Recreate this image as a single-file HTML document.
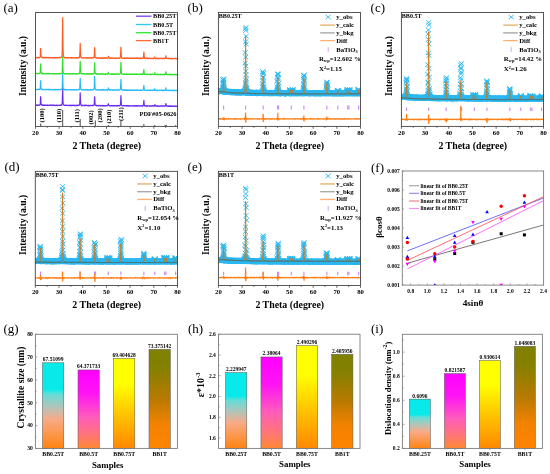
<!DOCTYPE html>
<html><head><meta charset="utf-8"><style>
html,body{margin:0;padding:0;background:#fff;width:550px;height:474px;overflow:hidden}
svg{display:block;will-change:transform}
text{font-family:"Liberation Serif",serif}
</style></head><body>
<svg width="550" height="474" viewBox="0 0 550 474" font-family="Liberation Serif">
<rect width="550" height="474" fill="#fff"/>
<defs><marker id="mx" markerUnits="userSpaceOnUse" markerWidth="60" markerHeight="60" refX="30" refY="30" overflow="visible"><path d="M5,8L55,52M55,8L5,52" stroke="#28b8f2" stroke-width="9" fill="none"/></marker><clipPath id="ca"><rect x="35.45" y="12.55" width="142.05" height="113.85"/></clipPath></defs>
<g clip-path="url(#ca)">
<path transform="scale(.1)" d="M354,1051l2-1 1 3 1-3 1 2 1-1 2-1 1 2 1-2 1 2 1-2 2 0 1 2 1 2 1-4 1 1 1 2 2 1 1-2 1-1 1 3 1-4 2 4 1-3 1-1 1 0 1 1 1 2 2-3 1 2 1 0 1-1 1 0 2-2 1-1 1 1 1 2 1-2 1-2 2-1 1-7 1-14 1-19 1-26 2-15 1 15 1 25 1 23 1 12 2 4 1 6 1-3 1 3 1 2 1-3 2 2 1-2 1 3 1 1 1-1 2 2 1-3 1 2 1 0 1 0 1-1 2 2 1 0 1-2 1 1 1-3 2 3 1 0 1 2 1-1 1-3 1 1 2 1 1-3 1 2 1-1 1 0 2-1 1 4 1-3 1 0 1 1 1 2 2-3 1 1 1 1 1 2 1-1 2 1 1-3 1 0 1 0 1 3 2 0 1-4 1 0 1 0 1 0 1 2 2 0 1-1 1-2 1 2 1 0 2 1 1 2 1-1 1-1 1 0 1 1 2-3 1 4 1-1 1 1 1-1 2-2 1 0 1-1 1 3 1-3 1 0 2 1 1-1 1 1 1-1 1 0 2 0 1 0 1 1 1-1 1 4 1-1 2-3 1 1 1 0 1 0 1-1 2 4 1 1 1-3 1 0 1-2 2 0 1 1 1 0 1 3 1-4 1 0 2 4 1-2 1-2 1 2 1-2 2 2 1 3 1-1 1-1 1-2 1 1 2-1 1 3 1-2 1 2 1-3 2 0 1 3 1 1 1-1 1 0 1 0 2 0 1-3 1 1 1 0 1-2 2 0 1 1 1 0 1 2 1 2 1-3 2 3 1 0 1 0 1-3 1-1 2 0 1 0 1 0 1 2 1 1 2 0 1-2 1 1 1 1 1-4 1 3 2 1 1 0 1-1 1-1 1-1 2 3 1-3 1 3 1 0 1-3 1 0 2 3 1-1 1-3 1-1 1 0 2 4 1-1 1-4 1 3 1 0 1-3 2-4 1-4 1-14 1-26 1-37 2-50 1-25 1 27 1 46 1 43 1 25 2 9 1 5 1 3 1 1 1 3 2-1 1 1 1-1 1 4 1-2 2 0 1 1 1 2 1-2 1 2 1-2 2 1 1 0 1-3 1 2 1-1 2-1 1 4 1-3 1 2 1 1 1-1 2-1 1 1 1 0 1 1 1-3 2 2 1-1 1 0 1 2 1-1 1 0 2 1 1 1 1-2 1 1 1-1 2 0 1 1 1-1 1 0 1 0 2 2 1-1 1 1 1 0 1-3 1 2 2 1 1 0 1-4 1 0 1 2 2-2 1 1 1-1 1 3 1 1 1 0 2-3 1 2 1 0 1-2 1 3 2 1 1-4 1 4 1-3 1 0 1 3 2-1 1-3 1 1 1 1 1-1 2-1 1 1 1 2 1-4 1 3 1-1 2-2 1 2 1 1 1 0 1-3 2 5 1-1 1 1 1-4 1 0 2-1 1 4 1-3 1 0 1 1 1 3 2-1 1-3 1 0 1 4 1-2 2 1 1-3 1-1 1 4 1-2 1-2 2 5 1-2 1 1 1-4 1 4 2-4 1 4 1-2 1 0 1 1 1 1 2-3 1-1 1 2 1-1 1-1 2 0 1-1 1 1 1 0 1-1 1 2 2-4 1 0 1-6 1-8 1-21 2-31 1-38 1-16 1 18 1 36 2 33 1 22 1 5 1 7 1 0 1 2 2 2 1-2 1 1 1 2 1 1 2-3 1 3 1-1 1 0 1-1 1 0 2-2 1 1 1 0 1 3 1-2 2-1 1 0 1 4 1 0 1-1 1-2 2 0 1 0 1 1 1-2 1 2 2-1 1 4 1 0 1-2 1-2 1 4 2-4 1 1 1-2 1 2 1 0 2 0 1-1 1 1 1-2 1 1 2-1 1 2 1-2 1 0 1 2 1-1 2 2 1 0 1 1 1-1 1 1 2 0 1-2 1 0 1 3 1-4 1 3 2-1 1-3 1 4 1 1 1-2 2 1 1 0 1-3 1 2 1 0 1 1 2 0 1 0 1-1 1 2 1-1 2 0 1-3 1-1 1 1 1 1 1-1 2 3 1-1 1 0 1 0 1 1 2-1 1-3 1 4 1 0 1-1 2 0 1 0 1-3 1 4 1-3 1-1 2 1 1 2 1-2 1 2 1 1 2-3 1-1 1 0 1 1 1-1 1-4 2-6 1-16 1-23 1-26 1-11 2 12 1 27 1 20 1 14 1 8 1 4 2 2 1 1 1-2 1 2 1 0 2 0 1-2 1 4 1-3 1 4 1 0 2-5 1 3 1 1 1 1 1-2 2-1 1 0 1 3 1-3 1 2 2-3 1 2 1 2 1-4 1 4 1-2 2 2 1-1 1-2 1 3 1-2 2-2 1 0 1 2 1 0 1-1 1 0 2 1 1 0 1 2 1-4 1 4 2 0 1-3 1 4 1-1 1 1 1-4 2 1 1 0 1 3 1-2 1-1 2 0 1-1 1-1 1 1 1 3 2-2 1 3 1-4 1 0 1 2 1-2 2 1 1 3 1 0 1-1 1-1 2 2 1 0 1-2 1 1 1-3 1 3 2-1 1 1 1 0 1-2 1-1 2 4 1-4 1 2 1-1 1 0 1 2 2 1 1-3 1 2 1-2 1 1 2-1 1-1 1 0 1 0 1 4 1-2 2-2 1 4 1 0 1-3 1-1 2-1 1-1 1 0 1-4 1-4 2-6 1-2 1 5 1 5 1 4 1 3 2 2 1 0 1 0 1-2 1 2 2 3 1-4 1 2 1 1 1 1 1-3 2 0 1 0 1 1 1 0 1 2 2 0 1 0 1-4 1 0 1 3 1 1 2-2 1 1 1-3 1 2 1 2 2 0 1 0 1 1 1-4 1-1 1 1 2 1 1 1 1 2 1-1 1-1 2 1 1-2 1 1 1-3 1 4 2-3 1 4 1-2 1-2 1 0 1 0 2 2 1 0 1-2 1-1 1 3 2 0 1-1 1-1 1 2 1-3 1 2 2 0 1 3 1-2 1 1 1-2 2-1 1 0 1 4 1-1 1-2 1-2 2 3 1 0 1-1 1-1 1 2 2 2 1-4 1-1 1 2 1 0 1 1 2-2 1 3 1-1 1-1 1-1 2 3 1-3 1 2 1-3 1 0 2 2 1-3 1 3 1-4 1-5 1-7 2-14 1-24 1-28 1-19 1 16 2 29 1 29 1 11 1 7 1 3 1 3 2 3 1 1 1-1 1 2 1 0 2-3 1 0 1 3 1 0 1-4 1 3 2-1 1 0 1 0 1-1 1-1 2 2 1 0 1 3 1-4 1 4 1-3 2 0 1 3 1 0 1-2 1-2 2 2 1 0 1 2 1-3 1 1 2 2 1-4 1 2 1 2 1 0 1-4 2 0 1 0 1 4 1-3 1 3 2 0 1-2 1-1 1 4 1-2 1-2 2 3 1-2 1-1 1-1 1 4 2 1 1-2 1 2 1-5 1 1 1 1 2 3 1 0 1-3 1-1 1 1 2 1 1 2 1-4 1 3 1 0 1 0 2 0 1-1 1-1 1 0 1 0 2 2 1-3 1 0 1 3 1-3 2 0 1-1 1 3 1-1 1 3 1 0 2 0 1-3 1-1 1 0 1 2 2 1 1-1 1-2 1 1 1 1 1 1 2 0 1 1 1-1 1-3 1 4 2-3 1 1 1-1 1 2 1-3 1 1 2 0 1-1 1 4 1-2 1-1 2 0 1 3 1-2 1-1 1 3 2-1 1 1 1-4 1 2 1 2 1 0 2 0 1-4 1 1 1-1 1 1 2 3 1-1 1 1 1-3 1 3 1-2 2-1 1 3 1 0 1-4 1 3 2 0 1-2 1 1 1-2 1 1 1 0 2 2 1 0 1-2 1-1 1 1 2 2 1-2 1 0 1 0 1 3 1-2 2-2 1 0 1 2 1 0 1 1 2-3 1 1 1 2 1-1 1-1 2 0 1 3 1-3 1 1 1-1 1 0 2 3 1 0 1-3 1-1 1 2 2-3 1-2 1 3 1-6 1-7 1-16 2-13 1-11 1 7 1 16 1 16 2 9 1 5 1-2 1 3 1-1 1 1 2-1 1 1 1 1 1 2 1-4 2 2 1 2 1 1 1-4 1 0 1 4 2 0 1-3 1-2 1 5 1-3 2 3 1-2 1 1 1-3 1 3 2-3 1 1 1 3 1-1 1-3 1 0 2 1 1 1 1-1 1-1 1 1 2 2 1 1 1-4 1 2 1 1 1-3 2 4 1-4 1 2 1 0 1 1 2-2 1 1 1 0 1 0 1 1 1-1 2 0 1-2 1 3 1-1 1-1 2 2 1 1 1-2 1-1 1 1 1-2 2 0 1 2 1-2 1 2 1 0 2-2 1 3 1-3 1 3 1 0 2-1 1-2 1 2 1-1 1 3 1-4 2 3 1 1 1-3 1-2 1-7 2 0 1-5 1 5 1 4 1 0 1 6 2 1 1-4 1 2 1 2 1-3 2 4 1-3 1 3 1-3 1 1 1 2 2-3 1 0 1 1 1 0 1-2 2 1 1 0 1 4 1-2 1 2 1-4 2 3 1-3 1 2 1 0 1-1 2 2 1-1 1 0 1 2 1-4 2 4 1-2 1-1 1 2 1-2 1 3 2-2 1-1 1 2 1-2 1-1 2 3 1-3 1 3 1-2 1 1 1 2 2-2 1 1 1-2 1-2 1 0 2 1 1 2 1 0 1 0 1 2 1-4 2 0 1 3 1-4 1 0 1 2 2-1 1 1 1-1 1 2 1 0 2-2 1 2 1 0 1-2 1 4 1-3 2-1 1 0 1 2 1 1 1 0 2-2 1-1 1-2 1 3 1-3 1-5 2-6 1-9 1-2 1 4 1 5 2 11 1 0 1 4 1 0 1 0 1-1 2 4 1-4 1 3 1 2 1-4 2 1 1 2 1-1 1 1 1 1 1-3 2 0 1 0 1-1 1 4 1 0 2-1 1-3 1 4 1 0 1-2 2 2 1-2 1-1 1-1 1 1 1-1 2 2 1 2 1-1 1 1 1 0 2-3 1 2 1-1 1 2 1-1 1-2 2 2 1 2 1-4 1 3 1-4 2 1 1 0 1 3 1 1 1-1 1-2 2 3 1-3 1-1 1 4 1-2 2 1 1 0 1 1 1-2 1 1 1 0 2 1 1-3 1 2 1-1 1-1 2-1 1 2 1-2 1 4 1-4 2-1 1 1 1 4 1-3 1-1 1 0 2 0 1 3 1 0 1 0 1 0 2-3 1 2 1-1 1 3 1 0 1 0 2-4 1 4 1 0" fill="none" stroke="#6a2cf0" stroke-width="11.5" stroke-linejoin="round"/>
<path transform="scale(.1)" d="M354,897l2-4 1 0 1 0 1 0 1 4 2-1 1 0 1 1 1-1 1-2 2-1 1 0 1 3 1-3 1 1 1 1 2-2 1 1 1 0 1 2 1-2 2 0 1 3 1-2 1 1 1-1 1-3 2 2 1 0 1 2 1-3 1 2 2-1 1-2 1 3 1-4 1 3 1-5 2-3 1-6 1-11 1-21 1-31 2-11 1 14 1 27 1 20 1 15 2 5 1 6 1-2 1 4 1-3 1 0 2 3 1-1 1-1 1 2 1-2 2 3 1 0 1 0 1 0 1-2 1 1 2 0 1 2 1-4 1 4 1-4 2 1 1 0 1 3 1-2 1 0 1 2 2-3 1 1 1 1 1 1 1 0 2-1 1-1 1 0 1-1 1 3 1-1 2 1 1-3 1 1 1 2 1-1 2-2 1 2 1 2 1-4 1 0 2 1 1 2 1 0 1-3 1 0 1 1 2 0 1 1 1-2 1 1 1-1 2 4 1-1 1-3 1 4 1-4 1 1 2 3 1-1 1 0 1-1 1-2 2 3 1-3 1 0 1 1 1-1 1 1 2 2 1 0 1-1 1 1 1-1 2-2 1 3 1-1 1 1 1 1 1-2 2 0 1 1 1-1 1-1 1 2 2 1 1-1 1 0 1 1 1-1 2 0 1-1 1-1 1 2 1-3 1 2 2 2 1-1 1 0 1-2 1 1 2 0 1 1 1-1 1 1 1 1 1-3 2 2 1 1 1-2 1 0 1 3 2-5 1 3 1-2 1 3 1 1 1-3 2-2 1 3 1 0 1 0 1-1 2 1 1 1 1-2 1 0 1 3 1-4 2 2 1-1 1 2 1-4 1 5 2-3 1-2 1 1 1 1 1-2 2 2 1 0 1 1 1-1 1-1 1 0 2 2 1 1 1-2 1-1 1 3 2-2 1-1 1-1 1 3 1 0 1-1 2 0 1 0 1-2 1 4 1-4 2 1 1 1 1-1 1-2 1-2 1 0 2-4 1-2 1-13 1-22 1-43 2-47 1-24 1 24 1 46 1 40 1 27 2 10 1 5 1 2 1 2 1 1 2 2 1 0 1-1 1 3 1 0 2-4 1 4 1 1 1 0 1-4 1 4 2-1 1-3 1 0 1 5 1-2 2-2 1 0 1 0 1 0 1 3 1-2 2-1 1 4 1-1 1-3 1 4 2-1 1 0 1 0 1 1 1-1 1 1 2-3 1 2 1-1 1 1 1-1 2 2 1-2 1-1 1 0 1-1 2 2 1-2 1 2 1-2 1 2 1 0 2 0 1 2 1-4 1 4 1-2 2 1 1 0 1 1 1-2 1 0 1 3 2-5 1 3 1 0 1-3 1 3 2 0 1 2 1-3 1 3 1-2 1-1 2 2 1-4 1 4 1-1 1-1 2 2 1-2 1 0 1 1 1 1 1-3 2 1 1 0 1 1 1 1 1-2 2 2 1-2 1 1 1-2 1 2 2 2 1-2 1 1 1-2 1 0 1 0 2 1 1 0 1 1 1-4 1 4 2 1 1-2 1-3 1 2 1-2 1 1 2 4 1-2 1 0 1 1 1 1 2-2 1 0 1 0 1 0 1 0 1 0 2-2 1 2 1-1 1 1 1-3 2 0 1-1 1 4 1 0 1-2 1-2 2 2 1-2 1-5 1-10 1-17 2-28 1-34 1-16 1 18 1 35 2 24 1 20 1 6 1 3 1 6 1-1 2 3 1-2 1-2 1 2 1 1 2 2 1 1 1-3 1 0 1-1 1 2 2-2 1 0 1-1 1 0 1 4 2-3 1 4 1-4 1 4 1-4 1 0 2 3 1-2 1 2 1-2 1-1 2 4 1-1 1 1 1-1 1-3 1 3 2 0 1-1 1 3 1-4 1 4 2-2 1-3 1 0 1 3 1 1 2-4 1 1 1 3 1-3 1 3 1-2 2-2 1 2 1 1 1-1 1 1 2-2 1 3 1-2 1 1 1 0 1-1 2 0 1 2 1 1 1-1 1-1 2-1 1-2 1 5 1-1 1 0 1-2 2 1 1 2 1-1 1-1 1-1 2 0 1 3 1-3 1 2 1-1 1 2 2-1 1-2 1-2 1 1 1 1 2 1 1 1 1 0 1-4 1 4 2 0 1 0 1-1 1-2 1 3 1 0 2-1 1 1 1-3 1-2 1 2 2 1 1-4 1 2 1 0 1-5 1-3 2-9 1-22 1-36 1-40 1-18 2 21 1 39 1 32 1 25 1 9 1 2 2 4 1 2 1 1 1-1 1 0 2 1 1-2 1 0 1 1 1 2 1-1 2 1 1-1 1 1 1-2 1 0 2 4 1-3 1-1 1 3 1 0 2-3 1 3 1-2 1 1 1-2 1 0 2 5 1-1 1-2 1 1 1-2 2 3 1-2 1 3 1-1 1 0 1 1 2-4 1-1 1 1 1 0 1-1 2 0 1 3 1 1 1-2 1 3 1 0 2-5 1 3 1-1 1-1 1 4 2-4 1 2 1 0 1 2 1-2 2-1 1 0 1-1 1 4 1 0 1-4 2-1 1 1 1 1 1 3 1 0 2-1 1-4 1 4 1 0 1-1 1 2 2-4 1 0 1 3 1 1 1-1 2-2 1 1 1 1 1-3 1 1 1 0 2-1 1 2 1-2 1 1 1-1 2 3 1-4 1 4 1-3 1-1 1 5 2-4 1 4 1-1 1 0 1-4 2 2 1-3 1 3 1-3 1-6 2-7 1-4 1 6 1 4 1 6 1 0 2 2 1 0 1 3 1 0 1-2 2 4 1-3 1 0 1-1 1 1 1 3 2-3 1-1 1 2 1-1 1 3 2-4 1 5 1-5 1 4 1-1 1-2 2 1 1-1 1 0 1 0 1 1 2 3 1 0 1-1 1-4 1 1 1 3 2-4 1 4 1-3 1 4 1-5 2 4 1-2 1-1 1-1 1 4 2-1 1-2 1 1 1 3 1-4 1 2 2-2 1 0 1 3 1 0 1-3 2-1 1 0 1 3 1-1 1-1 1 0 2 2 1 1 1 0 1-1 1-2 2-1 1 4 1-2 1 2 1-4 1 4 2-2 1 2 1 0 1-2 1-2 2 5 1-3 1 2 1-3 1 0 1 3 2-2 1-1 1 1 1 1 1-4 2 3 1-1 1 1 1-3 1 3 2 0 1 0 1-4 1 1 1-5 1-6 2-20 1-23 1-31 1-18 1 16 2 32 1 27 1 13 1 13 1-1 1 2 2 0 1 1 1 4 1-4 1 1 2 3 1-2 1-1 1 3 1 0 1 0 2 1 1-3 1 4 1-1 1-3 2 0 1 2 1 0 1-1 1-1 1 2 2-2 1 3 1 1 1-4 1 2 2 1 1-3 1 4 1 0 1-2 2 0 1 2 1-2 1 0 1 2 1 0 2-3 1 0 1 0 1 1 1 3 2-1 1 0 1 0 1 0 1-4 1 2 2 3 1 0 1-4 1 1 1 1 2-1 1 1 1-3 1 2 1 1 1-3 2 1 1 4 1-1 1 1 1-2 2 1 1 1 1 0 1-5 1 3 1-2 2 3 1-2 1 1 1 2 1-2 2-2 1 2 1-1 1 3 1-3 2 0 1 1 1-2 1 2 1 2 1-2 2-1 1 1 1 0 1-2 1 0 2 0 1 1 1 0 1 0 1 0 1-1 2 2 1 2 1-2 1 0 1 1 2-3 1 3 1-1 1 0 1 1 1-1 2-1 1 0 1 0 1 1 1-1 2 1 1-2 1 1 1 3 1-3 2 1 1 0 1-1 1 3 1-3 1 2 2-3 1 0 1 4 1-2 1-2 2 2 1 0 1 1 1-3 1 1 1 3 2-1 1-3 1 1 1 0 1 2 2 0 1 1 1 0 1-2 1 1 1 0 2 1 1-2 1 2 1-1 1 1 2-4 1 4 1-4 1 4 1-1 1-1 2 3 1-2 1-1 1 2 1 0 2-1 1-1 1 0 1 0 1 1 2-2 1 1 1 0 1-1 1 0 1 2 2 1 1-2 1-1 1-1 1 0 2-1 1 1 1-1 1-6 1-4 1-15 2-12 1-8 1 8 1 11 1 14 2 10 1-1 1 2 1 3 1 0 1 3 2-1 1-1 1 3 1-3 1 0 2 1 1-1 1 0 1 1 1-1 1 3 2-2 1 0 1-2 1 1 1 0 2 1 1 0 1 2 1 0 1-2 2-1 1 1 1 2 1-3 1 1 1 1 2-3 1 1 1 3 1 0 1-2 2-2 1 4 1-1 1 1 1 0 1 0 2-2 1-2 1 1 1 1 1 0 2-2 1 0 1 3 1 0 1-2 1 4 2-2 1-3 1 2 1 2 1-3 2 2 1-3 1 1 1 3 1-1 1 0 2-2 1 1 1 0 1-1 1 2 2-1 1 3 1-3 1 0 1-2 2 0 1 3 1-3 1 0 1 0 1 2 2 1 1-1 1 0 1-6 1-4 2-1 1-5 1 5 1 2 1 3 1 3 2 0 1 5 1-2 1-1 1 1 2 0 1-2 1 4 1-1 1 2 1-3 2 1 1-2 1-1 1 5 1-1 2-2 1 2 1 0 1-2 1 1 1 2 2-2 1 2 1-4 1 1 1 2 2-3 1 1 1 3 1-2 1 1 2-3 1 0 1 1 1-1 1 4 1-3 2 1 1-2 1 2 1-1 1 0 2-1 1 0 1 3 1-2 1 0 1-1 2 1 1-1 1-1 1 4 1-2 2-1 1 3 1-3 1 1 1 3 1-4 2 2 1 2 1-1 1-3 1 1 2 2 1-2 1 3 1-4 1 4 2-2 1-2 1 2 1-2 1 3 1-2 2 3 1-2 1-1 1-1 1 2 2-2 1 3 1-4 1 1 1-2 1-6 2-4 1-10 1-3 1 4 1 7 2 7 1 3 1 2 1 5 1-3 1 2 2-2 1 2 1-1 1 1 1-1 2-1 1 1 1 0 1-1 1 3 1-2 2 1 1 2 1 0 1 0 1 0 2-4 1 1 1-1 1 3 1 0 2-1 1 0 1 1 1 0 1-2 1 3 2-2 1 1 1-2 1 0 1 4 2-1 1 0 1-4 1 0 1 1 1 0 2 1 1 0 1-2 1 2 1 1 2-2 1 3 1-1 1 1 1-3 1 1 2 2 1-2 1-2 1 4 1 0 2-2 1-2 1 4 1-1 1-3 1 1 2 0 1 3 1-3 1 4 1-1 2-3 1 3 1-2 1 2 1 0 2-2 1-1 1 4 1-3 1 3 1-1 2 0 1 1 1-1 1-1 1-2 2 3 1-1 1 0 1 2 1-4 1 3 2-3 1 3 1 1" fill="none" stroke="#28bcf5" stroke-width="11.5" stroke-linejoin="round"/>
<path transform="scale(.1)" d="M354,735l2 1 1 2 1-1 1-1 1-1 2-1 1 1 1 0 1-1 1 1 2-1 1 3 1 0 1-2 1 0 1 1 2 0 1 2 1-3 1 0 1 3 2-4 1 2 1-1 1 2 1-1 1 1 2-3 1 2 1 0 1-1 1 1 2 0 1-3 1 0 1 0 1-2 1-2 2-2 1-7 1-12 1-25 1-30 2-14 1 15 1 28 1 23 1 15 2 6 1 8 1 0 1-2 1 3 1 2 2-2 1-2 1 2 1 0 1-1 2 2 1-3 1 5 1-1 1 0 1 1 2-1 1-2 1 0 1-1 1 0 2 4 1 0 1-3 1 0 1 2 1 1 2 1 1-4 1 3 1 0 1 0 2-2 1-1 1 3 1-2 1 0 1 1 2-1 1 2 1-3 1-1 1 3 2 0 1 1 1 0 1 1 1 0 2-2 1 0 1-2 1 1 1 1 1-2 2 3 1-3 1 2 1 2 1-4 2 0 1 2 1-2 1 3 1-4 1 5 2 0 1-1 1-1 1-1 1 2 2-1 1 0 1-1 1 1 1 1 1 1 2 0 1-4 1 1 1 1 1 0 2-1 1 0 1-1 1 1 1 1 1 2 2 0 1 0 1 0 1 0 1-1 2 1 1-4 1 3 1 0 1-2 2 2 1 1 1-2 1 1 1-2 1 0 2 3 1-4 1 1 1 2 1-1 2-2 1 3 1-1 1 1 1-1 1 0 2 1 1-1 1-2 1 1 1 3 2-1 1-3 1 4 1-3 1-1 1 2 2-1 1 1 1 1 1-2 1 2 2-3 1 2 1 1 1-3 1 2 1-2 2 2 1 2 1-1 1 0 1 1 2-4 1 5 1-2 1-3 1 4 2-2 1-1 1 4 1-2 1 1 1-4 2 4 1-4 1 1 1 1 1-2 2 3 1-2 1 0 1 2 1-2 1 3 2-2 1 1 1-1 1 1 1 0 2-4 1 2 1-2 1 1 1-1 1-1 2-6 1-4 1-10 1-25 1-44 2-53 1-23 1 23 1 52 1 45 1 22 2 16 1 4 1 1 1 1 1 2 2 3 1-1 1-2 1 0 1 0 2 4 1-3 1 2 1-1 1 2 1-1 2-1 1 3 1-1 1 0 1 1 2 1 1-5 1 2 1-1 1 2 1 2 2-1 1-3 1 0 1 4 1-1 2-2 1 1 1-2 1 4 1-3 1 3 2-1 1-3 1 1 1 0 1 3 2-1 1-3 1 1 1 0 1 1 2 1 1-1 1-1 1-1 1 3 1-2 2-1 1 2 1 3 1-5 1 1 2 2 1-2 1 0 1 1 1-1 1 2 2 0 1 2 1 0 1-5 1 3 2 1 1 0 1 0 1-1 1 0 1-1 2-1 1 3 1 0 1 1 1-2 2-1 1 2 1 0 1-1 1 0 1-1 2 1 1-1 1-2 1 2 1 0 2 3 1-3 1 0 1-1 1 0 2 1 1-1 1-1 1 4 1-2 1 0 2 1 1-1 1-1 1-1 1 2 2 0 1 2 1-1 1 2 1-3 1 3 2-2 1-3 1 1 1 2 1 2 2-3 1 2 1-2 1 2 1-4 1 2 2 2 1-3 1 0 1-1 1 0 2 0 1 2 1-2 1 0 1-1 1 1 2 0 1-3 1-6 1-6 1-18 2-34 1-40 1-15 1 19 1 35 2 31 1 19 1 11 1 6 1 0 1 3 2-3 1 1 1 2 1 0 1-1 2 2 1-2 1-1 1 2 1-2 1 3 2-1 1 1 1 0 1-1 1 1 2-3 1 5 1-2 1 2 1-4 1 3 2 0 1-2 1-1 1 0 1 0 2 4 1-4 1 4 1-2 1 0 1 1 2 0 1 0 1 0 1-1 1 2 2-3 1 2 1 1 1 0 1-3 2 3 1 1 1-3 1-1 1 2 1 2 2-4 1-1 1 2 1 1 1 1 2-2 1 3 1-4 1 3 1-3 1-1 2 1 1-1 1 3 1 0 1-2 2 4 1-3 1-1 1 0 1 3 1 1 2-4 1-1 1 4 1-3 1 4 2-2 1 0 1-1 1 2 1-2 1 0 2 3 1-4 1 3 1-4 1 3 2-1 1 2 1-4 1 3 1-1 2 3 1 0 1-2 1-2 1 0 1 0 2 1 1-1 1-1 1 3 1-1 2-2 1 3 1-4 1 0 1-3 1 0 2-8 1-20 1-25 1-32 1-19 2 17 1 33 1 30 1 13 1 10 1 3 2 1 1 2 1 2 1-3 1 3 2-2 1 2 1 1 1-3 1 3 1 1 2-3 1-2 1 1 1 4 1-5 2 5 1-4 1 3 1-3 1 0 2 3 1-3 1 1 1 3 1-1 1 1 2 1 1-5 1 1 1 3 1-1 2-3 1 2 1-1 1 1 1-2 1 0 2 5 1-3 1 2 1-3 1 1 2-1 1 1 1-1 1 2 1-2 1 3 2-1 1-2 1 1 1 1 1 2 2-3 1-1 1 4 1 0 1-1 2-3 1 0 1 0 1 0 1-1 1 3 2-1 1 1 1-1 1-2 1 4 2-1 1 0 1 0 1 1 1 1 1 0 2-1 1-2 1 0 1 0 1 3 2-3 1 0 1 0 1-1 1 4 1-5 2 3 1 2 1-3 1 1 1-1 2 0 1-1 1 0 1 3 1 0 1 1 2-5 1 4 1-2 1 1 1 0 2-2 1 3 1-7 1 1 1-4 2-8 1-2 1 5 1 2 1 7 1 3 2 0 1 2 1-1 1 1 1 0 2 1 1-2 1 2 1-1 1-1 1 2 2-2 1 3 1-2 1 1 1-1 2 0 1-1 1-1 1 4 1-2 1 0 2 0 1 2 1-3 1 0 1 3 2-2 1 1 1 1 1 0 1 0 1-4 2 2 1 2 1 0 1-4 1 1 2 0 1-1 1 2 1 2 1-1 2-1 1-2 1 2 1 3 1-2 1-1 2 0 1 2 1 0 1-3 1 2 2-1 1 1 1-2 1 1 1 0 1 0 2-2 1 1 1 2 1-3 1 1 2 3 1-3 1 1 1-1 1 3 1-4 2 3 1 1 1-3 1 1 1 2 2-1 1-1 1-2 1 2 1 0 1 1 2-2 1 1 1 1 1 1 1-3 2 0 1 1 1 1 1-4 1 4 2-2 1-2 1 0 1-3 1-5 1-5 2-21 1-30 1-36 1-16 1 17 2 33 1 33 1 18 1 9 1 6 1-1 2 1 1 3 1-1 1 0 1 1 2 1 1 0 1 0 1-1 1-2 1 3 2 0 1 1 1 0 1-3 1 0 2 0 1 3 1-3 1 0 1 3 1-1 2-2 1 3 1 0 1-1 1-2 2 3 1-1 1 1 1 2 1-1 2 0 1-4 1 1 1 1 1-2 1 5 2-4 1 0 1 0 1 0 1 3 2-1 1-1 1 0 1-2 1 1 1 3 2 0 1 0 1-3 1 0 1-1 2 3 1-1 1 0 1 0 1 1 1-1 2 2 1-3 1 4 1-2 1-3 2 2 1 1 1-1 1 1 1-1 1-1 2 3 1-2 1 2 1 0 1-1 2-1 1 3 1-3 1 3 1-5 2 2 1 1 1-3 1 5 1-4 1 2 2-2 1 4 1-2 1 1 1-1 2 1 1 0 1-2 1-1 1 4 1-4 2 4 1-4 1 0 1 0 1 3 2 1 1-3 1 2 1-2 1 3 1-1 2-3 1 0 1 3 1-3 1 4 2-3 1 0 1 1 1-1 1 1 2-2 1 4 1-3 1 3 1-4 1 4 2 0 1-2 1-2 1 2 1 1 2-2 1 1 1-2 1 2 1 1 1-1 2 1 1-3 1 4 1-4 1 4 2 1 1-1 1-2 1-1 1 0 1 2 2-1 1 2 1-4 1 2 1 2 2-1 1-1 1-2 1 0 1 1 1 3 2 0 1-3 1 3 1-4 1 3 2 2 1-4 1 3 1-1 1-3 2 1 1 1 1-1 1 2 1-3 1 3 2-2 1-1 1 2 1-3 1 3 2 0 1-1 1-2 1-6 1-4 1-14 2-11 1-9 1 9 1 12 1 12 2 8 1 1 1 2 1 4 1-2 1 2 2 1 1-2 1-2 1 0 1 4 2-4 1 2 1 1 1-2 1 1 1-1 2 2 1 0 1-1 1-1 1 1 2-1 1 0 1 0 1 4 1-2 2 2 1-5 1 5 1-2 1 1 1-1 2 1 1-2 1 2 1-3 1 1 2-1 1 1 1 1 1-1 1 3 1-4 2 2 1-1 1 1 1 1 1 0 2-3 1 1 1 2 1 1 1-4 1 3 2 0 1 1 1-3 1 3 1-2 2 2 1-4 1 4 1-2 1 0 1-2 2 1 1 2 1 0 1-3 1 1 2-1 1 1 1 0 1 0 1 3 2 1 1-1 1-2 1 0 1 1 1 1 2-1 1-1 1-3 1-1 1-2 2-5 1-6 1 6 1 2 1 3 1 6 2 0 1 1 1-3 1 4 1 0 2 0 1-1 1 1 1 0 1-1 1-1 2 2 1 0 1 0 1-3 1 4 2-2 1 2 1-4 1 4 1-1 1-3 2 3 1-3 1 0 1 1 1-1 2 2 1 2 1-1 1 0 1-2 2 2 1 0 1 0 1 1 1-1 1-2 2-1 1 2 1 1 1-2 1 1 2 1 1 0 1-4 1 3 1-3 1 1 2 3 1-2 1 1 1 0 1-1 2-1 1 1 1 3 1-2 1-1 1-1 2 1 1 2 1-1 1 1 1 0 2-3 1 3 1-3 1 3 1-3 2 1 1 3 1-3 1-1 1 4 1-2 2 2 1-3 1 1 1 2 1-2 2 2 1-4 1 2 1-4 1 0 1-7 2-6 1-4 1-7 1 6 1 5 2 8 1 3 1 4 1 3 1-2 1 0 2 3 1 0 1-1 1-3 1 3 2-1 1 2 1-3 1 2 1 0 1-1 2 0 1 1 1 1 1-2 1 0 2 3 1-5 1 4 1-1 1 0 2-1 1 2 1 0 1 0 1 0 1-4 2 2 1-1 1 4 1-1 1-3 2 2 1 0 1-3 1 2 1 2 1-1 2-2 1 3 1-2 1 1 1-1 2 3 1-2 1 1 1 0 1-2 1 3 2-1 1 0 1-2 1-1 1 2 2 1 1 0 1-2 1-1 1 2 1 2 2-4 1 3 1-3 1 1 1-1 2 1 1 0 1 3 1 0 1-4 2 1 1 3 1-4 1 1 1 1 1-2 2 1 1 0 1 0 1 3 1-3 2-1 1 4 1-2 1 2 1-1 1 0 2-2 1-1 1 3" fill="none" stroke="#2ee02a" stroke-width="11.5" stroke-linejoin="round"/>
<path transform="scale(.1)" d="M354,576l2 0 1 1 1 0 1-2 1 0 2 3 1-2 1-1 1 2 1-2 2 2 1-3 1 4 1-2 1-1 1 3 2-3 1 0 1-1 1 2 1 1 2 0 1-2 1 2 1-3 1 1 1 1 2 2 1-2 1 0 1 1 1-3 2 3 1-1 1-3 1 0 1 1 1-3 2-4 1-3 1-16 1-24 1-27 2-13 1 10 1 29 1 23 1 16 2 7 1 4 1 1 1 0 1 0 1 1 2-1 1 3 1 0 1 0 1-3 2 3 1 0 1-1 1 2 1 0 1-1 2 1 1-1 1 1 1-4 1 3 2 0 1 0 1-2 1-1 1 3 1 1 2-3 1 0 1 0 1-1 1 3 2 2 1-1 1-2 1 2 1-4 1 4 2-2 1-2 1 3 1-2 1 1 2-2 1 2 1 1 1 1 1-4 2 4 1-3 1 0 1 2 1-1 1 0 2 1 1-2 1 3 1-3 1 3 2 0 1-1 1-3 1 4 1-4 1 3 2-1 1-1 1 3 1 0 1-1 2-1 1 1 1 0 1-1 1 3 1 0 2-1 1 1 1-3 1 3 1-4 2 2 1-2 1 2 1 1 1 0 1-1 2-1 1-1 1 2 1-1 1 0 2 2 1-1 1 0 1-1 1 2 2-2 1 0 1 1 1 1 1 1 1-1 2 1 1 0 1-1 1 0 1-3 2 1 1-1 1 4 1-1 1 0 1-2 2 0 1-1 1 3 1 2 1-4 2-1 1 1 1 0 1 3 1 0 1-2 2-2 1 0 1 0 1 4 1-2 2 3 1-1 1 0 1-2 1 2 1-4 2 0 1 2 1 0 1-1 1 0 2-1 1 4 1-1 1 1 1 0 2-2 1 1 1-2 1 2 1 0 1-3 2-1 1 1 1 2 1-1 1-2 2 4 1 0 1-2 1-2 1 4 1-2 2-3 1 1 1 1 1 1 1-3 2 0 1-3 1-1 1 2 1-5 1-5 2-3 1-15 1-29 1-59 1-101 2-119 1-59 1 58 1 117 1 105 1 58 2 31 1 12 1 7 1 4 1 0 2 3 1 2 1 0 1-1 1 4 2-1 1-2 1 1 1 4 1-3 1 1 2 2 1 0 1-1 1 1 1-3 2 0 1 4 1 0 1-4 1 0 1 1 2 4 1-4 1 2 1 2 1-2 2 2 1-4 1 0 1-1 1 4 1-3 2 4 1-1 1-3 1 3 1-3 2 2 1-2 1 3 1 1 1 0 2-4 1 4 1-2 1 2 1-2 1 1 2 0 1 1 1-4 1 0 1 2 2-1 1 1 1-2 1 3 1-3 1 4 2 0 1-2 1-2 1 3 1-2 2 1 1-2 1 5 1-2 1-1 1-2 2 4 1 0 1 0 1-4 1 2 2-1 1 3 1-3 1 2 1 2 1-1 2-4 1 0 1 1 1 2 1 0 2 0 1-1 1 0 1 1 1 0 2 2 1-1 1 0 1 1 1-1 1 0 2-4 1 3 1 1 1-2 1 2 2-3 1 4 1-3 1 2 1-3 1 1 2 0 1 0 1-2 1 2 1 3 2-2 1 2 1-1 1 0 1 1 1-2 2-2 1 0 1 0 1-2 1 1 2 3 1 0 1-3 1 2 1-1 1 0 2-2 1-3 1-7 1-7 1-24 2-36 1-44 1-21 1 24 1 39 2 39 1 22 1 10 1 7 1-1 1 4 2 0 1 2 1-4 1 1 1 1 2 3 1-4 1 1 1 2 1 2 1-4 2 1 1 2 1 0 1 0 1 0 2-2 1 0 1-1 1 3 1-2 1 0 2 3 1-1 1 0 1 0 1 0 2 0 1-2 1-1 1 0 1 0 1 2 2-2 1 0 1 2 1 3 1-2 2-2 1 3 1-3 1-1 1 1 2 1 1 1 1-1 1 2 1-4 1 5 2-3 1 2 1-4 1 4 1-3 2 3 1 0 1-1 1-2 1-1 1 1 2 4 1-4 1 2 1 0 1 0 2-2 1 0 1 0 1 4 1-3 1 1 2 0 1-2 1-1 1 0 1 4 2-3 1 4 1-3 1 2 1-3 1 3 2-3 1 1 1 1 1-2 1 0 2 3 1-2 1 0 1 2 1-3 2 0 1 0 1 1 1 0 1 1 1-1 2 2 1-4 1 3 1 0 1-3 2-1 1 1 1-2 1 1 1 0 1-6 2-8 1-14 1-27 1-31 1-14 2 14 1 30 1 28 1 16 1 10 1 1 2-1 1 2 1 3 1 0 1 1 2 1 1 0 1-4 1 5 1-2 1-2 2 0 1 4 1-4 1 0 1 1 2 3 1-2 1 1 1-3 1 2 2-1 1 0 1 2 1-2 1-1 1 5 2-3 1-1 1-1 1 3 1-1 2-2 1 2 1 2 1-1 1-2 1 1 2 1 1 0 1-2 1 3 1 1 2-1 1 0 1-2 1 3 1-4 1 0 2 2 1 2 1-5 1 1 1-1 2 2 1-1 1 0 1 3 1-1 2 2 1-3 1 2 1-4 1 5 1-4 2 2 1 0 1 2 1-2 1 2 2-2 1-2 1 3 1-3 1 4 1-2 2-2 1 4 1-3 1 0 1 0 2 2 1-4 1 2 1-1 1 3 1-4 2 3 1-1 1 1 1 0 1 1 2-3 1 1 1-1 1 4 1-4 1 0 2 2 1 0 1 1 1-4 1 1 2-1 1 2 1-2 1-3 1-3 2-7 1-2 1 3 1 3 1 8 1 1 2-1 1 5 1-4 1 0 1 2 2 0 1 3 1 0 1-2 1 0 1 2 2 0 1-1 1-1 1-2 1 1 2 2 1 0 1 1 1 0 1 1 1-4 2-1 1 4 1-1 1-2 1 2 2-2 1 0 1 1 1 0 1 1 1-3 2 4 1-1 1-1 1 1 1 1 2-4 1 2 1 1 1 0 1 0 2-2 1 4 1-1 1-3 1 1 1 3 2-4 1 1 1 3 1-1 1-3 2 3 1-2 1 1 1 1 1-3 1 0 2 0 1 0 1-1 1 1 1 1 2 0 1-2 1 3 1 2 1-2 1-1 2 2 1-2 1-1 1 1 1-2 2 3 1-2 1 1 1 3 1-1 1 0 2-1 1 0 1 0 1 1 1-4 2 3 1-2 1-1 1 3 1-2 2 1 1 0 1-3 1-3 1-4 1-6 2-15 1-30 1-33 1-16 1 17 2 34 1 24 1 18 1 8 1 6 1 3 2-4 1 1 1 4 1 1 1-4 2 1 1 1 1-1 1 1 1 0 1-1 2-1 1 1 1 0 1 0 1 2 2 1 1-2 1 2 1 0 1-2 1 1 2-2 1 4 1-2 1-2 1 0 2 3 1-1 1 1 1-2 1 3 2 0 1-4 1 3 1-2 1 2 1 1 2 0 1-3 1-1 1 3 1 0 2-2 1 0 1 2 1-3 1 3 1-2 2 0 1 1 1 1 1 1 1-4 2 4 1-3 1 0 1 2 1 0 1 0 2 2 1-4 1 1 1 1 1-2 2 0 1 0 1 3 1 0 1 0 1 1 2-1 1-2 1 0 1 2 1-4 2 3 1-2 1-1 1 3 1-2 2 4 1 0 1-2 1-2 1 0 1 2 2 0 1-1 1 2 1-1 1 1 2-3 1 0 1 1 1 1 1-1 1 2 2-3 1 1 1 1 1 1 1 0 2-2 1 1 1 2 1 0 1-1 1-3 2 2 1 1 1-2 1-1 1 4 2 0 1-4 1 2 1 1 1-2 2-1 1 3 1 0 1-1 1-2 1 2 2-2 1 4 1-4 1 1 1 2 2-3 1 0 1 0 1 0 1 2 1 2 2-4 1 1 1 2 1-1 1-1 2-1 1 1 1 4 1-5 1 1 1 2 2 1 1 0 1-2 1 3 1-2 2-2 1 1 1 1 1 0 1-3 1 1 2 4 1-5 1 4 1-3 1 0 2 0 1 1 1 3 1-5 1 4 2-3 1-1 1 3 1-2 1-1 1 1 2 2 1 0 1-1 1-3 1 3 2-1 1 0 1-1 1-8 1-7 1-15 2-21 1-9 1 9 1 18 1 16 2 8 1 5 1 6 1-2 1 2 1 1 2 0 1-3 1 4 1 0 1 1 2-2 1 1 1 0 1-3 1 2 1-1 2 2 1-3 1 2 1-1 1 2 2-2 1 2 1 0 1 1 1-4 2 4 1-1 1 0 1 0 1-3 1 4 2-2 1 0 1-1 1 2 1 0 2 1 1-4 1 1 1 0 1-1 1 1 2-1 1 3 1-2 1-1 1 0 2 3 1-2 1 1 1 0 1 2 1 0 2-3 1 2 1 1 1-2 1 2 2-1 1-2 1 3 1-2 1-2 1 3 2 1 1-2 1 0 1 0 1 2 2-1 1-2 1 0 1 0 1 3 2-1 1-3 1 4 1-4 1 2 1-1 2 2 1-2 1-3 1 0 1-2 2-5 1-4 1 1 1 7 1 4 1 0 2 4 1 1 1-2 1-1 1 2 2 1 1-3 1 0 1 0 1 3 1-3 2 2 1-1 1 1 1-2 1 4 2 0 1-2 1 1 1-3 1 4 1-2 2 1 1 0 1-2 1 3 1-4 2-1 1 3 1 2 1 0 1 0 2-2 1 2 1-2 1-2 1 2 1 1 2-2 1 1 1-1 1 0 1 0 2 1 1 0 1-2 1-1 1 2 1 2 2 0 1-3 1 1 1 1 1-2 2 2 1 2 1-4 1 2 1 1 1 0 2 0 1 0 1-2 1 3 1 0 2-4 1 4 1-2 1-2 1 0 2 3 1 0 1-3 1 2 1 1 1 1 2-3 1 2 1-3 1 0 1 0 2 1 1 1 1-2 1-2 1-2 1-4 2-7 1-8 1-3 1 3 1 9 2 7 1 7 1 0 1 3 1-2 1-1 2 2 1-2 1 0 1 0 1 3 2 1 1-2 1-1 1 1 1-1 1 2 2-1 1-2 1 4 1-1 1-3 2 4 1-1 1-1 1 1 1 1 2-2 1 0 1-1 1 2 1 0 1 1 2 1 1-4 1 1 1 2 1 0 2-1 1 0 1-1 1 3 1-2 1-1 2-1 1 0 1 4 1-1 1-4 2 2 1 0 1 1 1-1 1 3 1-3 2 1 1 2 1-2 1 0 1-1 2 0 1 1 1 1 1-2 1 0 1 0 2 0 1 3 1-2 1-1 1 0 2 2 1-3 1 3 1-4 1 1 2 0 1 3 1-3 1 0 1 0 1 1 2 2 1 0 1 1 1 0 1-2 2 2 1-4 1 4 1-2 1-2 1 3 2 1 1-3 1-1" fill="none" stroke="#ff5a1f" stroke-width="11.5" stroke-linejoin="round"/>
</g>
<line x1="135.9" y1="16.2" x2="151.4" y2="16.2" stroke="#7a3cf5" stroke-width="1.3"/>
<text x="153.1" y="18.4" font-size="6.2" font-weight="bold" text-anchor="start" fill="#000">BB0.25T</text>
<line x1="135.9" y1="24.5" x2="151.4" y2="24.5" stroke="#30c8f8" stroke-width="1.3"/>
<text x="153.1" y="26.7" font-size="6.2" font-weight="bold" text-anchor="start" fill="#000">BB0.5T</text>
<line x1="135.9" y1="32.7" x2="151.4" y2="32.7" stroke="#30e830" stroke-width="1.3"/>
<text x="153.1" y="34.9" font-size="6.2" font-weight="bold" text-anchor="start" fill="#000">BB0.75T</text>
<line x1="135.9" y1="40.6" x2="151.4" y2="40.6" stroke="#ff6a35" stroke-width="1.3"/>
<text x="153.1" y="42.8" font-size="6.2" font-weight="bold" text-anchor="start" fill="#000">BB1T</text>
<line x1="40.66" y1="123.5" x2="40.66" y2="126.4" stroke="#222" stroke-width="0.8"/>
<line x1="62.68" y1="110" x2="62.68" y2="126.4" stroke="#222" stroke-width="0.8"/>
<line x1="80.2" y1="119" x2="80.2" y2="126.4" stroke="#222" stroke-width="0.8"/>
<line x1="95.35" y1="120.4" x2="95.35" y2="126.4" stroke="#222" stroke-width="0.8"/>
<line x1="108.37" y1="125" x2="108.37" y2="126.4" stroke="#222" stroke-width="0.8"/>
<line x1="120.92" y1="121" x2="120.92" y2="126.4" stroke="#222" stroke-width="0.8"/>
<line x1="143.88" y1="124" x2="143.88" y2="126.4" stroke="#222" stroke-width="0.8"/>
<line x1="154.77" y1="125" x2="154.77" y2="126.4" stroke="#222" stroke-width="0.8"/>
<line x1="165.19" y1="124.8" x2="165.19" y2="126.4" stroke="#222" stroke-width="0.8"/>
<line x1="166.37" y1="125" x2="166.37" y2="126.4" stroke="#222" stroke-width="0.8"/>
<line x1="175.61" y1="125.2" x2="175.61" y2="126.4" stroke="#222" stroke-width="0.8"/>
<text x="44" y="122.5" font-size="6.5" font-weight="bold" text-anchor="start" fill="#000" transform="rotate(-90 44 122.5)">(100)</text>
<text x="60.9" y="122.5" font-size="6.5" font-weight="bold" text-anchor="start" fill="#000" transform="rotate(-90 60.9 122.5)">(110)</text>
<text x="78.6" y="122.5" font-size="6.5" font-weight="bold" text-anchor="start" fill="#000" transform="rotate(-90 78.6 122.5)">(111)</text>
<text x="93" y="124.4" font-size="6.5" font-weight="bold" text-anchor="start" fill="#000" transform="rotate(-90 93 124.4)">(002)</text>
<text x="101.7" y="122.5" font-size="6.5" font-weight="bold" text-anchor="start" fill="#000" transform="rotate(-90 101.7 122.5)">(200)</text>
<text x="110.8" y="123.6" font-size="6.5" font-weight="bold" text-anchor="start" fill="#000" transform="rotate(-90 110.8 123.6)">(210)</text>
<text x="123.4" y="121" font-size="6.5" font-weight="bold" text-anchor="start" fill="#000" transform="rotate(-90 123.4 121)">(211)</text>
<text x="176.5" y="116.3" font-size="6.4" font-weight="bold" text-anchor="end" fill="#000">PDF#05-0626</text>
<rect x="35.45" y="12.55" width="142.05" height="113.85" fill="none" stroke="#454545" stroke-width="0.9"/>
<line x1="35.45" y1="126.4" x2="35.45" y2="128.8" stroke="#454545" stroke-width="0.8"/>
<text x="35.45" y="135.3" font-size="6.7" font-weight="bold" text-anchor="middle" fill="#000">20</text>
<line x1="47.29" y1="126.4" x2="47.29" y2="127.8" stroke="#454545" stroke-width="0.8"/>
<line x1="59.12" y1="126.4" x2="59.12" y2="128.8" stroke="#454545" stroke-width="0.8"/>
<text x="59.12" y="135.3" font-size="6.7" font-weight="bold" text-anchor="middle" fill="#000">30</text>
<line x1="70.96" y1="126.4" x2="70.96" y2="127.8" stroke="#454545" stroke-width="0.8"/>
<line x1="82.8" y1="126.4" x2="82.8" y2="128.8" stroke="#454545" stroke-width="0.8"/>
<text x="82.8" y="135.3" font-size="6.7" font-weight="bold" text-anchor="middle" fill="#000">40</text>
<line x1="94.64" y1="126.4" x2="94.64" y2="127.8" stroke="#454545" stroke-width="0.8"/>
<line x1="106.48" y1="126.4" x2="106.48" y2="128.8" stroke="#454545" stroke-width="0.8"/>
<text x="106.48" y="135.3" font-size="6.7" font-weight="bold" text-anchor="middle" fill="#000">50</text>
<line x1="118.31" y1="126.4" x2="118.31" y2="127.8" stroke="#454545" stroke-width="0.8"/>
<line x1="130.15" y1="126.4" x2="130.15" y2="128.8" stroke="#454545" stroke-width="0.8"/>
<text x="130.15" y="135.3" font-size="6.7" font-weight="bold" text-anchor="middle" fill="#000">60</text>
<line x1="141.99" y1="126.4" x2="141.99" y2="127.8" stroke="#454545" stroke-width="0.8"/>
<line x1="153.83" y1="126.4" x2="153.83" y2="128.8" stroke="#454545" stroke-width="0.8"/>
<text x="153.83" y="135.3" font-size="6.7" font-weight="bold" text-anchor="middle" fill="#000">70</text>
<line x1="165.66" y1="126.4" x2="165.66" y2="127.8" stroke="#454545" stroke-width="0.8"/>
<line x1="177.5" y1="126.4" x2="177.5" y2="128.8" stroke="#454545" stroke-width="0.8"/>
<text x="177.5" y="135.3" font-size="6.7" font-weight="bold" text-anchor="middle" fill="#000">80</text>
<text x="106.77" y="148.7" font-size="9.9" font-weight="bold" text-anchor="middle" fill="#000">2 Theta (degree)</text>
<text transform="translate(25.85 66) rotate(-90) scale(0.945 1)" font-size="10.2" font-weight="bold" text-anchor="middle">Intensity (a.u.)</text>
<text x="3.4" y="11.8" font-size="13" font-weight="normal" text-anchor="start" fill="#000">(a)</text>
<clipPath id="cb"><rect x="218.4" y="12.5" width="142.1" height="113.9"/></clipPath>
<g clip-path="url(#cb)">
<path transform="scale(.1)" d="M2184,909l1 1 1 0 0 3 1-5 0 2 1-3 1 4 0 1 1-4 0 2 1 3 1-3 0 1 1-1 0-3 1 5 0-1 1-5 1 3 0-3 1 7 0-4 1 3 1-1 0 1 1-2 0 1 1-2 1 2 0 5 1-2 0-4 1 1 1 1 0 2 1-3 0 0 1-1 1 3 0-2 1 5 0-4 1 0 0 2 1-7 1 8 0-2 1 2 0-6 1 3 1-1 0-3 1 5 0-1 1 5 1-3 0-6 1 4 0 2 1 0 1 1 0-1 1 4 0-10 1 6 0-3 1 1 1-1 0 3 1 0 0-7 1 3 1 2 0 0 1-2 0-4 1 3 1-8 0 0 1-5-6-15 2-7 4-23 3-15-4-15-1-25 10-7-12 6 8 12-2 16 5 21 3 23-2 11 3 11-2 10 0 7 1-3 0 7 1-5 1 4 0 2 1 1 0 0 1-4 1 4 0 5 1-7 0 3 1 0 1 3 0-1 1 3 0-2 1 2 1-4 0 8 1-8 0 2 1-6 0 5 1 3 1 0 0-2 1 1 0 0 1 1 1 0 0-4 1 0 0 6 1-2 1-1 0 1 1-4 0 10 1-9 1 4 0-4 1 4 0-1 1 1 0-1 1-3 1 0 0 2 1 3 0-2 1 0 1 0 0-2 1 0 0 2 1 1 1-6 0 4 1 2 0-1 1-1 1 0 0 3 1-1 0-3 1 2 1 1 0 3 1-4 0 0 1-1 0 5 1-4 1 2 0-4 1 7 0-2 1-3 1 4 0-1 1-2 0 1 1-2 1 2 0-7 1 7 0-3 1 4 1-5 0 2 1 3 0 0 1 1 1-3 0 1 1-1 0 2 1 2 0-3 1-1 1 1 0 2 1-1 0-1 1-1 1 4 0-1 1-2 0 2 1 4 1-8 0 4 1-6 0 1 1 2 1-1 0 2 1-2 0 3 1-3 0 0 1 4 1-2 0 0 1-1 0 4 1-3 1-2 0 4 1-1 0-2 1 2 1 0 0 1 1 0 0-2 1 1 1 2 0 4 1-9 0 8 1-4 1 3 0-3 1-1 0-3 1 7 0-2 1-3 1 3 0 0 1 3 0-6 1 4 1-1 0-2 1 3 0-4 1 2 1-1 0 3 1-2 0-1 1 2 1-2 0 1 1 3 0-2 1-2 0 4 1-4 1 1 0 1 1-2 0 3 1 0 1 0 0-3 1 6 0-3 1-1 1 1 0-2 1-2 0 5 1-5 1 4 0-1 1 1 0-2 1 2 1 1 0-4 1 2 0-6 1 8 0-4 1 3 1 1 0-3 1 0 0 6 1-5 1-1 0 1 1 2 0-6 1 3 1 3 0-2 1 0 0 1 1 1 1-1 0 1 1-2 0-1 1 2 1-2 0 2 1 2 0-1 1-2 0 3 1-3 1 0 0-2 1 4 0 0 1 1 1-2 0-5 1 7 0 1 1 3 1-2 0-4 1 2 0-2 1 2 1 0 0-6 1 6 0-2 1 0 0 3 1-2 1-1 0 5 1 0 0-8 1 3 1 2 0-1 1 2 0-6 1 6 1-6 0 2 1 3 0-1 1 0 1-1 0 2 1-3 0 1 1 1 1 1 0-1 1 0 0-2 1 5 0-6 1 3 1 0 0 0 1-1 0-1 1 1 1 1 0 1 1 0 0-3 1 5 1-4 0 2 1 0 0-3 1 2 1-2 0 3 1 1 0-1 1-2 1-2 0 1 1 2 0 1 1 3 0-6 1 3 1-2 0 1 1-1 0 0 1-1 1 3 0-1 1 2 0-1 1 0 1 1 0-2 1-2 0 2 1 1 1 0 0 1 1-1 0-2 1 0 0 2 1-2 1 2 0-5 1 3 0-2 1-3 1 1 0 0 1 1 0-3 1 6 1 2 0-2 1-6 0 1 1 0 1 0 0-2 1 1 0-3 1-1 1 3 0-4 1-2 0 0 1-3 0-2-2-5 7-4-3-11 4-7 6-24-5-30 7-42-4-71-7-81 1-106 4-107 2-113 2-29-6 11 7 76 1 79-5 129 1 89 3 89-2 56-1 32 7 36-1 11-2 8 3 6-1 5 2 5-1 2 1 3 0 3 1-3 0 3 1 5 1 2 0-7 1 4 0 4 1-6 1 3 0 2 1-1 0 0 1 1 1 1 0 0 1-3 0 3 1-4 0 4 1 6 1-3 0-1 1 2 0-5 1 2 1 2 0-1 1 1 0-1 1 0 1-3 0 3 1 2 0-3 1-1 1 2 0-2 1 1 0 7 1-4 1-5 0 4 1-1 0 3 1-2 0-2 1 0 1 5 0-3 1 2 0-1 1 1 1-2 0 2 1 0 0-2 1 3 1-3 0 2 1 4 0-5 1 1 1-2 0-1 1 1 0-4 1 6 1-1 0-1 1 0 0 2 1-3 0 1 1 0 1 2 0-5 1 5 0-3 1 2 1-1 0 4 1-5 0 3 1-4 1 3 0-2 1 3 0 0 1 1 1-4 0 5 1-2 0 2 1-2 0-1 1-2 1 5 0 0 1-4 0 1 1-2 1 1 0-4 1 7 0 0 1 1 1 0 0 2 1-6 0 4 1-2 1 3 0-5 1 1 0 1 1-1 1-2 0 7 1 1 0-6 1 5 0-2 1-4 1 1 0 0 1-4 0 1 1-2 1 9 0-6 1 6 0-6 1 0 1 4 0-2 1 5 0 0 1-3 1-2 0 1 1-1 0-3 1 6 1-1 0-2 1 2 0-4 1 4 0-1 1 2 1 0 0-6 1 6 0-1 1-1 1 0 0 2 1 1 0-2 1 3 1-3 0 2 1 1 0-3 1 3 1-5 0 3 1-3 0 3 1-2 0 0 1 4 1-3 0-1 1 1 0-1 1 0 1-3 0 4 1-3 0 3 1 0 1-1 0 1 1 1 0-2 1 0 1 2 0-1 1-1 0-1 1 1 1 1 0-1 1-1 0-2 1 6 0-6 1 4 1 2 0-2 1-6 0 4 1 4 1-3 0-1 1 5 0-4 1 0 1-4 0 9 1-10 0 9 1-6 1-3 0 10 1-3 0 0 1-1 1-1 0 2 1 4 0-5 1-3 0 7 1-6 1 2 0-3 1-3 0 4 1 1 1 4 0-5 1 2 0-3 1 6 1-3 0 1 1 0 0-1 1-3 1 2 0 3 1-3 0 4 1-4 0-3 1 3 1-1 0 1 1-1 0 1 1 1 1-5 0 1 1-1 0 1 1 4 1-4 0 0 1 0 0 0 1-5 1 5 0-2 1-1 0-1 1-1 1 0 0-12 1 4 1-12 4-22-1-19-6-26 1-35 6-29 3-37-4-13-4-4 3 24-2 36 10 38-7 26 7 31-1 18 4 11-4 10 0 6 1 3 1 4 0-2 1 7 0-4 1 1 1 1 0 1 1-1 0 2 1 0 0 1 1 4 1-5 0 2 1 0 0-1 1-2 1-1 0 3 1 4 0-6 1 2 1 3 0 2 1-4 0-1 1-3 1 3 0 0 1 0 0 3 1-2 0 0 1 2 1 0 0 1 1-2 0 0 1-6 1 4 0 4 1 2 0-4 1 1 1 1 0-2 1 4 0-1 1-4 1 0 0 1 1 2 0-1 1 0 1-2 0 0 1 3 0-7 1 10 0-2 1-3 1 5 0-8 1 4 0 4 1-5 1 5 0-5 1 3 0-4 1 3 1-2 0-1 1 2 0 3 1-4 1-1 0 0 1-3 0 7 1-4 1 1 0-2 1 4 0-8 1 6 0-1 1 3 1 3 0-9 1 3 0 1 1 0 1-3 0 3 1-2 0 4 1-1 1 2 0-3 1 1 0-5 1 2 1 0 0 2 1 2 0-4 1 0 0 1 1-3 1 5 0-1 1-2 0 1 1 6 1-3 0-3 1 6 0-4 1-1 1 1 0-2 1 3 0-1 1-6 1 5 0 1 1-1 0 2 1-6 1 7 0 0 1-4 0 5 1-2 0-3 1 0 1 2 0-1 1 6 0-7 1 3 1-4 0 2 1 2 0-1 1-4 1 2 0 0 1 2 0-1 1 2 1-1 0 0 1-3 0 0 1-1 0 5 1 0 1 1 0-3 1 0 0 2 1-2 1-1 0 2 1-2 0 5 1-4 1 0 0 2 1-2 0 0 1-2 1 3 0 2 1-2 0 0 1-5 1 2 0 3 1-1 0 6 1-6 0 3 1-6 1 3 0 2 1 1 0-4 1 1 1 1 0-2 1 2 0 1 1 0 1-3 0 3 1-1 0-1 1-3 1 2 0 0 1 1 0-1 1-2 1 4 0 0 1 1 0-2 1 1 0-3 1 2 1 0 0-4 1-1 0 5 1 2 1-1 0-8 1 2 0 1 1 1 1-5 0 4 1-3 0-2 1-2-3-9 6-9-5-12 1-20 8-28-11-29 12-36 1-30-8-8 7 1-6 29 6 24 8 36-6 31-2 14 1 18 0 14 2 9 0 6 1-2 0 3 1 3 1 1 0 2 1-1 0-4 1 5 1-1 0 6 1-5 0 1 1 1 0 2 1-5 1 4 0 0 1 2 0-7 1 6 1-2 0-4 1 5 0 1 1-3 1 2 0 4 1-2 0-4 1 1 1 7 0-6 1 1 0-1 1-5 1 8 0-2 1 1 0 1 1-3 0-2 1 2 1-1 0-1 1 3 0-3 1 4 1 2 0-2 1 0 0-2 1 1 1-1 0 0 1 2 0 1 1-3 1 4 0-3 1-4 0 9 1-3 0 1 1-1 1 3 0-5 1-2 0 7 1-4 1-1 0-5 1 5 0-1 1 0 1 5 0-1 1-4 0 8 1-6 1 1 0 0 1-2 0 4 1-6 1 0 0 3 1-1 0-3 1 6 0-4 1-1 1 2 0 3 1-2 0 1 1-1 1 3 0-6 1 4 0-2 1 2 1 1 0-2 1-7 0 5 1 0 1-2 0 1 1 3 0-2 1 2 1-1 0-1 1-2 0 1 1 1 0 0 1-1 1 8 0-8 1 3 0-1 1-3 1-1 0 1 1 4 0-4 1 5 1-5 0 0 1 3 0 1 1-1 1-3 0 5 1-6 0 2 1 1 0 1 1 0 1 2 0 0 1-5 0 6 1-5 1 0 0 7 1-2 0-3 1 4 1-5 0 1 1 3 0-1 1-2 1 5 0-5 1-1 0 1 1 1 1 0 0 3 1-2 0-1 1 1 0 5 1-10 1 4 0 3 1 1 0-1 1-3 1-4 0 6 1 3 0-9 1 0 1 2 0 1 1 2 0 0 1-4 1 2 0 2 1-1 0-2 1 0 1 0 0-2 1-2 0 0 1 0 0-4 1-5 1-2-1-9-1 2 0-9 1 0 4 6-2-7 4 3-2 1 2 7 1 3 0 2 1 7 0 1 1 1 1 4 0 4 1-1 0 1 1-1 0 3 1 0 1-3 0 0 1 0 0 0 1 2 1 1 0-1 1-2 0-1 1 2 1-3 0-2 1-8 0 0 1-1 2-8 4-5-7-5-1 2 9-3-1 1-1 1 6-1-7 7 6 5-4 3 1 7 1 1 0 3 1 0 0 1 1 2 1-2 0 9 1-7 0 0 1 7 1-3 0-2 1 2 0-1 1-3 1 3 0 4 1-4 0-5 1 4 1 4 0-4 1 4 0-1 1-3 0-1 1 2 1 3 0-1 1-3 0 1 1 1 1 1 0-3 1-3 0 2 1 6 1-7 0 3 1 3 0-3 1 1 1-2 0 3 1-2 0 1 1-7 0 8 1-1 1-4 0 3 1 4 0-6 1-2 1 3 0 3 1 0 0 1 1-2 1-3 0 4 1 2 0-6 1 6 1-4 0 2 1-1 0-3 1 0 1 5 0-4 1 4 0 3 1-3 0-4 1 1 1 2 0 3 1-5 0-2 1 3 1-2 0 5 1 0 0-8 1 5 1 0 0 0 1-5 0 2 1 5 1-3 0-2 1 1 0 1 1 1 1-1 0 6 1-5 0 0 1-8 0 7 1 1 1-3 0 3 1 5 0-6 1 1 1 1 0-4 1 5 0-5 1 1 1 2 0 0 1-1 0-2 1 5 1-2 0 1 1-4 0 6 1-2 0-3 1 1 1-2 0-1 1 0 0 3 1-2 1 3 0-3 1 2 0 5 1-5 1 0 0 2 1-3 0 1 1-2 1 1 0 2 1-1 0-2 1 5 1-1 0-4 1-3 0 5 1-1 0-1 1-3 1 5 0 3 1-6 0 2 1-4 1 4 0 4 1-5 0 0 1 3 1-2 0-4 1 3 0 3 1-2 1-7 0 2 1 5 0-2 1 0 1 2 0-7 1 2 0 0 1-2 0-2 1-6-1-17 2-10-4-18 6-25 3-31 0-26-1-32 1-5-1 4-2 17 6 32-6 31 6 28-3 15-1 17 9 14-4 7 1 5 0-3 1 3 0 4 1 1 1 6 0-6 1 3 0 0 1-3 1 2 0-3 1 5 0-2 1 6 1-5 0-3 1 6 0-3 1 0 1 2 0-3 1 7 0-5 1 2 1 1 0 1 1-4 0 2 1 1 0 3 1-6 1-2 0-1 1 6 0 2 1-6 1 3 0 1 1-8 0 7 1 2 1-3 0 1 1 1 0 2 1-8 1 5 0-1 1-1 0 4 1-4 0 2 1-1 1 2 0-5 1 0 0 1 1 4 1-4 0 3 1-4 0 3 1 2 1-1 0-1 1 0 0 1 1-2 1 0 0 3 1 0 0-3 1 5 1-7 0 3 1 0 0 0 1-2 0 2 1-3 1 2 0 3 1 0 0 0 1-4 1 3 0 0 1-2 0 2 1-1 1-2 0 2 1-3 0 1 1 6 1-2 0-3 1 2 0 2 1-8 1 10 0 0 1-3 0 3 1-7 0 1 1 3 1-1 0 2 1-1 0-3 1 3 1-3 0 1 1-2 0 3 1 1 1-1 0-1 1 4 0-4 1-4 1 3 0 0 1 6 0-6 1 2 0 4 1-6 1 0 0 5 1-2 0-1 1 1 1-6 0 3 1 7 0-10 1 9 1-6 0 1 1-1 0 1 1 0 1 0 0 0 1-3 0 6 1-4 1 7 0-3 1-1 0 1 1-4 0 3 1-5 1 4 0-1 1 1 0 1 1 1 1-3 0-1 1 4 0-5 1 0 1 5 0 1 1-5 0 3 1-6 1 6 0-1 1-4 0 5 1-5 1 2 0 3 1-3 0-2 1 2 0 2 1 2 1-7 0 5 1 0 0 1 1 1 1-3 0-1 1 0 0 1 1-2 1 5 0-3 1-3 0 3 1 2 1-1 0-2 1-3 0 1 1 4 0-2 1-1 1 2 0 2 1-3 0 4 1-2 1 1 0 3 1-2 0-1 1-2 1-1 0 2 1 4 0-2 1 0 1-3 0 0 1 2 0-3 1-2 1 8 0-7 1 3 0-3 1 2 0 0 1 4 1-6 0 2 1-3 0 6 1-2 1 0 0 0 1-3 0 3 1 0 1 3 0-1 1-5 0 2 1 0 1 3 0-3 1 4 0 1 1-4 1-1 0 4 1 2 0-8 1 2 0-2 1 3 1 2 0-3 1-2 0 3 1-6 1 7 0 0 1-1 0 1 1 0 1 1 0-7 1 2 0 3 1 0 1 1 0 2 1-2 0-2 1 5 0-4 1-1 1 2 0-1 1 1 0-2 1 3 1 1 0-1 1-2 0-7 1 5 1 3 0 1 1-4 0-1 1 2 1 4 0-7 1 6 0-1 1-2 1-1 0 0 1-1 0-1 1 3 0 1 1 3 1-2 0 2 1 4 0-8 1 1 1 1 0-5 1 4 0-1 1 1 1 1 0 3 1-3 0-3 1 2 1 1 0 2 1-2 0-2 1-1 1 2 0 1 1-4 0 2 1 3 0-5 1-1 1 2 0 0 1 4 0 0 1-2 1-3 0 0 1 1 0-3 1 4 1 0 0-1 1-1 0 2 1-2 1 4 0 0 1 1 0-4 1 1 0-2 1 1 1 4 0-3 1 0 0-2 1-1 1 0 0 1 1-1 0 2 1-2 1-3 0 2 1-8 0-2 6-16-1-3 2-10-11-24 5-18 4-16-1-10 3 5-4 16 12 10-6 21 3 12 0 21-5 2 2 10 1 8 0-5 1 7 1 1 0-1 1 1 0-1 1 3 1-1 0 4 1-3 0 3 1-4 1-1 0 1 1 2 0 3 1-5 1 1 0 0 1 3 0-1 1-4 0 4 1 2 1-5 0 2 1-2 0 5 1-2 1-1 0 3 1-4 0 4 1-3 1 0 0 1 1 0 0 0 1-2 1 4 0-5 1 5 0-2 1 4 0-5 1 2 1-4 0 5 1 0 0-2 1-1 1 3 0-1 1-4 0 4 1-2 1 3 0-8 1 7 0 1 1 1 1-1 0-6 1 3 0 1 1-2 1 1 0-5 1 4 0 2 1 0 0-1 1 1 1 0 0-2 1 6 0 0 1-1 1 0 0-7 1 8 0-6 1 2 1-3 0 2 1-4 0 5 1 3 1-5 0 1 1 2 0 1 1-5 1-1 0 7 1-5 0 0 1 2 0-1 1-2 1 10 0-11 1 6 0-3 1 2 1-1 0-3 1 2 0 0 1 4 1-4 0 0 1 0 0 2 1-1 1-1 0-1 1 4 0-4 1 4 0 0 1-1 1-5 0 5 1 1 0-7 1 7 1-3 0 1 1 2 0-1 1-8 1 8 0-1 1 0 0 0 1 1 1-3 0 6 1-2 0-2 1 0 1-1 0 1 1 3 0-9 1 7 0-1 1-2 1-2 0 2 1-1 0 5 1 0 1-6 0 1 1 0 0 7 1-5 1 1 0 4 1-7 0-1 1 1 1 4 0-6 1-3 0-1 1-6 1 1 0-7 5-4-6 2 1-4 3 3-3-3 3 5 7-4-7 6 2 5 1 1 1 1 0 5 1 0 0 4 1 2 1 1 0-2 1 3 0 0 1 4 1-1 0-6 1 5 0 1 1-2 0 0 1 2 1 1 0-6 1 2 0-3 1 3 1-3 0 1 1 4 0-5 1 4 1-2 0 0 1 4 0-3 1 2 1-3 0 4 1-4 0 1 1-1 1-1 0-1 1-1 0 3 1 0 0 1 1-3 1 3 0 4 1-6 0 0 1 2 1-1 0 0 1 1 0-2 1 8 1-5 0 0 1-2 0 2 1 0 1-1 0-2 1 1 0 3 1-3 0-3 1 5 1 1 0-3 1 4 0 1 1-3 1 3 0-1 1-4 0 3 1-3 1 3 0-4 1 1 0-3 1 2 1 4 0-2 1 2 0 1 1-3 1-2 0 9 1-9 0 4 1-1 0-2 1 4 1-3 0-4 1 1 0-1 1 4 1 0 0-1 1 5 0-4 1-1 1 1 0-5 1 9 0-11 1 6 1 1 0 3 1-1 0-2 1-2 1 0 0 5 1 2 0-3 1-4 0-1 1 2 1-2 0 0 1 5 0 3 1-8 1 5 0-7 1 2 0 4 1-3 1 1 0 1 1 4 0-7 1 2 1 2 0-3 1 2 0-2 1 1 0 3 1-4 1-1 0 1 1-2 0 1 1 2 1-9 0-2 1-2 0-1 5-12-6 3 3-3 3-9-3 2-1 1 5 1 1 4-3-3 5 11-2 1 1 4 0 6 1-1 0 6 1 1 0 4 1-1 1 0 0-3 1 6 0-5 1-1 1 1 0 3 1-4 0 5 1-5 1 2 0-1 1-3 0-4 1 3 1-3 0-6 1-3 7-7-10 1 7-9 2 1-4-1 3-2-4 4 4 1-4 3-1 7 6 3 1 4 0 9 1-3 1 2 0-1 1 5 0-1 1 2 1 4 0-5 1-1 0 3 1 0 1-4 0 3 1 1 0 1 1-5 0 3 1 1 1-2 0 0 1 2 0 0 1-3 1 5 0-3 1 1 0-2 1 0 1 1 0 0 1 1 0-3 1-3 1 7 0 2 1-3 0-5 1 3 1 2 0 2 1-4 0 4 1-4 0 0 1 3 1 0 0 2 1-1 0-5 1 3 1 2 0 2 1-7 0 2 1 3 1-3 0 1 1-2 0 2 1 3 1-5 0-2 1 6 0-3 1-2 1 0 0 3 1-1 0 3 1-2 0-2 1 3 1-5 0 5 1 1 0-8 1 8 1-4 0 2 1 1 0-3 1 3 1-2 0-6 1 9 0 1 1-3 1-2 0 1 1 2 0 1 1 1 0-8 1 7 1-1 0-3 1 2 0 1 1 1 1-2 0 1 1-3 0-1 1 1 1-3 0 3 1-1 0 4 1-4 1 3 0 0 1-2 0 2 1 1 1-1 0 1 1-6 0 0 1 7 0-2 1-2 1 2 0 6 1-9 0 1 1 0 1 1 0-1 1-4 0 6 1-7 1 9 0-6 1 2 0-3 1 1 1-3 0-1 1-7 0 2 1-7 8-3 1-6-12-7 1 7 8-7-6-2 8 1 1 9-2 4 0 3-1 1 1 3 1 4 0 8 1 1 0 1 1-1 1 0 0 5 1 0 0 2 1-4 1-4 0 8 1-5 0-1 1-1 0 0 1 4 1 4 0-4 1-2 0 3 1-3 1 3 0 1 1-3" fill="none" stroke="none" marker-start="url(#mx)" marker-mid="url(#mx)" marker-end="url(#mx)"/>
<path transform="scale(.1)" d="M2184,915l1 0 1 0 0 0 1 0 0 0 1 0 1 0 0 1 1 0 0 0 1 0 1 0 0 0 1 0 0 0 1 0 0 0 1 0 1 0 0 0 1 0 0 0 1 1 1 0 0 0 1 0 0 0 1 0 1 0 0 0 1 0 0 0 1 0 1 0 0 0 1 0 0 0 1 0 1 0 0 1 1 0 0 0 1 0 0 0 1 0 1 0 0 0 1 0 0 0 1 0 1 0 0 0 1 0 0 0 1 0 1 0 0 0 1 0 0 0 1 0 1 0 0 0 1 0 0 0 1 0 0 0 1 0 1 0 0 0 1-1 0 0 1 0 1 0 0-1 1 0 0-1 1-2 1-2 0-3 1-5 0-8 1-12 1-15 0-18 1-19 0-17 1-8 1 2 0 12 1 18 0 20 1 17 0 14 1 10 1 7 0 5 1 2 0 2 1 1 1 1 0 1 1 0 0 1 1 0 1 1 0 0 1 0 0 0 1 0 1 1 0 0 1 0 0 0 1 0 1 0 0 0 1 1 0 0 1 0 0 0 1 0 1 0 0 0 1 0 0 0 1 0 1 0 0 1 1 0 0 0 1 0 1 0 0 0 1 0 0 0 1 0 1 0 0 0 1 0 0 0 1 0 0 0 1 0 1 1 0 0 1 0 0 0 1 0 1 0 0 0 1 0 0 0 1 0 1 0 0 0 1 0 0 0 1 0 1 0 0 0 1 0 0 0 1 0 1 1 0 0 1 0 0 0 1 0 0 0 1 0 1 0 0 0 1 0 0 0 1 0 1 0 0 0 1 0 0 0 1 0 1 0 0 0 1 0 0 0 1 0 1 1 0 0 1 0 0 0 1 0 1 0 0 0 1 0 0 0 1 0 0 0 1 0 1 0 0 0 1 0 0 0 1 0 1 0 0 0 1 0 0 0 1 0 1 0 0 1 1 0 0 0 1 0 1 0 0 0 1 0 0 0 1 0 0 0 1 0 1 0 0 0 1 0 0 0 1 0 1 0 0 0 1 0 0 0 1 0 1 0 0 0 1 0 0 0 1 0 1 1 0 0 1 0 0 0 1 0 1 0 0 0 1 0 0 0 1 0 0 0 1 0 1 0 0 0 1 0 0 0 1 0 1 0 0 0 1 0 0 0 1 0 1 0 0 0 1 0 0 0 1 0 1 0 0 0 1 1 0 0 1 0 0 0 1 0 1 0 0 0 1 0 0 0 1 0 1 0 0 0 1 0 0 0 1 0 1 0 0 0 1 0 0 0 1 0 1 0 0 0 1 0 0 0 1 0 1 0 0 0 1 0 0 0 1 0 0 0 1 0 1 1 0 0 1 0 0 0 1 0 1 0 0 0 1 0 0 0 1 0 1 0 0 0 1 0 0 0 1 0 1 0 0 0 1 0 0 0 1 0 1 0 0 0 1 0 0 0 1 0 0 0 1 0 1 0 0 0 1 0 0 0 1 0 1 0 0 0 1 0 0 0 1 1 1 0 0 0 1 0 0 0 1 0 1 0 0 0 1-1 0 0 1 1 0 0 1 0 1 0 0 0 1 0 0 0 1 0 1 0 0 0 1 0 0 0 1 0 1 0 0 0 1 0 0 0 1 0 1 0 0 0 1 0 0 0 1 0 1 0 0 0 1 0 0 0 1 0 0 0 1 0 1 0 0 0 1 0 0 0 1 0 1 0 0 0 1 0 0 0 1 0 1 0 0 0 1 0 0 0 1 0 1 0 0 0 1 0 0 0 1 0 1 0 0 0 1 0 0 0 1 0 0 0 1 0 1 0 0 0 1 0 0 0 1 0 1 0 0 0 1 0 0 0 1 0 1 0 0 0 1 0 0 0 1 0 1 0 0 0 1 0 0-1 1 0 0 0 1 0 1 0 0 0 1 0 0 0 1 0 1-1 0 0 1 0 0 0 1 0 1-1 0 0 1 0 0-1 1 0 1-1 0 0 1-1 0-1 1 0 1-1 0-2 1-1 0-2 1-2 0-2 1-3 1-5 0-6 1-11 0-16 1-27 1-40 0-58 1-75 0-91 1-94 1-82 0-43 1 11 0 61 1 90 1 95 0 85 1 68 0 51 1 34 1 22 0 14 1 9 0 6 1 4 0 2 1 3 1 2 0 1 1 1 0 2 1 1 1 0 0 1 1 1 0 0 1 1 1 0 0 1 1 0 0 0 1 1 1 0 0 0 1 0 0 1 1 0 0 0 1 0 1 0 0 1 1 0 0 0 1 0 1 0 0 0 1 0 0 0 1 0 1 0 0 1 1 0 0 0 1 0 1 0 0 0 1 0 0 0 1 0 1 0 0 0 1 0 0 0 1 0 0 0 1 0 1 0 0 1 1 0 0 0 1 0 1 0 0 0 1 0 0 0 1 0 1 0 0 0 1 0 0 0 1 0 1 0 0 0 1 0 0 0 1 0 1 0 0 0 1 0 0 0 1 0 0 0 1 0 1 0 0 0 1 0 0 0 1 0 1 0 0 0 1 0 0 0 1 0 1 0 0 1 1 0 0 0 1 0 1 0 0 0 1 0 0 0 1 0 0 0 1 0 1 0 0 0 1 0 0 0 1 0 1 0 0 0 1 0 0 0 1 0 1 0 0 0 1 0 0 0 1 0 1 0 0 0 1 0 0 0 1 0 1 0 0 0 1 0 0 0 1 0 0 0 1 0 1 0 0 0 1 0 0 0 1 0 1 0 0 0 1 0 0 0 1 0 1 0 0 0 1 0 0 0 1 0 1 0 0 1 1 0 0 0 1 0 1 0 0 0 1 0 0 0 1 0 0 0 1 0 1 0 0 0 1 0 0 0 1 0 1 0 0 0 1 0 0 0 1 0 1 0 0 0 1 0 0 0 1 0 1 0 0 0 1 0 0 0 1 0 0 0 1 0 1 0 0 0 1 0 0 0 1 0 1 0 0 0 1 0 0 0 1 0 1 0 0 0 1 0 0 0 1 0 1 0 0 0 1 0 0 0 1 0 1 0 0 0 1 0 0 0 1 0 0 0 1 0 1 0 0 0 1 0 0 0 1 0 1 0 0 0 1 0 0 0 1 0 1 0 0 0 1 0 0 0 1 0 1 0 0 0 1 0 0 0 1 0 1 0 0 0 1 0 0 0 1 0 0 0 1 0 1 0 0 0 1 0 0 0 1 0 1 0 0 0 1 0 0 0 1 0 1 0 0 0 1 0 0 0 1 0 1 0 0 0 1 0 0 0 1-1 0 0 1 0 1 0 0 0 1 0 0 0 1 0 1 0 0 0 1 0 0-1 1 0 1 0 0 0 1-1 0 0 1 0 1-1 0-1 1 0 0-1 1-2 1-2 0-3 1-5 0-9 1-12 0-18 1-24 1-28 0-30 1-25 0-14 1 3 1 20 0 28 1 29 0 27 1 22 1 15 0 11 1 7 0 5 1 2 1 2 0 1 1 1 0 1 1 0 1 1 0 0 1 1 0 0 1 0 0 1 1 0 1 0 0 0 1 0 0 0 1 0 1 1 0 0 1 0 0 0 1 0 1 0 0 0 1 0 0 0 1 0 1 0 0 0 1 0 0 0 1 0 0 0 1 0 1 0 0 1 1 0 0 0 1 0 1 0 0 0 1 0 0 0 1 0 1 0 0 0 1 0 0 0 1 0 1 0 0 0 1 0 0 0 1 0 1 0 0 0 1 0 0 0 1 0 0 0 1 0 1 0 0 0 1 0 0 0 1 0 1 0 0 0 1 0 0 0 1 0 1 0 0 0 1 0 0 0 1 0 1 0 0 0 1 0 0 0 1 0 1 0 0 0 1 0 0 0 1 0 0 0 1 0 1 0 0 0 1 0 0 0 1 0 1 0 0 0 1 0 0 0 1 0 1 0 0 0 1 0 0 0 1 0 1 0 0 0 1 0 0 0 1 0 0 0 1 0 1 0 0 0 1 0 0 0 1 0 1 0 0 0 1 0 0 0 1 0 1 0 0 0 1 0 0 0 1 0 1 0 0 0 1 0 0 0 1 0 1 0 0 0 1 0 0 0 1 0 0 0 1 0 1 0 0 0 1 0 0 0 1 0 1 0 0 0 1 0 0 0 1 0 1 0 0 0 1 0 0 1 1 0 1 0 0 0 1 0 0 0 1 0 0 0 1 0 1 0 0 0 1 0 0 0 1 0 1 0 0 0 1-1 0 0 1 0 1 0 0 0 1 0 0 0 1 0 1 0 0 0 1 0 0 0 1 0 1 0 0 0 1 0 0 0 1 0 0 0 1 0 1 0 0 0 1 0 0 0 1 0 1 0 0 0 1 0 0 0 1 0 1 0 0 0 1 0 0 0 1 0 1 0 0 0 1 0 0 0 1 0 1 0 0 0 1 0 0 0 1-1 0 0 1 0 1 0 0 0 1 0 0 0 1-1 1 0 0 0 1-1 0 0 1-1 1 0 0-1 1-1 0-2 1-3 1-5 0-7 1-11 0-16 1-21 0-25 1-26 1-22 0-12 1 3 0 17 1 24 1 27 0 23 1 19 0 14 1 9 1 6 0 4 1 3 0 1 1 1 1 1 0 1 1 0 0 1 1 0 1 0 0 1 1 0 0 0 1 0 0 0 1 0 1 1 0 0 1 0 0 0 1 0 1 0 0 0 1 0 0 0 1 0 1 0 0 0 1 0 0 0 1 0 1 0 0 1 1 0 0 0 1 0 1 0 0 0 1 0 0 0 1 0 0 0 1 0 1 0 0 0 1 0 0 0 1 0 1 0 0 0 1 0 0 0 1 0 1 0 0 0 1 0 0 0 1 0 1 0 0 0 1 0 0 0 1 0 0 0 1 0 1 0 0 0 1 0 0 0 1 0 1 0 0 0 1 0 0 0 1 0 1 0 0 0 1 0 0 0 1 0 1 0 0 0 1 0 0 0 1 0 1 0 0 0 1 0 0 0 1 0 0 0 1 0 1 0 0 0 1 0 0 0 1 0 1 0 0 0 1 0 0 0 1 0 1 0 0 0 1 0 0 0 1 0 1 0 0 0 1 0 0 0 1 0 1 0 0 0 1 0 0 0 1 0 0 0 1 0 1 0 0 0 1 0 0 0 1 0 1 0 0 0 1 0 0 0 1 0 1 0 0 0 1 0 0 0 1 0 1 0 0 0 1 0 0 0 1 0 0 0 1 0 1 0 0 0 1 0 0 0 1 0 1 0 0 0 1 0 0 0 1 0 1 0 0 0 1 0 0 0 1 0 1 0 0 0 1 0 0 0 1 0 1 0 0 0 1 0 0 0 1 0 0 0 1 0 1 0 0 0 1 0 0 0 1 0 1 0 0 0 1 0 0 0 1 0 1 0 0 0 1 0 0 0 1 0 1 0 0 0 1 0 0 0 1 0 1-1 0-1 1-1 0-2 1-3 0-3 1-5 1-4 0-5 1-5 0-4 1-3 1-1 0 0 1 2 0 3 1 5 1 5 0 5 1 4 0 4 1 3 1 3 0 1 1 2 0 0 1 1 0 0 1 0 1 0 0 0 1 0 0 0 1 0 1 0 0 0 1-1 0-1 1-1 1-2 0-3 1-3 0-5 1-4 1-5 0-5 1-4 0-3 1-1 1 0 0 2 1 3 0 5 1 5 0 5 1 4 1 4 0 3 1 3 0 1 1 2 1 0 0 1 1 0 0 0 1 0 1 1 0 0 1 0 0 0 1 0 1 0 0 0 1 0 0 0 1 0 1 0 0 0 1 0 0 0 1 0 0 0 1 0 1 0 0 0 1 0 0 0 1 0 1 0 0 0 1 0 0 0 1 0 1 0 0 0 1 0 0 0 1 0 1 0 0 0 1 0 0 0 1 0 0 0 1 0 1 0 0 0 1 0 0 0 1 0 1 0 0 0 1 0 0 0 1 0 1 0 0 0 1 0 0 0 1 0 1 0 0 0 1 0 0 0 1 0 1 0 0 0 1 0 0 0 1 0 0 0 1 0 1 0 0 0 1 0 0 0 1 0 1 0 0 0 1 0 0 0 1 0 1 0 0 0 1 0 0 0 1 0 1 0 0 0 1 0 0 0 1 0 1 0 0 0 1 0 0 0 1 0 0 0 1 0 1 0 0 0 1 0 0 0 1 0 1-1 0 0 1 0 0 0 1 0 1 0 0 0 1 0 0 0 1 0 1 0 0 0 1 0 0 0 1 0 0 0 1 0 1 0 0 0 1 0 0 0 1 0 1 0 0 0 1 0 0 0 1 0 1 0 0 0 1 0 0 0 1 0 1 0 0 0 1 0 0 0 1 0 1 0 0 0 1 0 0 0 1 0 0 0 1 0 1 0 0 0 1 0 0 0 1 0 1 0 0-1 1 0 0 0 1 0 1 0 0 0 1 0 0 0 1-1 1 0 0 0 1 0 0-1 1 0 1-1 0-1 1 0 0-2 1-2 0-2 1-5 1-7 0-12 1-15 0-21 1-25 1-27 0-22 1-12 0 3 1 17 1 25 0 26 1 23 0 19 1 14 1 10 0 6 1 4 0 2 1 2 0 1 1 1 1 0 0 1 1 0 0 1 1 0 1 0 0 0 1 1 0 0 1 0 1 0 0 0 1 0 0 0 1 1 1 0 0 0 1 0 0 0 1 0 1 0 0 0 1 0 0 0 1 0 0 0 1 0 1 0 0 0 1 0 0 0 1 0 1 0 0 0 1 0 0 0 1 0 1 0 0 0 1 0 0 0 1 0 1 0 0 0 1 0 0 0 1 1 0 0 1 0 1 0 0 0 1 0 0 0 1 0 1 0 0 0 1 0 0 0 1 0 1 0 0 0 1 0 0 0 1 0 1 0 0 0 1 0 0 0 1 0 1 0 0 0 1 0 0 0 1 0 0 0 1 0 1 0 0 0 1 0 0 0 1 0 1 0 0 0 1 0 0 0 1 0 1 0 0 0 1 0 0 0 1 0 1 0 0 0 1 0 0 0 1 0 1 0 0 0 1 0 0 0 1 0 0 0 1 0 1 0 0 0 1 0 0 0 1 0 1 0 0 0 1 0 0 0 1 0 1 0 0 0 1 0 0 0 1 0 1 0 0 0 1 0 0 0 1 0 0 0 1 0 1 0 0 0 1 0 0 0 1 0 1 0 0 0 1 0 0 0 1 0 1 0 0 0 1 0 0 0 1 0 1 0 0 0 1 0 0 0 1 0 1 0 0 0 1 0 0 0 1 0 0 0 1 0 1 0 0 0 1 0 0 0 1 0 1 0 0 0 1 0 0 0 1 0 1 0 0 0 1 0 0 0 1 0 1 0 0 0 1 0 0 0 1 0 1 0 0 0 1 0 0 0 1 0 0 0 1 0 1 0 0 0 1 0 0 0 1 0 1 0 0 0 1 0 0 0 1 0 1 0 0 0 1 0 0 0 1 0 1 0 0 0 1 0 0 0 1 0 0 0 1 0 1 0 0 0 1 0 0 0 1 0 1 0 0 0 1 0 0 0 1 0 1 0 0 0 1 0 0 0 1 0 1 0 0 0 1 0 0 0 1 0 1 0 0 0 1 0 0 0 1 0 0 0 1 0 1 0 0 0 1 0 0 0 1 0 1 0 0 0 1 0 0 0 1 0 1 0 0 0 1 0 0 0 1 0 1 0 0 0 1 0 0 0 1 0 1 0 0 0 1 0 0 0 1 0 0 0 1 0 1 0 0 0 1 0 0 0 1 0 1 0 0 0 1 0 0 0 1 0 1 0 0 0 1 0 0 0 1 0 1 0 0 0 1 0 0 0 1 0 0 0 1 0 1 0 0 0 1 0 0 0 1 0 1 0 0 0 1 0 0 0 1 0 1 0 0 0 1 0 0 0 1 0 1 0 0 0 1 0 0 0 1 0 1 0 0 0 1 0 0 0 1 0 0 0 1 0 1 0 0 0 1 0 0 0 1 0 1 0 0 0 1 0 0 0 1 0 1 0 0 0 1 0 0 0 1 0 1 0 0 0 1 0 0 0 1 0 1 0 0 0 1 0 0 0 1 0 0 0 1 0 1 0 0 0 1-1 0 0 1 0 1 0 0 0 1 0 0 0 1 0 1 0 0 0 1 0 0 0 1 0 1 0 0 0 1 0 0 0 1 0 0 0 1-1 1 0 0 0 1 0 0 0 1-1 1 0 0 0 1-1 0 0 1-1 1-1 0-2 1-4 0-5 1-7 1-11 0-15 1-17 0-18 1-15 1-8 0 2 1 11 0 17 1 18 0 16 1 14 1 9 0 7 1 4 0 2 1 2 1 1 0 1 1 0 0 1 1 0 1 1 0 0 1 0 0 0 1 0 1 0 0 1 1 0 0 0 1 0 1 0 0 0 1 0 0 0 1 0 0 0 1 0 1 0 0 0 1 0 0 0 1 0 1 0 0 0 1 1 0 0 1 0 1 0 0 0 1 0 0 0 1 0 1 0 0 0 1 0 0 0 1 0 0 0 1 0 1 0 0 0 1 0 0 0 1 0 1 0 0 0 1 0 0 0 1 0 1 0 0 0 1 0 0 0 1 0 1 0 0 0 1 0 0 0 1 0 1 0 0 0 1 0 0 0 1 0 0 0 1 0 1 0 0 0 1 0 0 0 1 0 1 0 0 0 1 0 0 0 1 0 1 0 0 0 1 0 0 0 1 0 1 0 0 0 1 0 0 0 1 0 1 0 0 0 1 0 0 0 1 0 0 0 1 0 1 0 0 0 1 0 0 0 1 0 1 0 0 0 1 0 0 0 1 0 1 0 0 0 1 0 0 0 1 0 1 0 0 0 1 0 0 0 1 0 0 0 1 0 1 0 0 0 1 0 0 0 1 0 1 0 0 0 1 0 0 0 1 0 1 0 0 0 1 0 0 0 1 0 1 0 0 0 1 0 0 0 1 0 1 0 0 0 1 0 0 0 1 0 0 0 1 0 1 0 0 0 1 0 0 0 1 0 1 0 0 0 1 0 0 0 1 0 1 0 0 0 1-1 0 0 1-1 1-1 0-2 1-2 0-3 1-4 1-4 0-5 1-4 0-3 1-3 0-1 1 0 1 2 0 3 1 4 0 4 1 4 1 4 0 4 1 3 0 2 1 1 1 1 0 1 1 0 0 1 1 0 1 0 0 0 1 0 0 0 1 0 0 0 1 0 1 0 0 0 1 0 0 0 1 0 1 0 0 0 1 0 0 0 1 0 1 0 0 0 1 0 0 0 1 0 1 0 0 0 1 0 0 0 1 0 1 0 0 0 1 0 0 0 1 0 0 0 1 0 1 0 0 0 1 0 0 0 1 0 1 0 0 0 1 0 0 0 1 0 1 0 0 0 1 0 0 0 1 0 1 0 0 0 1 0 0 0 1 0 0 0 1 0 1 0 0 0 1 0 0 0 1 0 1 0 0 0 1 0 0 0 1 0 1 0 0 0 1 0 0 0 1 0 1 0 0 0 1 0 0 0 1 0 1 0 0 0 1 0 0 0 1 0 0 0 1 0 1 0 0 0 1 0 0 0 1 0 1 0 0 0 1 0 0 0 1 0 1 0 0 0 1 0 0 0 1 0 1 0 0 0 1 0 0 0 1 0 1 0 0 0 1 0 0 0 1 0 0 0 1 0 1 0 0 0 1 0 0 0 1 0 1 0 0 0 1 0 0 0 1 0 1 0 0 0 1 0 0 0 1 0 1 0 0 0 1 0 0 0 1 0 0 0 1 0 1-1 0 0 1-1 0-2 1-2 1-3 0-3 1-4 0-5 1-5 1-5 0-4 1-3 0-1 1 0 1 2 0 4 1 4 0 5 1 5 1 4 0 4 1 4 0 2 1 2 0 1 1 1 1 0 0 1 1 0 0 0 1 0 1 0 0 0 1 0 0 0 1-1 1 0 0-1 1-2 0-2 1-3 1-3 0-4 1-5 0-5 1-5 1-4 0-3 1-1 0 0 1 2 0 4 1 4 1 5 0 5 1 4 0 4 1 4 1 2 0 2 1 1 0 1 1 0 1 1 0 0 1 0 0 0 1 0 1 0 0 0 1 0 0 0 1 0 0 0 1 0 1 0 0 0 1 0 0 0 1 0 1 0 0 0 1 0 0 0 1 0 1 0 0 0 1 0 0 0 1 0 1 0 0 0 1 0 0 0 1 0 1 0 0 0 1 0 0 0 1 0 0 0 1 0 1 0 0 0 1 0 0 0 1 0 1 0 0 0 1 0 0 0 1 0 1 0 0 0 1 0 0 0 1 0 1 0 0 0 1 0 0 0 1 0 1 0 0 0 1 0 0 0 1 0 0 0 1 0 1 0 0 0 1 0 0 0 1 0 1 0 0 0 1 0 0 0 1 0 1 0 0 0 1 0 0 0 1 0 1 0 0 0 1 0 0 0 1 0 0 0 1 0 1 0 0 0 1 0 0 0 1 0 1 0 0 0 1 0 0 0 1 0 1 0 0 0 1 0 0 0 1 0 1 0 0 0 1 0 0 0 1 0 1 0 0 0 1 0 0 0 1 0 0 0 1 0 1 0 0 0 1 0 0 0 1 0 1 0 0 0 1 0 0 0 1 0 1 0 0-1 1 0 0-1 1-2 1-2 0-3 1-3 0-4 1-5 1-5 0-5 1-4 0-3 1-1 0 0 1 2 1 4 0 4 1 5 0 5 1 5 1 3 0 4 1 2 0 2 1 1 1 1 0 0 1 1 0 0 1 0 1 0 0 0 1 0 0 0 1 0 0 0 1 0 1 0 0 0 1 0 0 0 1 0 1 0 0 0 1 0" fill="none" stroke="#d07814" stroke-width="9"/>
<path transform="scale(.1)" d="M2184,915l12 1 12 2 12 1 11 1 12 1 12 2 12 1 12 0 12 1 11 1 12 1 12 1 12 0 12 1 12 1 11 0 12 1 12 0 12 1 12 0 12 1 12 0 11 0 12 1 12 0 12 0 12 1 12 0 11 0 12 0 12 1 12 0 12 0 12 0 11 0 12 0 12 1 12 0 12 0 12 0 12 0 11 0 12 0 12 0 12 1 12 0 12 0 11 0 12 0 12 0 12 0 12 0 12 0 11 0 12 0 12 0 12 0 12 0 12 0 11 0 12 0 12 1 12 0 12 0 12 0 12 0 11 0 12 0 12 0 12 0 12 0 12 0 11 0 12 0 12 0 12 0 12 0 12 0 11 0 12 0 12 0 12 0 12 0 12 0 12 0 11 0 12 0 12 0 12 0 12 0 12 0 11 0 12 0 12 0 12 0 12 0 12 0 11 0 12 0 12 0 12 0 12 0 12 0 12 0 11 0 12 0 12 0 12 0 12 0 12 0 11 0 12 0 12 0 12 0 12 0 12 0 11 0 12 0 12 0 12 0" fill="none" stroke="#2a6a8a" stroke-width="7"/>
<line x1="223.61" y1="105.4" x2="223.61" y2="109.6" stroke="#cf8af5" stroke-width="1.15"/>
<line x1="245.64" y1="105.4" x2="245.64" y2="109.6" stroke="#cf8af5" stroke-width="1.15"/>
<line x1="263.16" y1="105.4" x2="263.16" y2="109.6" stroke="#cf8af5" stroke-width="1.15"/>
<line x1="277.61" y1="105.4" x2="277.61" y2="109.6" stroke="#cf8af5" stroke-width="1.15"/>
<line x1="278.56" y1="105.4" x2="278.56" y2="109.6" stroke="#cf8af5" stroke-width="1.15"/>
<line x1="291.34" y1="105.4" x2="291.34" y2="109.6" stroke="#cf8af5" stroke-width="1.15"/>
<line x1="303.9" y1="105.4" x2="303.9" y2="109.6" stroke="#cf8af5" stroke-width="1.15"/>
<line x1="326.87" y1="105.4" x2="326.87" y2="109.6" stroke="#cf8af5" stroke-width="1.15"/>
<line x1="337.76" y1="105.4" x2="337.76" y2="109.6" stroke="#cf8af5" stroke-width="1.15"/>
<line x1="347.71" y1="105.4" x2="347.71" y2="109.6" stroke="#cf8af5" stroke-width="1.15"/>
<line x1="348.9" y1="105.4" x2="348.9" y2="109.6" stroke="#cf8af5" stroke-width="1.15"/>
<line x1="358.61" y1="105.4" x2="358.61" y2="109.6" stroke="#cf8af5" stroke-width="1.15"/>
<path transform="scale(.1)" d="M2184,1188l2 2 2-1 2 1 2-2 1 1 2-1 2 2 2-1 2 0 2-1 2 2 2-1 2 1 2-2 1 1 2 1 2 0 2 1 2-1 2 0 2 0 2-2 0 1 1-1 0 0 1 1 0 0 1 1 0 1 0-3 1 0 0 0 1 1 0 0 1-1 0 1 1 0 0-1 1 1 0-3 1-6 0-4 1-2 0 4 1 8 0 9 1 4 0 0 0-3 1-4 0-3 1 1 0-1 1 1 0 0 1-1 0 1 1-2 0 1 1 1 0-1 1 0 0-1 1 2 0-2 1-1 0 2 0 1 1-1 0 0 2 0 2 0 2 0 2-1 2 1 2-1 2 2 2-1 1 0 2-1 2 0 2 3 2-1 2-1 2 0 2 0 2 1 2-3 1 2 2 1 2 0 2-1 2 0 2-1 2 2 2 0 2-2 1 1 2 0 2-1 2 2 2-2 2 1 2 0 2 0 2-1 2 0 1 2 2 0 2-1 2 0 2-1 2 1 2-1 2 1 2-1 1 3 2-3 2-2 2 3 2 1 2-2 2 2 2-2 2 2 2-1 1 1 2-1 2 2 2-3 2 2 2-2 2 1 2-2 2 1 1 0 2 0 2 0 2 1 2 1 2 0 2-2 2 0 2 1 2 1 1-2 2 1 2 1 2-1 2-1 2 0 2 1 2-1 2 3 1-2 2 0 2-1 2 1 2 0 2 1 2-2 2 0 2 0 2 1 1 0 2 0 2 0 2-1 2 1 2-1 2 0 2 1 2 0 1 2 1-2 0-1 1 1 0 0 1 0 0 2 1-2 0 1 1-1 0-1 1 1 0 0 1 1 0-2 1-1 0 2 1-1 0-4 0-11 1-19 0-21 1-8 0 16 1 35 0 32 1 19 0-3 1-14 0-12 1-6 0-3 1-1 0 2 1-2 0 1 1-1 0 1 0 0 1 1 0 0 1-2 0 2 1-1 0 0 1 0 0-1 1 1 0-1 1 1 2 1 1-1 2 1 2 0 2-2 2 1 2 2 2-1 2-1 2-2 2 3 1 0 2-2 2 2 2-1 2-1 2 2 2-1 2-1 2 1 1 1 2 0 2-2 2 2 2-1 2 0 2-1 2 1 2 0 2 0 1 0 2-1 2 1 2 0 2 1 2-1 2 1 2 0 2-3 1 1 2 1 2-1 2 1 2-1 2 1 2 0 2 0 2-1 2 0 1 0 2-1 2 2 2 0 2 0 2 1 2-1 2 2 2-3 1 1 2 0 2-1 2 1 2-1 2 2 2-1 2 2 2-2 2 1 1-1 2-1 2 1 2-1 2 0 2 1 2 0 2 1 2 1 1-3 2 1 2 0 1-1 0 1 1-2 0 1 1 2 0-1 1 0 0 1 1 0 0-1 0 0 1-1 0 1 1 1 0 0 1-2 0 1 1 0 0-4 1-7 0-18 1-16 0-7 1 12 0 24 1 28 0 12 1 0 0-9 0-9 1-4 0-2 1 1 0-2 1 1 0-1 1 1 0-1 1 1 0 1 1-1 0 0 1 0 0-1 1 0 0 1 1 0 0 0 0 0 1 0 2 1 2-2 2 3 2-2 1-1 2 1 2-1 2 2 2-2 2 1 2 1 2-1 2-1 1 1 2-1 2 1 2-2 2 3 2 0 2-1 2 0 2 0 2-2 1 1 2 1 2 1 2-1 2 1 2-1 2 1 2-1 2 0 1 1 2-2 2 1 2 1 2-2 2 1 2 0 2 0 2 0 2 1 1-2 2 2 2-1 2-1 2 1 2 0 2-1 2 0 2 1 1 1 2 0 2 1 2-4 2 1 2 1 2 0 2 0 2-1 2 0 1 2 2-1 2-1 2 1 1 2 0-1 1-1 0 2 0-3 1 1 0 0 1 0 0 1 1-1 0 0 1 0 0 0 1-1 0 0 1 1 0-1 1-1 0-3 1-8 0-20 1-21 0-7 0 13 1 25 0 25 1 13 0-1 1-3 0-6 1-5 0 1 1-1 0 0 1 0 0-1 1 0 0 0 1 2 0-1 1 1 0-1 0 0 1 0 0-1 1 1 0-1 1 0 0 1 1 0 2 0 2 0 1-1 2 0 2 1 2 0 2 0 2 0 2-1 2 2 2 0 2-1 1 0 2 1 2 0 2-1 2 0 2 1 2-2 2 1 2-1 1 1 2 0 2 0 2 2 2-2 2 2 2-1 2-3 2 3 2 0 1-1 2-1 2 1 2 0 2-1 2 1 2 0 2 1 2-1 1 0 2 0 2-2 2 2 2 0 2-1 2 1 2 1 2 0 2-2 1 1 2 0 2 1 2 0 2-1 2 0 2 0 2-1 2 1 1 0 2 1 2-1 2 0 2 1 2 0 2 0 2 0 2-2 1 0 2 2 2-2 2 1 2 0 2 1 2-2 2 0 2 0 2 0 1 1 2 0 2 1 2-1 2-1 2 2 2-2 2 2 2-1 1 1 2-1 2-1 2 1 2 0 2 0 2 0 2-1 2 2 2-2 1 2 2 0 2-1 2-1 2 1 2 0 2 1 2 0 2-1 1-1 2 1 2 0 2 1 2-1 2 0 2 1 2-2 2 2 2-1 1 1 2-2 2 1 2 1 2-1 2 0 2 0 2 0 2-1 0 1 1 0 0-1 0 1 1-1 0 1 1 0 0 0 1 1 0-2 1 1 0 0 1-1 0 2 1-2 0 3 1-1 0-1 1-2 0-6 1-10 0-13 0-3 1 8 0 21 1 16 0 10 1 0 0-8 1-8 0-4 1 0 0-3 1 1 0 0 1 1 0 0 1 1 0-1 1 0 0 1 0-2 1 0 0 1 1 0 0 0 1 1 0-3 1 3 0-1 2 1 2-1 2-1 2 2 2 0 2-2 2 1 1 0 2 0 2 1 2-1 2 1 2-1 2 1 2 0 2-2 1 1 2 0 2 0 2 0 2 0 2 0 2-1 2 1 2-1 2 1 1 1 2-3 2 3 2-3 2 3 2-1 2-1 2 1 2 0 1 0 2 0 2 1 2-3 2 1 2 1 2 0 2-1 2 2 2 0 1 0 2-2 2 0 2 0 2 2 2 1 2-3 2 0 2 1 1-1 2 0 2 0 2 0 2 0 2 2 2-1 2 0 2 1 2 0 1-1 2 1 2-1 2 1 2-3 2 3 2-2 2 1 2-1 1 2 2-1 2-1 2 0 2 1 2 0 2 1 2 0 2-1 2 1 1-1 2 0 2 0 2 0 2-1 2 0 2 0 2 1 2-1 1 2 2 0 2-1 2 1 2-1 2 0 2 2 2-2 2 0 2 0 1 0 2 0 2-1 2 1 2-1 2 0 2 2 0-1 1 0 0 0 1 1 0-1 1-1 0 0 1 2 0-1 1 1 0-2 0 1 1 0 0 1 1-1 0 0 1-1 0-2 1-3 0-6 1-8 0-4 1 6 0 9 1 9 0 5 1 2 0-3 1-3 0 1 0-2 1-1 0 0 1 0 0 1 1-1 0 0 1 2 0-1 1-2 0 2 1 0 0-1 1 1 0 0 1-1 0 1 1-1 0 1 2-1 2 1 2 1 2 0 1-1 2-1 2 1 2 0 2-1 2 1 2-1 2 2 2-1 2 0 1 1 2-1 2 1 2-2 2 0 2 1 2 1 2 0 2-1 1-1 2 2 2-1 2 0 2-1 2 0 2 2 2-1 2 0 2 0 1 2 2-2 2 0 2 0 2 1 2-1 2 0 2 1 2-1 1 0 2 0 2-2 2 1 2 1 2-2 2 3 2-2 2 2 2-1 1-1 2 1 2 0 2 0 2 1 2-2 2 1 2 1 2-1 1 0 2 0 2 0 2 1 2-2 2 2 2-1 2-1 2 1 2-1 1 3 2 1 2-3 2 1 2-2 2 0 2 0 2-1 2 3 1-1 2-1 2 0 2 2 2-1 2 1 2-1 2 0 2 2 2-4 1 2 2-1 2 1 2-1 2 0 2 1 2 0 2 0 2 0 1 1 2-1 2-1 2 1 2 2 2-2 2-2 2 2 2-1 2-1 1 2 2 0 2-1 2 0 2 1 2 1 2-1 2 0 2-1 1 0 2 1 2-1 2 1 2 1 2 0 2-1 2-1 2 1 2-1 1 0 2 0 2 1 2 0 2 1 2-1 2 0 2-1 2 2 1 0 2 0 2 0 2-1 2 1 2-1 2 1 2-1 2-1 2 1 1-1 2 1 2-1 2 1 2-1 2 2 2-1 2-1 2 1 1-1 2 1 2 0 2 1 2 0 2-3 2 2 2-1 2 0 2 2 1-2 2-1 2 2 2-1 2 1" fill="none" stroke="#ff7f14" stroke-width="12"/>
</g>
<rect x="218.4" y="12.5" width="142.1" height="113.9" fill="none" stroke="#454545" stroke-width="0.9"/>
<line x1="218.4" y1="126.4" x2="218.4" y2="128.8" stroke="#454545" stroke-width="0.8"/>
<text x="218.4" y="135.3" font-size="6.7" font-weight="bold" text-anchor="middle" fill="#000">20</text>
<line x1="230.24" y1="126.4" x2="230.24" y2="127.8" stroke="#454545" stroke-width="0.8"/>
<line x1="242.08" y1="126.4" x2="242.08" y2="128.8" stroke="#454545" stroke-width="0.8"/>
<text x="242.08" y="135.3" font-size="6.7" font-weight="bold" text-anchor="middle" fill="#000">30</text>
<line x1="253.93" y1="126.4" x2="253.93" y2="127.8" stroke="#454545" stroke-width="0.8"/>
<line x1="265.77" y1="126.4" x2="265.77" y2="128.8" stroke="#454545" stroke-width="0.8"/>
<text x="265.77" y="135.3" font-size="6.7" font-weight="bold" text-anchor="middle" fill="#000">40</text>
<line x1="277.61" y1="126.4" x2="277.61" y2="127.8" stroke="#454545" stroke-width="0.8"/>
<line x1="289.45" y1="126.4" x2="289.45" y2="128.8" stroke="#454545" stroke-width="0.8"/>
<text x="289.45" y="135.3" font-size="6.7" font-weight="bold" text-anchor="middle" fill="#000">50</text>
<line x1="301.29" y1="126.4" x2="301.29" y2="127.8" stroke="#454545" stroke-width="0.8"/>
<line x1="313.13" y1="126.4" x2="313.13" y2="128.8" stroke="#454545" stroke-width="0.8"/>
<text x="313.13" y="135.3" font-size="6.7" font-weight="bold" text-anchor="middle" fill="#000">60</text>
<line x1="324.98" y1="126.4" x2="324.98" y2="127.8" stroke="#454545" stroke-width="0.8"/>
<line x1="336.82" y1="126.4" x2="336.82" y2="128.8" stroke="#454545" stroke-width="0.8"/>
<text x="336.82" y="135.3" font-size="6.7" font-weight="bold" text-anchor="middle" fill="#000">70</text>
<line x1="348.66" y1="126.4" x2="348.66" y2="127.8" stroke="#454545" stroke-width="0.8"/>
<line x1="360.5" y1="126.4" x2="360.5" y2="128.8" stroke="#454545" stroke-width="0.8"/>
<text x="360.5" y="135.3" font-size="6.7" font-weight="bold" text-anchor="middle" fill="#000">80</text>
<text x="289.75" y="148.7" font-size="9.9" font-weight="bold" text-anchor="middle" fill="#000">2 Theta (degree)</text>
<text x="218.8" y="17.7" font-size="6.1" font-weight="bold" text-anchor="start" fill="#000">BB0.25T</text>
<path d="M325.6,14.9l5.2,4.4m0,-4.4l-5.2,4.4" stroke="#30b4f0" stroke-width="0.9" fill="none"/>
<text x="336.2" y="19.1" font-size="6.7" font-weight="bold" text-anchor="start" fill="#000">y_obs</text>
<line x1="320.2" y1="25.1" x2="334.8" y2="25.1" stroke="#e0a858" stroke-width="1.2"/>
<text x="336.2" y="27.1" font-size="6.7" font-weight="bold" text-anchor="start" fill="#000">y_calc</text>
<line x1="320.2" y1="32.9" x2="334.8" y2="32.9" stroke="#9a9a9a" stroke-width="1.2"/>
<text x="336.2" y="34.9" font-size="6.7" font-weight="bold" text-anchor="start" fill="#000">y_bkg</text>
<line x1="320.2" y1="40.6" x2="334.8" y2="40.6" stroke="#ffb070" stroke-width="1.3"/>
<text x="336.2" y="42.6" font-size="6.7" font-weight="bold" text-anchor="start" fill="#000">Diff</text>
<line x1="328.2" y1="47.1" x2="328.2" y2="51.9" stroke="#c58cf0" stroke-width="0.8"/>
<text x="336.2" y="51.5" font-size="6.7" font-weight="bold">BaTiO<tspan font-size="4.4" dy="1.4">3</tspan></text>
<text x="318.9" y="60.9" font-size="6.8" font-weight="bold">R<tspan font-size="4.6" dy="1.5">wp</tspan><tspan dy="-1.5">=12.602 %</tspan></text>
<text x="318.9" y="70.9" font-size="6.9" font-weight="bold">X<tspan font-size="4.2" dy="-2.4">2</tspan><tspan dy="2.4">=1.15</tspan></text>
<text transform="translate(209 66) rotate(-90) scale(0.945 1)" font-size="10.2" font-weight="bold" text-anchor="middle">Intensity (a.u.)</text>
<text x="187.6" y="11.9" font-size="13" font-weight="normal" text-anchor="start" fill="#000">(b)</text>
<clipPath id="cc"><rect x="401.4" y="12.5" width="142.1" height="113.9"/></clipPath>
<g clip-path="url(#cc)">
<path transform="scale(.1)" d="M4014,969l1 0 1 0 0-2 1-3 0 2 1 5 1-6 0 3 1-1 0 4 1-2 0-2 1 0 1 2 0-3 1 4 0 0 1-3 1 3 0 1 1-1 0-2 1 1 1 1 0-1 1 1 0 2 1 0 1-5 0 3 1 2 0-4 1 0 1 3 0-4 1 5 0-3 1 0 0 1 1 2 1-5 0 2 1 3 0-2 1-2 1 3 0 0 1-6 0 7 1-2 1-3 0 2 1-1 0 4 1-1 1 1 0-3 1-2 0 4 1-4 0 0 1 2 1 2 0-1 1-3 0 0 1 0 1-1 0 0 1-2 0 3 1-3 1 0 0-5 1 9 0-6 1 0 1-5 0-8 1-4 3-18 1-15-3-25 6-25-8-40 6-18-5-19 5 6 1 16 1 26 2 34-7 29 4 20 0 22 6 11-3 7 1 3 0 6 1 1 1 2 0-6 1 4 0 1 1 4 1-3 0-1 1 1 0-1 1 5 0-2 1 0 1 2 0 0 1 4 0-4 1-1 1 0 0-3 1 2 0 3 1 0 1 0 0 0 1-2 0-2 1 1 1 3 0 2 1 0 0-1 1-3 1 2 0-2 1 0 0 1 1-2 0 3 1-2 1 6 0-5 1-1 0 5 1-5 1 4 0-1 1-2 0 2 1 0 1-1 0-1 1 3 0-2 1 0 1-2 0 5 1 4 0-3 1-4 1 3 0-5 1 2 0 0 1-2 0 2 1 2 1 1 0-5 1 3 0-2 1 4 1 1 0-8 1 4 0 5 1-4 1 1 0 2 1-1 0-1 1 1 1 1 0-1 1-2 0 0 1 0 0 0 1 1 1-1 0 2 1-2 0-3 1 5 1 2 0-4 1 0 0 1 1 0 1-2 0 3 1-2 0-2 1-1 1 3 0 0 1 5 0-6 1 0 1 5 0-1 1 1 0-5 1 2 0-2 1 1 1-2 0 0 1 4 0-5 1 6 1 0 0-3 1 3 0-3 1 0 1 4 0 1 1-3 0 0 1 6 1-8 0-2 1 1 0 2 1-2 1 3 0-2 1 4 0 0 1-5 0 7 1-8 1 7 0-6 1-1 0 2 1 5 1-3 0 1 1 4 0-1 1-2 1-2 0 0 1 0 0-1 1 1 1 0 0-1 1 0 0 3 1 0 0-3 1 2 1-1 0 1 1 3 0 3 1-2 1-7 0 2 1-4 0 5 1 1 1-1 0 3 1-2 0-3 1 3 1-4 0 8 1-5 0 0 1 4 1-6 0 2 1 0 0 1 1-1 0-2 1-2 1 4 0 3 1 2 0-2 1 1 1-1 0-7 1 6 0 2 1-7 1 2 0 2 1 2 0 2 1-2 1-4 0 0 1 2 0-4 1 0 1 0 0 1 1 3 0 1 1 0 0 2 1-5 1-1 0 6 1-2 0 0 1-1 1-4 0 3 1 2 0 0 1-4 1 4 0 1 1-2 0 3 1 0 1-3 0 2 1-3 0 0 1 0 0 0 1 1 1 0 0-3 1 2 0 0 1 2 1 0 0-1 1-2 0 2 1-1 1 3 0-7 1 5 0-2 1 5 1-1 0-4 1 1 0 4 1-6 1 2 0 1 1-3 0 2 1 3 0-2 1 2 1-6 0 4 1 1 0 0 1-1 1 0 0-1 1 0 0 2 1-1 1-1 0 2 1-1 0 1 1 0 1-4 0 0 1 3 0-1 1 2 1 4 0-3 1 0 0 0 1 0 0-4 1 1 1-1 0 0 1 7 0-8 1 3 1-1 0 1 1 4 0-8 1 5 1-2 0 2 1 1 0-1 1-1 1 0 0 0 1-5 0 2 1 2 0-2 1 3 1-4 0 3 1-1 0-4 1 7 1 0 0 1 1-4 0 0 1 0 1 1 0-2 1-2 0 1 1-1 1 1 0 3 1-5 0 3 1-4 1 0 0 1 1-7 0 5 1-1 0 0 1-1 1-3 0-3 6-3-1-4 1-3-5-9-1-3 6-15 0-22-2-32 0-51-3-78 0-96 7-116 0-135-1-96 2-75 4 24-9 92 8 99 1 117-1 129 4 86-11 60 14 52-5 21 2 22 4 14 3 6-5 2-1 15-1-2 3 9 0-7 1 3 0-3 1 7 1-1 0-1 1 6 0-3 1-2 1 6 0-3 1 2 0-4 1 8 0-4 1 5 1 1 0-4 1 2 0-3 1 3 1-2 0 2 1 1 0-3 1-1 1 5 0-6 1 4 0 2 1 1 1-7 0 4 1 2 0 2 1-3 1 5 0-7 1 4 0-2 1-4 0 4 1 2 1 1 0-5 1 6 0-4 1 3 1-4 0 0 1 2 0-1 1 3 1-2 0 5 1-5 0 4 1-3 1 0 0 4 1-3 0-1 1 0 1 1 0-2 1 2 0-2 1 1 0 2 1-9 1 8 0-3 1 5 0-4 1 4 1-1 0-1 1-1 0 0 1 1 1-1 0 5 1-8 0 2 1-4 1 7 0-1 1-4 0 4 1-1 0 0 1 1 1 1 0-5 1 4 0-5 1 4 1 5 0-7 1 5 0-2 1 1 1 0 0-2 1 0 0 2 1-1 1-4 0 2 1 3 0 7 1-9 1 0 0 3 1 0 0-3 1 1 0 0 1 0 1 1 0-1 1 0 0 1 1 1 1 0 0 1 1-3 0 0 1-2 1-1 0 7 1-6 0 2 1-1 1 0 0 3 1-2 0 0 1 1 1-2 0 0 1 2 0-3 1 1 0 6 1-5 1-5 0 4 1 0 0 0 1-2 1 2 0 0 1 0 0 0 1 1 1 4 0-1 1-3 0 1 1-1 1-2 0 6 1-5 0 3 1-1 0 2 1 0 1-2 0-1 1 2 0 0 1 1 1-1 0-3 1 3 0-3 1 4 1 1 0-6 1 5 0-3 1-1 1 1 0 2 1-1 0-1 1 2 1-2 0 3 1-3 0 3 1-2 0 1 1-2 1 3 0-3 1 1 0-1 1 2 1-3 0-2 1 4 0-1 1 0 1 3 0-1 1 2 0-3 1-4 1 3 0-2 1 6 0-3 1 2 0-6 1 5 1-2 0-3 1 2 0 0 1 4 1-5 0-1 1 2 0-1 1 3 1-1 0 0 1-1 0 4 1 4 1-7 0 1 1-1 0 3 1-1 1-3 0 1 1 1 0-2 1-4 0 8 1-2 1-3 0 0 1 2 0 1 1-2 1 3 0-1 1-3 0 1 1-1 1-1 0 2 1-1 0 0 1 1 1 0 0-3 1 5 0-4 1 0 1-3 0 1 1-1 0 0 1-3 0-1 1-4 6-4 1-9-4-15 1-21 1-27-3-31 3-26-1-31 6-28-6 10-1 25 8 24 1 34-4 32-1 25 6 21-1 10-1 9 0 0 1 9 0 0 1 4 1-1 0 1 1-1 0-1 1 1 1 1 0 2 1 2 0-5 1 2 1 4 0-2 1 1 0-5 1 7 1-4 0-1 1 2 0 0 1-1 1 0 0 0 1 0 0 3 1-3 0 2 1-1 1 9 0-9 1 2 0 0 1-2 1 2 0-2 1 4 0-5 1 3 1-1 0 5 1 0 0-1 1-9 1 4 0 3 1-1 0 3 1-4 1 0 0-1 1 0 0 0 1 2 0 1 1 4 1-4 0-2 1 3 0-1 1 2 1-4 0-2 1 4 0 0 1-2 1 3 0-1 1-4 0 4 1-6 1 5 0 0 1-1 0-3 1 5 0-2 1 1 1 1 0-1 1-1 0-2 1 0 1 1 0 2 1 1 0-7 1 1 1 6 0 1 1-6 0 2 1 2 1 0 0-4 1 3 0-2 1 5 1-5 0 3 1-3 0 4 1-3 0 6 1-4 1-1 0 2 1 4 0-10 1 5 1 1 0-4 1 4 0 1 1 1 1-4 0 2 1 1 0-1 1-2 1 2 0 2 1-4 0 2 1-1 1-1 0 0 1 0 0-1 1 5 0-3 1 1 1-1 0-1 1 1 0-1 1-1 1 2 0-1 1 0 0 1 1-2 1-1 0 10 1-9 0 9 1-10 1 7 0-7 1 0 0 2 1-2 0 3 1 1 1-5 0 2 1 1 0 3 1 1 1-6 0 5 1 0 0-2 1-3 1 2 0 4 1-6 0 2 1 3 1 0 0-4 1-1 0 3 1-3 1 0 0 3 1 0 0-2 1-1 0 3 1 1 1-4 0 6 1-3 0-4 1 1 1 0 0 2 1-2 0 3 1-1 1-4 0 4 1 0 0-1 1-1 1 6 0-6 1 3 0 0 1 0 1 1 0-3 1-2 0 4 1-3 0-2 1 6 1-4 0 3 1-7 0 0 1 3 1 5 0-2 1-3 0 0 1-5 1 4 0-2 1-3 0-1 1 4 1-4 0-2 1-2 0-5-1-3 0-12-2-15 6-21-2-38 1-32 0-66 8-56-3-44-5-29 10-13-4 54 1 49-1 56 3 43 2 50-4 31 3 22-2 11 1 9 2 5 0 11 1-2 1-8 0 9 1-2 0 3 1 1 0 1 1-1 1 5 0-3 1 4 0-2 1 0 1 0 0-1 1-1 0 6 1-4 1 4 0-5 1 2 0-1 1 2 1-1 0 2 1 1 0-3 1 1 1 1 0 0 1 0 0 2 1 2 0-3 1 0 1-4 0 1 1 0 0 0 1 3 1-2 0 4 1-5 0 0 1 2 1 3 0-4 1-3 0 5 1-5 1 7 0-1 1-4 0 1 1 0 0 2 1-4 1 4 0-1 1 1 0-3 1 2 1-2 0 4 1-3 0 3 1 0 1-8 0 9 1-3 0 2 1-3 1 4 0-10 1 6 0 0 1 1 1 2 0-5 1 1 0 2 1-1 0 2 1-1 1 3 0-3 1 0 0-1 1 0 1 3 0-1 1 0 0 4 1-5 1 2 0-1 1-2 0 1 1 0 1 1 0 0 1 2 0-4 1 1 1 1 0-1 1 1 0-2 1 3 0-2 1-2 1-1 0 0 1 6 0-2 1 2 1-4 0-1 1 3 0 2 1-7 1 2 0 2 1 4 0-5 1 0 1 3 0 0 1 2 0-3 1 4 0-4 1-2 1-1 0 4 1-3 0 5 1-3 1 2 0-1 1 0 0-5 1 5 1-1 0 0 1 2 0-1 1 2 1-6 0 4 1-2 0 1 1 1 1 3 0-6 1-1 0 3 1 1 0 0 1 0 1 3 0-1 1-3 0-3 1 4 1-2 0 0 1 0 0 2 1-2 1 2 0 1 1-4 0 4 1-5 1 2 0 0 1 3 0-1 1 1 1-1 0-1 1 3 0-5 1 5 0-5 1 1 1-4 0-3 1-5 0-1 1 1 1-3 4-9 2-5-5-2 5-5-5 1 0-2 0 4 3 5 3 1-9 9 8 2 1 4 0 0 1 8 0 1 1 2 1-1 0 5 1-5 0 5 1-2 1 1 0 2 1-1 0-1 1-1 1 3 0-3 1 0 0 0 1-5 1 3 0-7 1 2 0-8 1-6 1-2 2-3 2-1-2-8-2-3 6 2-8 0 2 3 3 6-1 2 3 6 1 7 1 2 0 3 1 1 0 3 1 3 1-1 0 0 1-2 0 0 1 1 1-1 0 3 1-3 0 0 1 4 0 2 1-2 1 0 0 2 1-8 0 6 1-3 1 1 0 3 1 1 0 2 1-6 1 1 0 3 1-4 0 4 1-5 1 2 0 4 1-1 0-1 1-1 1-2 0 4 1-3 0-2 1 3 0 1 1-5 1 2 0 1 1 2 0-1 1 3 1-7 0 3 1 1 0 0 1-2 1 2 0 1 1-3 0 3 1-3 1 3 0-1 1 3 0-3 1 1 1-2 0 2 1 0 0-4 1 3 0 2 1-2 1 1 0 0 1-5 0 4 1-5 1 3 0 0 1 0 0-2 1 4 1-2 0-1 1 5 0-1 1-1 1-3 0 7 1-2 0-3 1 0 0-1 1-1 1 2 0 1 1 1 0-1 1 2 1-2 0-1 1 2 0 2 1-4 1 0 0-1 1 1 0 0 1-2 1 1 0 5 1-4 0 0 1-2 1 7 0-4 1-7 0 6 1-1 0 2 1-4 1 2 0-1 1 1 0 1 1 3 1-5 0 4 1 0 0 2 1-5 1 3 0-2 1 0 0 2 1 3 1-4 0-6 1 8 0 3 1-5 1-1 0-1 1 2 0 0 1-2 0 2 1 1 1 1 0-2 1 0 0 2 1-3 1-2 0-1 1 4 0 0 1-2 1 1 0-3 1 4 0 1 1-4 1-5 0 6 1-1 0 1 1-2 0 0 1 1 1 0 0-1 1 1 0-2 1-5 1 7 0-10 1 0 0-2 1-6 6-4-5-11 0-21-1-22 6-29-5-29 4-26-1-14 1 5 3 12 1 28 0 35-6 25 6 20-4 18-1 9 6 8 1 4 0 5 1-2 0 5 1-2 1 1 0 2 1-2 0-1 1-3 1 6 0 2 1 2 0-3 1 2 1-3 0 2 1-3 0 4 1-1 1 2 0-3 1 3 0-3 1 3 0 1 1 1 1-6 0 3 1 0 0 2 1-2 1 1 0-1 1 5 0-3 1-2 1 2 0-4 1 2 0-5 1 6 1 1 0-1 1-1 0 0 1 3 0-5 1 2 1 2 0-1 1-2 0 3 1 0 1-5 0 3 1 2 0-2 1-4 1 5 0-4 1 3 0 0 1-2 1 1 0 2 1 0 0 3 1-3 1 0 0-1 1-2 0 2 1-1 0 3 1 2 1-5 0 4 1-3 0 0 1 0 1 0 0-4 1 2 0 4 1-3 1 3 0-3 1 6 0-2 1-1 1-4 0 2 1-3 0 4 1-5 1 3 0 2 1-4 0 6 1-1 0 0 1-5 1 6 0 0 1-1 0-1 1 1 1 1 0-5 1 4 0 1 1-6 1 2 0 2 1 2 0-1 1-1 1-1 0 0 1 1 0 0 1 0 0-1 1-1 1 2 0-6 1 4 0 4 1-2 1 0 0-4 1 3 0-1 1 2 1 3 0-4 1 1 0 2 1-3 1 0 0 4 1-6 0 6 1-1 1 0 0-3 1 0 0-2 1 4 0-4 1 1 1 4 0-2 1-6 0 6 1 0 1-1 0 3 1-3 0 3 1-2 1 1 0-1 1-4 0 5 1-2 1-2 0 2 1 0 0 1 1-3 1 3 0 0 1 0 0-3 1 2 0 2 1-3 1 4 0-3 1-2 0 3 1-2 1 0 0 4 1 1 0-2 1 0 1 1 0-2 1 5 0-4 1-3 1-1 0 6 1-2 0 0 1 0 0 0 1-3 1-1 0 4 1 0 0-1 1-2 1-1 0 1 1 3 0 1 1-2 1 0 0-1 1-4 0 3 1 2 1-2 0 1 1-2 0 4 1-1 1 1 0-1 1-2 0 3 1 1 0-5 1 0 1-1 0 3 1 2 0-2 1 0 1 4 0-1 1-1 0-2 1-5 1 4 0 2 1-3 0-1 1-1 1 6 0-3 1 0 0 5 1-5 1 1 0 4 1-2 0-2 1 0 0-2 1 7 1-4 0 1 1-5 0 1 1 3 1 0 0 2 1-1 0 0 1 0 1-2 0 5 1-1 0-1 1-3 1 1 0-3 1 6 0-3 1-2 0 2 1-2 1 2 0-3 1 5 0-3 1 4 1-9 0 8 1-4 0-3 1 8 1-2 0 2 1-5 0-2 1 8 1-5 0 0 1 1 0 0 1-1 1 1 0 2 1-1 0-1 1 0 0 0 1 0 1 1 0-2 1-1 0 3 1-3 1 0 0-3 1 4 0 2 1 0 1-2 0 3 1-2 0-1 1-3 1 2 0 2 1 0 0-1 1 0 1-2 0 6 1 1 0-3 1 0 0 1 1 0 1-1 0 2 1-2 0-2 1 3 1-6 0 3 1 1 0 1 1-3 1 2 0 1 1-3 0 2 1 1 1 0 0 0 1 1 0-4 1 2 0-2 1 3 1-3 0 0 1 0 0-2 1 5 1-2 0 0 1-2 0 2 1 0 1 0 0-1 1 0 0-4 1-1 1-2 0 1 1 5 0-12 2-6 5-4-4-14 3-14-7-18 5-18-1-7 0-4 4 15-1 12 1 24 0 5 5 16-3 9 0 7 1 6 0 0 1 9 1-7 0-1 1 1 0 2 1 2 1 0 0-6 1 4 0-4 1 6 1 3 0-4 1 3 0-5 1 3 0-3 1 4 1-1 0-2 1 3 0-2 1 4 1-4 0-3 1 2 0-1 1 1 1 2 0-3 1-2 0 6 1-2 1 1 0 2 1 1 0-8 1 4 0-3 1 6 1-4 0 2 1-1 0 1 1 3 1 2 0-8 1 3 0-2 1 1 1 2 0-6 1 5 0 1 1 2 1-4 0 0 1 2 0-1 1-2 1 3 0-2 1 1 0-5 1 8 0-6 1 3 1 1 0-2 1 1 0 0 1 0 1-2 0 2 1 0 0-2 1-1 1 2 0 1 1 1 0-5 1 4 1 1 0-2 1 2 0-2 1 0 0 4 1-5 1 0 0 1 1 4 0-2 1 0 1-3 0 2 1-2 0-1 1 3 1-1 0 7 1-3 0-1 1-2 1-3 0 2 1 3 0-1 1-1 1 0 0 0 1-3 0 6 1-3 0 0 1 2 1-1 0-4 1 2 0 0 1 0 1-2 0 6 1-6 0 5 1-3 1-1 0 3 1-2 0 3 1-2 1 1 0 2 1-4 0-1 1 2 1-4 0 4 1 0 0 1 1 0 0-6 1 4 1 2 0 2 1-4 0-1 1 0 1 4 0 1 1-7 0 4 1-1 1 4 0-2 1-1 0 1 1-5 1 4 0 3 1-5 0-3 1 5 0-6 1 2 1 2 0-3 1-8 0 2 1-9-3-2 6-1-1-4 3 3 0-5 2 9-1-3-1 0 0 6 1 4 1 7 0-5 1 2 0 1 1 4 1 7 0-3 1-3 0 2 1 1 0-3 1 4 1 0 0 0 1-1 0 0 1 3 1-1 0-4 1-2 0 5 1-2 1 4 0-2 1-6 0 6 1 0 1 0 0-3 1-2 0 3 1-1 1 2 0 2 1-2 0-1 1 1 0 0 1-2 1 3 0 5 1-4 0-2 1 5 1-3 0 0 1-3 0 1 1 0 1 0 0-2 1 2 0 3 1-7 1 3 0 2 1 1 0 0 1 1 0-4 1 1 1-2 0 5 1-1 0-4 1 2 1 2 0-5 1 3 0 4 1-5 1-3 0 2 1 0 0 1 1 2 1-4 0 2 1 4 0-2 1-2 1 2 0 2 1-1 0-5 1 4 0-2 1 1 1-3 0 3 1-3 0 4 1 0 1-4 0 2 1 4 0-9 1 6 1 2 0 1 1-7 0 3 1 1 1-3 0 2 1-3 0 9 1-3 1 0 0-2 1 1 0-1 1 3 0-5 1 4 1-3 0 1 1 2 0-1 1 0 1 1 0-5 1 3 0-1 1 1 1-1 0 1 1-3 0 3 1 0 1-3 0 4 1 0 0-2 1 1 0 3 1-3 1 1 0-3 1-1 0 3 1-1 1 5 0 0 1-5 0-1 1-3 1 1 0-5 1-1 0-2 1-8 1 0-4-5 6-6 4 8-10 2 5-6 1 3 2 3 0 5 1 1 0 2 1 5 1 3 0-1 1 5 0-2 1 2 1-1 0 3 1 2 0-7 1 5 1 1 0 2 1-3 0 1 1-3 1 2 0-3 1-1 0-1 1-6 1 3 0-5 1 4 0-11 1 0-1-6 5 3 2-3-5 2 2 1 1 2 0 6 1-1 0 8 1-4 0 4 1 2 1 4 0-3 1 0 0 6 1-3 1 2 0-2 1 0 0-2 1 6 0-5 1 1 1 2 0-4 1 6 0-3 1 1 1-2 0 2 1-4 0 6 1-2 1-1 0-1 1 4 0 0 1-3 1-3 0 2 1-2 0 3 1 2 1-2 0-1 1 0 0 1 1 2 0 3 1-5 1-1 0-3 1 3 0-3 1 1 1 1 0 3 1-5 0 7 1-6 1 4 0 2 1-3 0 3 1-2 1-1 0 1 1-3 0 2 1 0 1 0 0-2 1-3 0 2 1 9 0-6 1-1 1 1 0 1 1-3 0 3 1 0 1-1 0 2 1-1 0-1 1-2 1 0 0 4 1 1 0-5 1 3 1-4 0 8 1-11 0 6 1-2 0 4 1-3 1 2 0-7 1 7 0-4 1 5 1-6 0 3 1 0 0 2 1-1 1-2 0 0 1 2 0 1 1-1 1 0 0 2 1-5 0 5 1-5 1 4 0-1 1 2 0 2 1-4 0 2 1 0 1-4 0 4 1-3 0-1 1 0 1 5 0-4 1 0 0 1 1 0 1-1 0 1 1-1 0-2 1-1 1 4 0 2 1-4 0 3 1-3 1-4 0 0 1-1 0-6 1-1 0-2 4-6-6-1 4-2 8 0-2 1-2-1-2 4 1 2 1 4 0 6 1-4 1 7 0-3 1 4 0 2 1-2 1 3 0 2 1 0 0-2 1 1 0 4 1-3 1 0 0-2 1 4 0-3 1 5 1-3 0-5 1 2 0 1 1 6 1-9 0 3 1 3" fill="none" stroke="none" marker-start="url(#mx)" marker-mid="url(#mx)" marker-end="url(#mx)"/>
<path transform="scale(.1)" d="M4014,978l1 0 1 0 0 0 1 0 0 0 1 0 1 0 0 0 1 0 0 0 1 0 0 0 1 0 1 0 0 1 1 0 0 0 1 0 1 0 0 0 1 0 0 0 1 0 1 0 0 0 1 0 0 0 1 0 1 0 0 0 1 0 0 0 1 0 1 0 0 0 1 0 0 0 1 0 0 0 1 0 1 0 0 0 1 0 0 0 1 0 1 0 0 0 1 0 0 0 1 0 1 0 0 0 1 0 0 0 1 0 1 0 0 0 1 0 0 0 1 0 0 0 1 0 1 0 0 0 1 0 0 0 1 0 1-1 0 0 1 0 0 0 1-1 1 0 0-1 1-1 0-1 1-2 1-2 0-4 1-7 0-10 1-15 1-20 0-23 1-26 0-21 1-13 0 2 1 15 1 24 0 25 1 23 0 18 1 14 1 9 0 7 1 3 0 3 1 1 1 1 0 1 1 1 0 0 1 1 1 0 0 1 1 0 0 0 1 0 0 1 1 0 1 0 0 0 1 0 0 0 1 0 1 1 0 0 1 0 0 0 1 0 1 0 0 0 1 0 0 0 1 0 1 0 0 0 1 0 0 0 1 1 1 0 0 0 1 0 0 0 1 0 0 0 1 0 1 0 0 0 1 0 0 0 1 0 1 0 0 0 1 0 0 0 1 0 1 0 0 0 1 0 0 0 1 1 1 0 0 0 1 0 0 0 1 0 1 0 0 0 1 0 0 0 1 0 0 0 1 0 1 0 0 0 1 0 0 0 1 0 1 0 0 0 1 0 0 0 1 0 1 0 0 0 1 0 0 0 1 0 1 0 0 0 1 1 0 0 1 0 0 0 1 0 1 0 0 0 1 0 0 0 1 0 1 0 0 0 1 0 0 0 1 0 1 0 0 0 1 0 0 0 1 0 1 0 0 0 1 0 0 0 1 0 1 0 0 0 1 0 0 0 1 0 0 0 1 0 1 1 0 0 1 0 0 0 1 0 1 0 0 0 1 0 0 0 1 0 1 0 0 0 1 0 0 0 1 0 1 0 0 0 1 0 0 0 1 0 1 0 0 0 1 0 0 0 1 0 0 0 1 0 1 0 0 0 1 0 0 0 1 0 1 0 0 0 1 0 0 0 1 0 1 0 0 0 1 0 0 0 1 1 1 0 0 0 1 0 0 0 1 0 0 0 1 0 1 0 0 0 1 0 0 0 1 0 1 0 0 0 1 0 0 0 1 0 1 0 0 0 1 0 0 0 1 0 1 0 0 0 1 0 0 0 1 0 1 0 0 0 1 0 0 0 1 0 0 0 1 0 1 0 0 0 1 0 0 0 1 0 1 0 0 0 1 0 0 0 1 1 1 0 0 0 1 0 0 0 1 0 1 0 0 0 1 0 0 0 1 0 1 0 0 0 1 0 0 0 1 0 0 0 1 0 1 0 0 0 1 0 0 0 1 0 1 0 0 0 1 0 0 0 1 0 1 0 0 0 1 0 0 0 1 0 1 0 0 0 1 0 0 0 1 0 0 0 1 0 1 0 0 0 1 0 0 0 1 0 1 0 0 0 1 0 0 0 1 0 1 0 0 0 1 0 0 0 1 0 1 0 0 0 1 0 0 0 1 0 1 0 0 0 1 0 0 0 1 0 0 0 1 0 1 0 0 0 1 0 0 0 1 0 1 0 0 0 1 0 0 0 1 0 1 0 0 0 1 0 0 0 1 0 1 0 0 0 1 0 0 0 1 0 1 0 0 0 1 0 0 0 1 0 0 0 1 0 1 0 0 0 1 0 0 0 1 0 1 0 0 0 1 0 0 0 1 0 1 0 0 0 1 0 0 0 1 0 1 0 0 0 1 0 0 0 1 0 0 0 1-1 1 0 0 0 1 0 0 0 1 0 1 0 0 0 1 0 0-1 1 0 1 0 0 0 1-1 0 0 1 0 1 0 0-1 1 0 0-1 1 0 1-1 0 0 1-1 0-1 1-1 0-1 1-2 1-1 0-2 1-2 0-3 1-4 1-5 0-8 1-12 0-19 1-30 1-46 0-67 1-88 0-106 1-112 1-98 0-56 1 8 0 69 1 105 1 112 0 102 1 83 0 61 1 42 0 27 1 17 1 11 0 7 1 4 0 4 1 3 1 2 0 2 1 1 0 2 1 1 1 1 0 1 1 0 0 1 1 1 1 0 0 1 1 0 0 0 1 1 0 0 1 0 1 1 0 0 1 0 0 0 1 1 1 0 0 0 1 0 0 0 1 0 1 1 0 0 1 0 0 0 1 0 1 0 0 0 1 0 0 0 1 0 1 0 0 1 1 0 0 0 1 0 0 0 1 0 1 0 0 0 1 0 0 0 1 0 1 0 0 0 1 0 0 0 1 0 1 0 0 0 1 0 0 0 1 0 1 0 0 1 1 0 0 0 1 0 1 0 0 0 1 0 0 0 1 0 0 0 1 0 1 0 0 0 1 0 0 0 1 0 1 0 0 0 1 0 0 0 1 0 1 0 0 0 1 0 0 0 1 0 1 0 0 0 1 0 0 0 1 0 0 0 1 0 1 0 0 0 1 0 0 0 1 0 1 0 0 0 1 0 0 0 1 0 1 0 0 0 1 1 0 0 1 0 1 0 0 0 1 0 0 0 1 0 1 0 0 0 1 0 0 0 1 0 0 0 1 0 1 0 0 0 1 0 0 0 1 0 1 0 0 0 1 0 0 0 1 0 1 0 0 0 1 0 0 0 1 0 1 0 0 0 1 0 0 0 1 0 1 0 0 0 1 0 0 0 1 0 0 0 1 0 1 0 0 0 1 0 0 0 1 0 1 0 0 0 1 0 0 0 1 0 1 0 0 0 1 0 0 0 1 0 1 0 0 0 1 0 0 0 1 0 0 0 1 0 1 0 0 0 1 0 0 0 1 0 1 0 0 0 1 0 0 0 1 0 1 0 0 0 1 0 0 0 1 0 1 0 0 0 1 0 0 0 1 0 1 0 0 0 1 0 0 0 1 0 0 0 1 0 1 0 0 0 1 0 0 0 1 1 1 0 0 0 1 0 0 0 1 0 1 0 0 0 1 0 0 0 1 0 1 0 0 0 1 0 0 0 1 0 0 0 1 0 1 0 0 0 1 0 0 0 1 0 1 0 0 0 1 0 0 0 1-1 1 0 0 0 1 0 0 0 1 0 1 0 0 0 1 0 0 0 1 0 1 0 0 0 1 0 0 0 1 0 0 0 1 0 1 0 0 0 1 0 0 0 1 0 1 0 0 0 1 0 0 0 1 0 1-1 0 0 1 0 0 0 1 0 1 0 0-1 1 0 0 0 1-1 1 0 0-1 1-1 0-1 1-1 0-2 1-3 1-5 0-8 1-12 0-17 1-23 1-27 0-30 1-25 0-15 1 2 1 18 0 28 1 29 0 26 1 22 1 16 0 11 1 7 0 4 1 3 0 2 1 1 1 1 0 0 1 1 0 1 1 0 1 0 0 1 1 0 0 0 1 0 1 0 0 1 1 0 0 0 1 0 1 0 0 0 1 0 0 0 1 0 1 1 0 0 1 0 0 0 1 0 0 0 1 0 1 0 0 0 1 0 0 0 1 0 1 0 0 0 1 0 0 0 1 0 1 0 0 0 1 0 0 0 1 0 1 0 0 0 1 0 0 0 1 0 1 0 0 0 1 0 0 0 1 0 0 0 1 0 1 0 0 0 1 0 0 0 1 1 1 0 0 0 1 0 0 0 1 0 1 0 0 0 1 0 0 0 1 0 1 0 0 0 1 0 0 0 1 0 0 0 1 0 1 0 0 0 1 0 0 0 1 0 1 0 0 0 1 0 0 0 1 0 1 0 0 0 1 0 0 0 1 0 1 0 0 0 1 0 0 0 1 0 1 0 0 0 1 0 0 0 1 0 0 0 1 0 1 0 0 0 1 0 0 0 1 0 1 0 0 0 1 0 0 0 1 0 1 0 0 0 1 0 0 0 1 0 1 0 0 0 1 0 0 0 1 0 1 0 0 0 1 0 0 0 1 0 0 0 1 0 1 0 0 0 1 0 0 0 1 0 1 0 0 0 1 0 0 0 1 0 1 0 0 0 1 0 0 0 1 0 1 0 0 0 1 0 0 0 1 0 0 0 1 0 1 0 0 0 1 0 0 0 1 0 1 0 0 0 1 0 0 0 1 0 1 0 0 0 1 0 0 0 1 0 1 0 0 0 1 0 0 0 1 0 1 0 0 0 1 0 0 0 1 0 0 0 1 0 1 0 0 0 1 0 0 0 1 0 1 0 0 0 1 0 0 0 1 0 1 0 0 0 1 0 0 0 1 0 1 0 0 0 1 0 0 0 1-1 1 0 0 0 1 0 0 0 1 0 0 0 1 0 1 0 0 0 1 0 0 0 1-1 1 0 0 0 1 0 0 0 1-1 1 0 0 0 1-1 0 0 1-1 1-1 0-1 1-1 0-2 1-4 0-5 1-8 1-13 0-19 1-25 0-29 1-32 1-27 0-16 1 3 0 19 1 29 1 32 0 28 1 23 0 17 1 12 1 8 0 4 1 3 0 2 1 2 1 1 0 0 1 1 0 0 1 1 0 0 1 1 1 0 0 0 1 0 0 1 1 0 1 0 0 0 1 0 0 0 1 0 1 0 0 0 1 1 0 0 1 0 1 0 0 0 1 0 0 0 1 0 1 0 0 0 1 0 0 0 1 0 0 0 1 0 1 0 0 0 1 0 0 0 1 0 1 0 0 0 1 0 0 0 1 0 1 0 0 0 1 0 0 0 1 0 1 0 0 0 1 0 0 0 1 0 0 1 1 0 1 0 0 0 1 0 0 0 1 0 1 0 0 0 1 0 0 0 1 0 1 0 0 0 1 0 0 0 1 0 1 0 0 0 1 0 0 0 1 0 1 0 0 0 1 0 0 0 1 0 0 0 1 0 1 0 0 0 1 0 0 0 1 0 1 0 0 0 1 0 0 0 1 0 1 0 0 0 1 0 0 0 1 0 1 0 0 0 1 0 0 0 1 0 1 0 0 0 1 0 0 0 1 0 0 0 1 0 1 0 0 0 1 0 0 0 1 0 1 0 0 0 1 0 0 0 1 0 1 0 0 0 1 0 0 0 1 0 1 0 0 0 1 0 0 0 1 0 0 0 1 0 1 0 0 0 1 0 0 0 1 0 1 0 0 0 1 0 0 0 1 0 1 0 0 0 1 0 0 0 1 0 1 0 0 0 1 0 0 0 1 0 1 0 0 0 1 0 0 0 1 0 0 0 1 0 1 0 0 0 1 0 0 0 1 0 1 0 0 0 1 0 0 0 1 0 1 0 0 0 1 0 0 0 1 0 1 0 0 0 1 0 0 0 1 0 1 0 0 0 1 0 0 0 1-1 0 0 1-1 1-2 0-2 1-3 0-4 1-5 1-5 0-6 1-5 0-5 1-3 1-2 0 0 1 3 0 3 1 5 1 6 0 5 1 5 0 5 1 4 0 2 1 3 1 1 0 1 1 0 0 1 1 0 1 0 0 0 1 0 0 0 1 0 1 0 0-1 1 0 0-1 1-2 1-2 0-3 1-4 0-5 1-5 1-6 0-5 1-5 0-3 1-2 0 0 1 3 1 3 0 5 1 6 0 5 1 5 1 5 0 4 1 3 0 2 1 1 1 1 0 1 1 0 0 0 1 0 1 0 0 0 1 0 0 0 1 0 0 0 1 0 1 0 0 0 1 0 0 0 1 0 1 0 0 0 1 0 0 0 1 0 1 0 0 0 1 0 0 0 1 0 1 0 0 0 1 0 0 0 1 0 1 0 0 0 1 0 0 0 1 0 0 0 1 0 1 0 0 0 1 0 0 0 1 0 1 0 0 0 1 0 0 0 1 0 1 0 0 0 1 0 0 0 1 0 1 0 0 0 1 0 0 0 1 0 1 0 0 0 1 0 0 0 1 0 0 0 1 0 1 0 0 0 1 0 0 0 1 0 1 0 0 0 1 0 0 0 1 0 1 0 0 0 1 0 0 0 1 0 1 0 0 0 1 0 0 0 1 0 0 0 1 0 1 0 0 0 1 0 0 0 1 0 1 0 0 0 1 0 0 0 1 0 1 0 0 0 1 0 0 0 1 0 1 0 0 0 1 0 0 0 1 0 1 0 0 0 1 0 0 0 1 0 0 0 1 0 1 0 0 0 1 0 0 0 1 0 1 0 0 0 1 0 0 0 1 0 1 0 0 0 1 0 0 0 1 0 1 0 0 0 1 0 0 0 1 0 1 0 0 0 1 0 0 0 1 0 0 0 1 0 1 0 0 0 1 0 0 0 1 0 1 0 0 0 1-1 0 0 1 0 1 0 0 0 1 0 0 0 1 0 1 0 0 0 1-1 0 0 1 0 0 0 1-1 1 0 0 0 1-1 0 0 1-1 1-1 0-1 1-2 0-3 1-5 1-8 0-11 1-17 0-22 1-26 1-28 0-25 1-14 0 2 1 18 1 26 0 28 1 25 0 21 1 15 0 11 1 6 1 5 0 2 1 2 0 1 1 1 1 1 0 0 1 1 0 0 1 1 1 0 0 0 1 0 0 0 1 1 1 0 0 0 1 0 0 0 1 0 1 0 0 0 1 0 0 1 1 0 0 0 1 0 1 0 0 0 1 0 0 0 1 0 1 0 0 0 1 0 0 0 1 0 1 0 0 0 1 0 0 0 1 0 1 0 0 0 1 0 0 0 1 0 0 0 1 0 1 0 0 0 1 0 0 0 1 0 1 0 0 0 1 0 0 0 1 0 1 0 0 0 1 0 0 0 1 0 1 0 0 0 1 0 0 0 1 0 1 0 0 0 1 0 0 0 1 0 0 0 1 0 1 0 0 0 1 0 0 0 1 0 1 0 0 0 1 0 0 0 1 0 1 0 0 1 1 0 0 0 1 0 1 0 0 0 1 0 0 0 1 0 1 0 0 0 1 0 0 0 1 0 0 0 1 0 1 0 0 0 1 0 0 0 1 0 1 0 0 0 1 0 0 0 1 0 1 0 0 0 1 0 0 0 1 0 1 0 0 0 1 0 0 0 1 0 0 0 1 0 1 0 0 0 1 0 0 0 1 0 1 0 0 0 1 0 0 0 1 0 1 0 0 0 1 0 0 0 1 0 1 0 0 0 1 0 0 0 1 0 1 0 0 0 1 0 0 0 1 0 0 0 1 0 1 0 0 0 1 0 0 0 1 0 1 0 0 0 1 0 0 0 1 0 1 0 0 0 1 0 0 0 1 0 1 0 0 0 1 0 0 0 1 0 1 0 0 0 1 0 0 0 1 0 0 0 1 0 1 0 0 0 1 0 0 0 1 0 1 0 0 0 1 0 0 0 1 0 1 0 0 0 1 0 0 0 1 0 1 0 0 0 1 0 0 0 1 0 0 0 1 0 1 0 0 0 1 0 0 0 1 0 1 0 0 0 1 0 0 0 1 0 1 0 0 0 1 0 0 0 1 0 1 0 0 0 1 0 0 0 1 0 1 0 0 0 1 0 0 0 1 0 0 0 1 0 1 0 0 0 1 0 0 0 1 0 1 0 0 0 1 0 0 0 1 0 1 0 0 0 1 0 0 0 1 0 1 0 0 0 1 0 0 0 1 0 1 0 0 0 1 0 0 0 1 0 0 0 1 0 1 0 0 0 1 0 0 0 1 0 1 0 0 0 1 0 0 0 1 0 1 0 0 0 1 0 0 0 1 0 1 0 0 0 1 0 0 0 1 0 0 0 1 0 1 0 0 0 1 0 0 0 1 0 1 0 0 0 1 0 0 0 1 0 1 0 0 0 1 0 0 0 1 0 1 0 0 0 1 0 0 0 1 0 1 0 0 0 1 0 0 0 1 0 0 0 1 0 1 0 0 0 1 0 0 0 1 0 1 0 0 0 1 0 0 0 1 0 1 0 0 0 1 0 0 0 1 0 1 0 0 0 1 0 0 0 1 0 1 0 0 0 1 0 0 0 1 0 0 0 1 0 1 0 0 0 1-1 0 0 1 0 1 0 0 0 1 0 0 0 1 0 1 0 0 0 1 0 0 0 1 0 1 0 0 0 1 0 0 0 1 0 0 0 1 0 1 0 0 0 1 0 0 0 1 0 1-1 0 0 1 0 0 0 1 0 1-1 0 0 1 0 0-1 1-1 1-1 0-1 1-3 0-4 1-7 1-9 0-13 1-15 0-16 1-13 0-8 1 1 1 10 0 14 1 16 0 15 1 11 1 9 0 6 1 4 0 2 1 2 1 1 0 0 1 1 0 0 1 0 1 1 0 0 1 0 0 0 1 0 1 1 0 0 1 0 0 0 1 0 0 0 1 0 1 0 0 0 1 0 0 0 1 0 1 0 0 0 1 0 0 0 1 0 1 0 0 0 1 0 0 0 1 0 1 1 0 0 1 0 0 0 1 0 0 0 1 0 1 0 0 0 1 0 0 0 1 0 1 0 0 0 1 0 0 0 1 0 1 0 0 0 1 0 0 0 1 0 1 0 0 0 1 0 0 0 1 0 1 0 0 0 1 0 0 0 1 0 0 0 1 0 1 0 0 0 1 0 0 0 1 0 1 0 0 0 1 0 0 0 1 0 1 0 0 0 1 0 0 0 1 0 1 0 0 0 1 0 0 0 1 0 0 0 1 0 1 0 0 0 1 0 0 0 1 0 1 0 0 0 1 0 0 0 1 0 1 0 0 0 1 0 0 0 1 0 1 0 0 0 1 0 0 0 1 0 1 0 0 0 1 0 0 0 1 0 0 0 1 0 1 0 0 0 1 0 0 0 1 0 1 0 0 0 1 0 0 0 1 0 1 0 0 0 1 0 0 0 1 0 1 0 0 0 1 0 0 0 1 0 1 0 0 0 1 0 0 0 1 0 0 0 1 0 1 0 0 0 1 0 0 0 1 0 1 0 0 0 1 0 0 0 1 0 1 0 0 0 1 0 0 0 1 0 1 0 0 0 1-1 0 0 1-1 0-1 1-2 1-3 0-3 1-4 0-4 1-5 1-4 0-4 1-3 0-1 1 0 1 2 0 3 1 4 0 5 1 4 1 4 0 4 1 3 0 2 1 2 1 1 0 1 1 0 0 1 1 0 0 0 1 0 1 0 0 0 1 0 0 0 1 0 1 0 0 0 1 0 0 0 1 0 1 0 0 0 1 0 0 0 1 0 1 0 0 0 1 0 0 0 1 0 1 0 0 0 1 0 0 0 1 0 0 0 1 0 1 0 0 0 1 0 0 0 1 0 1 0 0 0 1 0 0 0 1 0 1 0 0 0 1 0 0 0 1 0 1 0 0 0 1 0 0 0 1 0 0 0 1 0 1 0 0 0 1 0 0 0 1 0 1 0 0 0 1 0 0 0 1 0 1 0 0 0 1 0 0 0 1 0 1 0 0 0 1 0 0 0 1 0 1 0 0 0 1 0 0 0 1 0 0 0 1 0 1 0 0 0 1 0 0 0 1 0 1 0 0 0 1 0 0 0 1 0 1 0 0 0 1 0 0 0 1 0 1 0 0 0 1 0 0 0 1 0 1 0 0 0 1 0 0 0 1 0 0 0 1 0 1 0 0 0 1 0 0 0 1 0 1 0 0 0 1 0 0 0 1 0 1 0 0 0 1 0 0 0 1 0 1 0 0 0 1 0 0 0 1 0 0 0 1 0 1 0 0 0 1 0 0 0 1 0 1-1 0 0 1-1 0-1 1-2 1-3 0-3 1-4 0-4 1-5 1-5 0-4 1-2 0-2 1 0 1 2 0 3 1 4 0 5 1 5 0 4 1 4 1 3 0 2 1 2 0 1 1 1 1 0 0 1 1 0 0 0 1 0 1 0 0 0 1 0 0 0 1-1 1 0 0-1 1-1 0-2 1-3 1-3 0-4 1-4 0-5 1-5 0-4 1-2 1-2 0 1 1 1 0 3 1 4 1 5 0 5 1 4 0 4 1 3 1 2 0 2 1 1 0 1 1 0 1 1 0 0 1 0 0 0 1 0 0 0 1 0 1 0 0 0 1 0 0 0 1 0 1 0 0 0 1 0 0 0 1 0 1 0 0 0 1 0 0 0 1 0 1 0 0 0 1 0 0 0 1 0 1 0 0 0 1 0 0 0 1 0 0 0 1 0 1 0 0 0 1 0 0 0 1 0 1 0 0 0 1 0 0 0 1 0 1 0 0 0 1 0 0 0 1 0 1 0 0 0 1 0 0 0 1 0 1 0 0 0 1 0 0 0 1 0 0 0 1 0 1 0 0 0 1 0 0 0 1 0 1 0 0 0 1 0 0 0 1 0 1 0 0 0 1 0 0 0 1 0 1 0 0 0 1 0 0 0 1 0 0 0 1 0 1 0 0 0 1 0 0 0 1 0 1 0 0 0 1 0 0 0 1 0 1 0 0 0 1 0 0 0 1 0 1 0 0 0 1 0 0 0 1 0 1 0 0 0 1 0 0 0 1 0 0 0 1 0 1 0 0 0 1 0 0 0 1 0 1 0 0 0 1 0 0 0 1 0 1 0 0 0 1 0 0 0 1 0 1 0 0-1 1 0 0-1 1-1 1-2 0-3 1-3 0-4 1-4 0-5 1-4 1-4 0-3 1-1 0 0 1 2 1 3 0 4 1 5 0 4 1 4 1 4 0 3 1 2 0 2 1 1 1 1 0 0 1 1 0 0 1 0 0 0 1 0 1 0 0 0 1 0 0 0 1 0 1 0 0 0 1 0 0 0 1 0 1 0 0 0 1 0" fill="none" stroke="#d07814" stroke-width="9"/>
<path transform="scale(.1)" d="M4014,978l12 1 12 1 12 1 11 0 12 1 12 1 12 0 12 1 12 1 11 0 12 1 12 0 12 1 12 0 12 0 11 1 12 0 12 1 12 0 12 0 12 1 12 0 11 0 12 1 12 0 12 0 12 0 12 1 11 0 12 0 12 0 12 0 12 1 12 0 11 0 12 0 12 0 12 0 12 0 12 1 12 0 11 0 12 0 12 0 12 0 12 0 12 0 11 0 12 0 12 1 12 0 12 0 12 0 11 0 12 0 12 0 12 0 12 0 12 0 11 0 12 0 12 0 12 0 12 0 12 0 12 0 11 0 12 0 12 0 12 0 12 0 12 1 11 0 12 0 12 0 12 0 12 0 12 0 11 0 12 0 12 0 12 0 12 0 12 0 12 0 11 0 12 0 12 0 12 0 12 0 12 0 11 0 12 0 12 0 12 0 12 0 12 0 11 0 12 0 12 0 12 0 12 0 12 0 12 0 11 0 12 0 12 0 12 0 12 0 12 0 11 0 12 0 12 0 12 0 12 0 12 0 11 0 12 0 12 0 12 0" fill="none" stroke="#2a6a8a" stroke-width="7"/>
<line x1="406.61" y1="107.6" x2="406.61" y2="111.1" stroke="#cf8af5" stroke-width="1.15"/>
<line x1="428.64" y1="107.6" x2="428.64" y2="111.1" stroke="#cf8af5" stroke-width="1.15"/>
<line x1="446.16" y1="107.6" x2="446.16" y2="111.1" stroke="#cf8af5" stroke-width="1.15"/>
<line x1="460.61" y1="107.6" x2="460.61" y2="111.1" stroke="#cf8af5" stroke-width="1.15"/>
<line x1="461.56" y1="107.6" x2="461.56" y2="111.1" stroke="#cf8af5" stroke-width="1.15"/>
<line x1="474.34" y1="107.6" x2="474.34" y2="111.1" stroke="#cf8af5" stroke-width="1.15"/>
<line x1="486.9" y1="107.6" x2="486.9" y2="111.1" stroke="#cf8af5" stroke-width="1.15"/>
<line x1="509.87" y1="107.6" x2="509.87" y2="111.1" stroke="#cf8af5" stroke-width="1.15"/>
<line x1="520.76" y1="107.6" x2="520.76" y2="111.1" stroke="#cf8af5" stroke-width="1.15"/>
<line x1="530.71" y1="107.6" x2="530.71" y2="111.1" stroke="#cf8af5" stroke-width="1.15"/>
<line x1="531.9" y1="107.6" x2="531.9" y2="111.1" stroke="#cf8af5" stroke-width="1.15"/>
<line x1="541.61" y1="107.6" x2="541.61" y2="111.1" stroke="#cf8af5" stroke-width="1.15"/>
<path transform="scale(.1)" d="M4014,1193l2 1 2 0 2-2 2 3 1 0 2-2 2 1 2 0 2 0 2 0 2 0 2 0 2 0 2 0 1-1 2 2 2-2 2 0 2 2 2-1 2 0 2 1 0-1 1 2 0-2 1-1 0 1 1-1 0 1 0 1 1 1 0-1 1-1 0 0 1 0 0-2 1 3 0 0 1-6 0-8 1-16 0-17 1-9 0 9 1 20 0 15 1 12 0 1 0 0 1-3 0 2 1-2 0 3 1-3 0 1 1 1 0-2 1 0 0 0 1 1 0 0 1 1 0-2 1 0 0 1 1 0 0 0 0 1 1-1 0-1 2 1 2-1 2 0 2 2 2 0 2 0 2-1 2 0 1-1 2 1 2 1 2 0 2-2 2 1 2 1 2-1 2 1 2-1 1 0 2 0 2-1 2 0 2 1 2 0 2 0 2 0 2 1 1-1 2 0 2 0 2 1 2-1 2 0 2 2 2-2 2-1 2 0 1 1 2-1 2 0 2 1 2-1 2 2 2-1 2 0 2 1 1-2 2 0 2 2 2-1 2 0 2 1 2-1 2 1 2-1 2 1 1-1 2 0 2 1 2-1 2 1 2-2 2 1 2-2 2 2 1 1 2-1 2 0 2 0 2 1 2-1 2 0 2 1 2-2 2 2 1-1 2 1 2-1 2 0 2 0 2-1 2 1 2 0 2-1 1 1 2 0 2 1 2-1 2 0 2 0 2 1 2-2 2 0 2 2 1-2 2 0 2 2 2-1 2-1 2 2 2-2 2 2 2-1 1 0 1 0 0 2 1-3 0 1 1 2 0-4 1 2 0 0 1 0 0 0 1 1 0-2 1 0 0 2 1 0 0-3 1 2 0-3 0-9 1-14 0-15 1-3 0 14 1 31 0 28 1 16 0-6 1-13 0-14 1-8 0-3 1 1 0-1 1-1 0 1 1-1 0 0 0 1 1-1 0 0 1 0 0 0 1 0 0 1 1 1 0-2 1-1 0 1 1-1 2 0 1 0 2 2 2-1 2 1 2-1 2 1 2-1 2 1 2 0 2-1 1-1 2 0 2 1 2-1 2 1 2 0 2 1 2-2 2 1 1 0 2-1 2 1 2 1 2-2 2 2 2 1 2-2 2 0 2-1 1 1 2 0 2 0 2 1 2-2 2 1 2 0 2 0 2 0 1 0 2 0 2-1 2 3 2-1 2-2 2 0 2 0 2 1 2-1 1 3 2-2 2-1 2 3 2-2 2 0 2 0 2 0 2 2 1-4 2 2 2-1 2 1 2 0 2-1 2 1 2 0 2 0 2 0 1 1 2-1 2 1 2 0 2-1 2-1 2 1 2-1 2 3 1-2 2-1 2 0 1 2 0-2 1 1 0 0 1 0 0 0 1 0 0 1 1-2 0 1 0 0 1-1 0 0 1 0 0 1 1 0 0 1 1-1 0 0 1-1 0-1 1-1 0 2 1 4 0 11 1 11 0 3 1-3 0-11 0-7 1-6 0 0 1-1 0 1 1 0 0-2 1 2 0 0 1 1 0-2 1 0 0 0 1 1 0-1 1 1 0-1 1 0 0 0 0 0 1 2 2-4 2 1 2 1 2 1 1-1 2 0 2-1 2 1 2 0 2 1 2 0 2-1 2-1 1 0 2 1 2 0 2 1 2 0 2-1 2 0 2 0 2-1 2 1 1-1 2 0 2 0 2 2 2-2 2 2 2-2 2 1 2 0 1 0 2-1 2 1 2 1 2 0 2-1 2 0 2 1 2 0 2-1 1-1 2 0 2 1 2 0 2 0 2 0 2 2 2-3 2 2 1-2 2 0 2 0 2 0 2 0 2 0 2 1 2 1 2-2 2 1 1 0 2 0 2-2 2 2 1 1 0 0 1-1 0 1 0-1 1-1 0 1 1 1 0-1 1 0 0 0 1 1 0-2 1 1 0-1 1 1 0 0 1-1 0-9 1-23 0-36 1-45 0-22 0 22 1 45 0 40 1 23 0 9 1-1 0-2 1 1 0-1 1 0 0 0 1-1 0 1 1 0 0 1 1 1 0-2 1 0 0-1 0 1 1 1 0 0 1-1 0 1 1 0 0 0 1-1 2 1 2-1 1 1 2-1 2 0 2-1 2 2 2-1 2 0 2 0 2 0 2 1 1-3 2 3 2-2 2 2 2 0 2-1 2 0 2 0 2 0 1 1 2-2 2 1 2 0 2-1 2 2 2-2 2 2 2 0 2 1 1-2 2 0 2 0 2 1 2-2 2 1 2-2 2 2 2 0 1 2 2-3 2 2 2-1 2 1 2-2 2-2 2 3 2 1 2-1 1 1 2 1 2-3 2 1 2 1 2-2 2-1 2 2 2 0 1 1 2 0 2-1 2 0 2-1 2 1 2 0 2 0 2 0 1-2 2 2 2 0 2 2 2-2 2 1 2-2 2 0 2 2 2-1 1-1 2 2 2-1 2-1 2 1 2 2 2-2 2-1 2 0 1 2 2 0 2 0 2-2 2 2 2-2 2 1 2 0 2 1 2-1 1 0 2 0 2 0 2 1 2-1 2 0 2 0 2 0 2 1 1-1 2 1 2 1 2-2 2 2 2-3 2 0 2-1 2 1 2 0 1 2 2 0 2 1 2-2 2 1 2-1 2-1 2-2 2 3 0-2 1 3 0-2 0 2 1-2 0 1 1-1 0 1 1 1 0-1 1-1 0 0 1 1 0 1 1-2 0 0 1 0 0 2 1-2 0-3 1-5 0-2 0-2 1 8 0 17 1 16 0 7 1-4 0-12 1-9 0-8 1-3 0 2 1 0 0 0 1-1 0-1 1 2 0-1 1-1 0 0 0 0 1 1 0-1 1 1 0 0 1 1 0 0 1-2 0 1 2 1 2-2 2 2 2-1 2 1 2-1 2 1 1-1 2 0 2 1 2-1 2 0 2-2 2 1 2 2 2-2 1-1 2 1 2 1 2 1 2-1 2-1 2 1 2-1 2 2 2-1 1-1 2 1 2 0 2 0 2 1 2-1 2 0 2 0 2-1 1 1 2 0 2 0 2 0 2 0 2-1 2 1 2 2 2-1 2-1 1 0 2 1 2-2 2 2 2-1 2 2 2-3 2 2 2-1 1 1 2 0 2-1 2-1 2 2 2-1 2-1 2 1 2 0 2 0 1-1 2 1 2 1 2-2 2 2 2-2 2 1 2 0 2-1 1 1 2-1 2 2 2-1 2 1 2-2 2-1 2 2 2 1 2-1 1 1 2-1 2 0 2 1 2-1 2 0 2 1 2-1 2 0 1-1 2 2 2-4 2 4 2-1 2-1 2 1 2 0 2 2 2-2 1-2 2 1 2 2 2-1 2 0 2 0 2 1 0-1 1 0 0 0 1 1 0-2 1 1 0 0 1 1 0 0 1-1 0 2 0-1 1-2 0 0 1 0 0 2 1-2 0 1 1-3 0-6 1-5 0-1 1 4 0 7 1 8 0 3 1 1 0-4 1-2 0-2 0 0 1-1 0 0 1 1 0 1 1-3 0 1 1 0 0 1 1 0 0 0 1 0 0-1 1 1 0-1 1 1 0 0 1 0 0 1 2-3 2 1 2 2 2-1 1 0 2 0 2 0 2 0 2 0 2 1 2 1 2-4 2 2 2-1 1 1 2-1 2 1 2 0 2 0 2 0 2 1 2-2 2 1 1 1 2 0 2 0 2-2 2 1 2 1 2-1 2 0 2 0 2 1 1-1 2-1 2 1 2 0 2 0 2 0 2 0 2 0 2-1 1 1 2 0 2-1 2 1 2 2 2-2 2 0 2-1 2 1 2 0 1 0 2-1 2 1 2-1 2 2 2-1 2 1 2-1 2-1 1 2 2-1 2 0 2 0 2-1 2 2 2-1 2-1 2 0 2 1 1 1 2-1 2 0 2 0 2 1 2-1 2-1 2 1 2-2 1 3 2 1 2-2 2 0 2 1 2-1 2 2 2-3 2 0 2 2 1 0 2 0 2-1 2 0 2 0 2 0 2 0 2 1 2 0 1-1 2-1 2 1 2 2 2-3 2 2 2-2 2 0 2 2 2-1 1 0 2 1 2 0 2-1 2 1 2-2 2 1 2 1 2-1 1-1 2 1 2 1 2-1 2 1 2-2 2 1 2-1 2 0 2 1 1 0 2 0 2-1 2 2 2-2 2 1 2-1 2 2 2-2 1 2 2-2 2 1 2 1 2-2 2 2 2-2 2 1 2 0 2 0 1 0 2 0 2 1 2-2 2 0 2 2 2-2 2 0 2 3 1-1 2-1 2 0 2 0 2-1 2 0 2 0 2 0 2 1 2 0 1-1 2 1 2-1 2 1 2 0" fill="none" stroke="#ff7f14" stroke-width="12"/>
</g>
<rect x="401.4" y="12.5" width="142.1" height="113.9" fill="none" stroke="#454545" stroke-width="0.9"/>
<line x1="401.4" y1="126.4" x2="401.4" y2="128.8" stroke="#454545" stroke-width="0.8"/>
<text x="401.4" y="135.3" font-size="6.7" font-weight="bold" text-anchor="middle" fill="#000">20</text>
<line x1="413.24" y1="126.4" x2="413.24" y2="127.8" stroke="#454545" stroke-width="0.8"/>
<line x1="425.08" y1="126.4" x2="425.08" y2="128.8" stroke="#454545" stroke-width="0.8"/>
<text x="425.08" y="135.3" font-size="6.7" font-weight="bold" text-anchor="middle" fill="#000">30</text>
<line x1="436.92" y1="126.4" x2="436.92" y2="127.8" stroke="#454545" stroke-width="0.8"/>
<line x1="448.77" y1="126.4" x2="448.77" y2="128.8" stroke="#454545" stroke-width="0.8"/>
<text x="448.77" y="135.3" font-size="6.7" font-weight="bold" text-anchor="middle" fill="#000">40</text>
<line x1="460.61" y1="126.4" x2="460.61" y2="127.8" stroke="#454545" stroke-width="0.8"/>
<line x1="472.45" y1="126.4" x2="472.45" y2="128.8" stroke="#454545" stroke-width="0.8"/>
<text x="472.45" y="135.3" font-size="6.7" font-weight="bold" text-anchor="middle" fill="#000">50</text>
<line x1="484.29" y1="126.4" x2="484.29" y2="127.8" stroke="#454545" stroke-width="0.8"/>
<line x1="496.13" y1="126.4" x2="496.13" y2="128.8" stroke="#454545" stroke-width="0.8"/>
<text x="496.13" y="135.3" font-size="6.7" font-weight="bold" text-anchor="middle" fill="#000">60</text>
<line x1="507.98" y1="126.4" x2="507.98" y2="127.8" stroke="#454545" stroke-width="0.8"/>
<line x1="519.82" y1="126.4" x2="519.82" y2="128.8" stroke="#454545" stroke-width="0.8"/>
<text x="519.82" y="135.3" font-size="6.7" font-weight="bold" text-anchor="middle" fill="#000">70</text>
<line x1="531.66" y1="126.4" x2="531.66" y2="127.8" stroke="#454545" stroke-width="0.8"/>
<line x1="543.5" y1="126.4" x2="543.5" y2="128.8" stroke="#454545" stroke-width="0.8"/>
<text x="543.5" y="135.3" font-size="6.7" font-weight="bold" text-anchor="middle" fill="#000">80</text>
<text x="472.75" y="148.7" font-size="9.9" font-weight="bold" text-anchor="middle" fill="#000">2 Theta (degree)</text>
<text x="401.8" y="17.7" font-size="6.1" font-weight="bold" text-anchor="start" fill="#000">BB0.5T</text>
<path d="M508.6,14.9l5.2,4.4m0,-4.4l-5.2,4.4" stroke="#30b4f0" stroke-width="0.9" fill="none"/>
<text x="519.2" y="19.1" font-size="6.7" font-weight="bold" text-anchor="start" fill="#000">y_obs</text>
<line x1="503.2" y1="25.1" x2="517.8" y2="25.1" stroke="#e0a858" stroke-width="1.2"/>
<text x="519.2" y="27.1" font-size="6.7" font-weight="bold" text-anchor="start" fill="#000">y_calc</text>
<line x1="503.2" y1="32.9" x2="517.8" y2="32.9" stroke="#9a9a9a" stroke-width="1.2"/>
<text x="519.2" y="34.9" font-size="6.7" font-weight="bold" text-anchor="start" fill="#000">y_bkg</text>
<line x1="503.2" y1="40.6" x2="517.8" y2="40.6" stroke="#ffb070" stroke-width="1.3"/>
<text x="519.2" y="42.6" font-size="6.7" font-weight="bold" text-anchor="start" fill="#000">Diff</text>
<line x1="511.2" y1="47.1" x2="511.2" y2="51.9" stroke="#c58cf0" stroke-width="0.8"/>
<text x="519.2" y="51.5" font-size="6.7" font-weight="bold">BaTiO<tspan font-size="4.4" dy="1.4">3</tspan></text>
<text x="503.7" y="60.9" font-size="6.8" font-weight="bold">R<tspan font-size="4.6" dy="1.5">wp</tspan><tspan dy="-1.5">=14.42 %</tspan></text>
<text x="503.7" y="70.9" font-size="6.9" font-weight="bold">X<tspan font-size="4.2" dy="-2.4">2</tspan><tspan dy="2.4">=1.26</tspan></text>
<text transform="translate(392 66) rotate(-90) scale(0.945 1)" font-size="10.2" font-weight="bold" text-anchor="middle">Intensity (a.u.)</text>
<text x="370.6" y="11.9" font-size="13" font-weight="normal" text-anchor="start" fill="#000">(c)</text>
<clipPath id="cd"><rect x="35.3" y="171.35" width="142.2" height="114.1"/></clipPath>
<g clip-path="url(#cd)">
<path transform="scale(.1)" d="M353,2610l1-2 0 2 1 1 1-3 0 0 1 1 0 4 1-4 0 2 1-1 1 1 0 0 1-1 0 4 1-2 1 2 0-6 1 4 0-1 1-1 1-2 0 0 1 2 0 1 1 0 1 0 0-2 1 2 0 0 1-1 1 4 0-3 1 1 0 0 1 0 0-2 1 1 1-2 0 5 1-2 0-2 1 0 1 2 0-3 1 5 0-9 1 4 1 0 0 5 1-2 0 2 1-6 1 2 0 0 1-1 0-1 1 0 1 3 0-2 1 4 0-5 1-1 0 3 1-1 1 2 0-5 1 2 0 3 1 1 1-5 0 1 1-2 0 0 1 1 1-3 0-2 1 0 0-4 1 0 1-9-2-5 5-15-7-19 8-17-7-29 4-21-1-17 3-2-5 13 6 15 5 24-4 27 4 17-2 13 2 17 0 7 1 0 0 5 1 2 0 2 1-1 1 1 0 1 1 0 0 1 1-4 1 6 0 1 1 0 0-2 1 2 1-3 0 2 1 1 0 1 1-2 0 2 1-5 1 2 0 0 1 2 0 0 1-3 1 4 0 2 1-3 0 1 1-2 1 0 0 2 1-3 0 1 1 0 1 3 0-4 1 4 0 1 1-6 0 4 1-5 1 2 0 3 1 0 0 2 1-6 1 4 0 2 1 0 0-3 1 1 1 1 0 1 1-3 0 2 1-6 1 6 0-3 1 0 0-1 1 4 1-2 0-1 1-1 0 3 1 1 0-2 1 0 1 0 0 2 1 1 0-2 1 2 1-1 0-2 1-1 0 2 1-1 1 1 0-1 1 0 0-2 1 1 1 2 0 1 1-2 0 2 1-2 1 0 0 0 1-1 0 7 1-7 0 3 1-1 1-3 0 4 1 0 0 0 1 0 1-1 0 0 1-2 0 6 1-4 1-2 0 2 1 2 0-6 1 2 1 7 0-3 1-1 0-2 1 4 1-4 0 3 1-4 0 5 1-5 0 3 1 2 1-1 0-4 1 2 0-2 1 4 1 3 0-5 1-1 0 0 1 2 1-4 0-1 1 1 0 6 1-1 1-3 0 2 1-1 0 4 1-3 1-1 0 0 1 1 0-3 1 2 0 6 1-6 1 2 0 2 1-6 0 2 1 1 1-4 0 3 1 0 0 1 1 0 1 0 0-1 1 3 0-3 1-3 1 5 0-3 1 3 0-3 1-2 1 1 0 5 1 1 0-7 1 1 0 1 1-1 1-1 0 2 1-1 0 4 1 0 1-5 0 4 1-1 0-2 1 2 1 2 0 1 1-1 0-2 1 4 1-5 0-2 1 5 0-1 1-3 1 4 0 1 1-3 0 0 1 2 0-2 1 1 1 1 0-2 1 2 0-3 1 0 1-1 0 4 1-2 0-3 1 5 1-2 0-1 1 0 0 5 1-2 1-1 0 4 1-5 0 0 1 5 1-6 0 1 1-7 0 4 1 2 0 0 1-3 1 7 0-3 1-2 0 8 1-5 1 2 0-2 1 3 0-1 1-1 1 2 0-5 1 4 0-3 1-5 1 11 0-8 1 4 0-6 1 1 1 2 0 3 1 2 0-1 1 1 0 0 1-1 1-3 0 2 1-1 0 3 1-9 1 7 0-3 1 1 0 5 1-6 1 2 0-1 1 2 0-5 1 5 1-1 0 0 1-2 0 1 1 5 1-7 0-3 1 11 0-8 1 4 0-5 1 2 1-3 0 2 1 2 0 1 1 2 1-3 0-1 1-2 0 3 1 3 1-2 0-2 1 3 0-4 1 2 1-2 0 2 1-1 0 2 1 0 1-1 0 2 1-3 0 0 1 1 0 4 1-3 1 0 0-7 1 8 0-1 1-5 1 2 0 0 1 2 0 0 1-1 1-3 0-1 1 3 0 0 1-4 1 5 0 0 1-5 0 2 1 0 1 2 0-4 1-2 0 2 1-1 0 1 1 4 1-9 0 6 1-7 0-3 1 4 1-3 0-5 8 1-2-1-1-2 3-11-9-8 2-9 5-22-5-25 8-46 0-57 1-100-2-105-3-126 4-113-1-75 3-29-2 40 3 126-1 103 1 130 0 100 1 74-2 61 5 34-3 23 1 11 5 10-4 5 5 5-10 8 9-1 0-1 1 2 0 5 1-3 1 3 0 4 1 4 0-6 1 5 1 2 0-3 1 4 0 1 1-5 0 1 1 2 1 0 0 0 1 2 0-2 1 3 1-5 0 1 1 5 0-2 1-1 1 0 0-2 1 3 0 1 1 0 1-2 0 1 1 0 0 4 1-7 1 7 0-6 1 5 0-2 1 2 0-6 1 10 1-9 0 2 1 0 0 0 1 2 1 2 0-7 1 4 0-3 1 3 1 2 0 3 1-7 0 4 1 0 1-4 0 0 1 4 0-1 1-2 0 3 1-2 1 0 0-3 1 8 0-4 1 3 1-10 0 4 1 2 0 0 1-1 1 1 0 0 1 5 0-9 1 7 1-1 0-2 1 7 0-9 1 8 1-9 0 4 1-2 0 2 1 1 0 0 1 1 1-2 0-2 1 6 0-6 1 2 1-2 0 4 1-2 0 0 1-2 1 1 0-1 1 3 0 1 1-3 1 5 0-6 1 3 0-1 1 2 1 1 0-3 1 2 0 0 1-4 0-1 1 4 1-2 0-2 1 6 0-2 1 1 1 0 0-1 1-1 0 2 1-5 1 8 0-3 1-3 0 4 1 0 1-1 0 1 1-1 0-2 1-2 1 2 0 2 1 0 0-4 1 4 0-1 1 2 1-5 0 3 1 5 0-5 1 0 1-1 0 2 1-2 0 3 1-2 1 1 0-1 1 0 0 4 1-2 1-3 0 1 1 3 0-4 1 1 1 1 0-4 1 1 0 1 1 5 0-2 1-1 1-3 0 4 1 0 0 0 1-4 1 3 0-2 1 4 0-4 1 2 1-4 0 3 1 1 0-1 1 1 1 0 0 2 1-5 0 4 1-1 1-2 0-2 1 5 0-4 1 1 0 3 1-4 1 0 0 7 1-3 0 0 1-1 1 2 0-4 1 0 0 1 1-1 1 4 0-2 1-2 0 0 1 2 1 1 0 1 1-4 0 1 1 0 1-1 0 3 1-4 0 4 1 0 0-3 1 2 1 1 0-3 1 2 0-4 1 4 1 0 0-2 1 1 0-3 1 1 1 1 0-3 1-1 0 2 1-2 1 4 0-2 1 3 0 1 1 0 1-5 0 4 1-4 0-1 1 4 0 1 1-2 1 0 0 1 1-1 0 0 1-3 1 2 0-2 1 1 0-2 1 4 1-3 0-4 1 3 0-2 1-3 1 1 0-9 5-3-7-15 7-11-6-22 2-31 4-42-5-44 5-53 3-29 1-7-3 21 6 43-6 38 2 44 1 43 0 23-1 20 3 14 4 7-3 4 1 8 0 1 1 5 0-4 1-1 1 6 0-2 1 2 0-4 1 0 1 4 0-1 1 2 0 2 1-3 0 2 1 1 1 0 0-3 1 5 0-5 1-3 1 8 0-2 1 3 0 0 1-1 1-2 0-1 1 2 0 0 1-3 1 0 0 1 1 0 0 1 1-1 1 2 0-2 1 8 0-7 1 1 0-1 1 3 1-11 0 10 1-3 0 2 1-1 1 0 0 4 1 1 0-5 1-1 1 4 0 0 1 1 0-3 1-1 1-1 0 0 1 1 0 0 1 3 1-5 0 8 1-2 0-2 1 3 0-5 1-2 1 5 0-1 1-1 0-1 1 2 1-6 0 7 1-3 0 2 1 0 1 1 0-5 1-3 0 10 1-2 1-1 0-4 1 6 0-1 1-5 1 5 0-2 1 0 0 6 1-8 0 3 1-3 1 4 0 1 1-3 0 5 1-4 1-1 0 0 1 0 0 3 1-4 1 2 0-3 1 3 0 3 1-4 1 0 0 2 1-1 0 4 1-5 1-1 0 1 1 1 0 3 1-4 0 1 1 2 1-1 0-2 1-4 0-1 1 5 1 0 0-1 1 3 0-5 1 4 1-3 0 1 1 1 0 0 1 2 1-4 0 5 1-8 0 1 1 5 1-1 0 5 1-4 0 0 1 0 0 2 1-1 1 1 0-7 1 4 0 0 1 2 1-6 0 3 1 6 0-7 1 4 1 2 0-2 1 0 0-1 1-6 1 7 0 0 1-5 0 0 1 6 0-3 1-3 1 4 0 0 1-1 0 3 1-1 1-2 0 1 1 0 0-2 1 1 1 3 0-3 1 0 0 0 1 4 1-7 0 1 1 1 0 0 1 0 1-2 0 0 1 3 0-3 1 7 0-5 1 3 1 0 0-1 1-3 0 1 1-2 1 3 0-4 1-3 0 7 1-3 1 4 0-3 1-3 0 5 1-3 1-1 0 3 1-1 0 1 1-5 1 5 0-2 1-6 0 4 1-1 0-4 1-1 1-4 0-9 0-9-4-21 8-22-8-25 5-28 6-36-6-24 0 4 11 10-12 27 9 33-4 30 4 23-1 19 4 12 1 12-3 5 1 2 1 1 0 4 1 4 0-3 1 4 0 1 1 2 1-4 0 0 1 8 0-7 1-2 1 4 0 0 1-2 0 5 1-5 1-3 0 5 1-1 0-3 1 8 1-6 0-1 1 3 0-5 1 7 1 1 0-6 1 6 0-4 1 2 0-4 1 1 1 2 0-1 1 5 0-3 1-3 1 3 0 1 1-4 0 5 1 2 1-4 0 2 1-7 0 10 1-6 1 0 0 1 1 2 0 1 1-6 1 5 0-3 1 2 0 0 1-6 0 7 1-7 1 3 0 1 1 0 0 2 1-2 1-5 0 7 1-4 0 4 1-3 1 0 0 2 1 3 0 0 1-5 1 2 0-2 1 1 0 3 1-4 1 4 0-1 1 2 0-3 1-2 0 1 1 2 1 0 0-1 1 1 0 4 1-3 1 1 0-5 1 4 0-3 1-1 1 1 0 0 1 1 0 0 1 2 1-3 0 2 1 3 0-5 1 0 1-1 0 4 1-5 0 0 1 2 0-1 1 0 1 0 0 3 1 1 0 0 1-3 1 4 0-4 1 0 0 1 1-2 1 0 0 0 1 1 0-1 1 2 1-2 0 4 1-1 0-3 1 4 1-1 0-1 1-1 0 1 1 0 0 1 1-4 1 1 0 2 1 0 0-2 1 3 1 0 0-1 1 5 0 1 1-4 1-2 0 0 1 2 0-4 1 0 1 5 0-4 1-2 0 0 1 3 1-4 0 5 1 1 0 0 1-1 0-2 1 4 1 0 0 0 1-6 0 3 1 1 1-2 0-1 1 0 0 4 1-2 1 3 0-3 1-2 0 3 1 0 1-3 0 6 1-3 0 0 1-5 1 0 0-5 1-1 0-1 1-3-2-5 2-4 0-11 3 3 1-8-4 6 13-6-9 6 1 2 4 4-3 9 1 6 1 3 0 2 1 2 0 0 1 1 1 1 0 6 1-5 0 0 1 5 1-2 0-2 1 2 0 3 1-4 0-1 1 1 1-8 0 8 1-3 0 2 1-8 1-1 0-6 2-8-3-1-2-7 10-1-13 0 13-3-2 0 0 8-3-1 7 6-2 6 0 3 1 5 1 4 0 0 1 1 0 1 1 5 0-5 1 6 1-7 0 5 1-1 0-3 1-1 1 1 0 4 1-1 0-2 1 2 1 3 0-2 1 0 0 1 1-6 1 5 0 1 1-4 0 0 1 1 1 3 0-3 1 3 0 2 1-5 0 0 1 3 1 0 0-1 1 1 0 2 1-8 1 6 0-4 1 3 0-2 1 3 1 1 0-1 1-2 0-2 1 2 1-3 0 6 1 0 0-4 1 2 1 0 0 3 1-2 0-2 1-2 0 1 1 0 1 3 0-2 1-5 0 9 1-5 1-3 0 3 1 0 0 4 1-4 1 1 0 1 1-2 0 0 1 4 1-4 0 3 1-2 0-2 1 5 0-1 1-3 1 1 0-5 1 1 0 4 1 0 1 0 0 0 1 1 0-4 1 4 1 3 0 1 1-3 0 2 1-2 1-2 0-2 1 0 0 2 1 1 1-2 0-1 1 1 0 3 1-1 0 0 1-2 1 4 0 1 1-4 0-2 1 1 1 0 0 2 1-2 0 1 1-2 1 4 0 3 1-7 0 0 1 4 1-2 0-5 1 2 0 4 1 4 1-4 0-4 1 5 0-4 1 0 0 1 1-1 1-1 0 3 1 0 0-1 1-2 1 0 0 2 1-1 0-2 1 0 1 5 0-7 1 4 0 2 1 0 1-3 0 3 1-3 0 2 1 2 1 1 0-3 1 1 0-4 1 1 0-1 1-2 1 3 0 3 1 0 0-2 1 1 1-7 0 2 1 2 0-5 1-4 1 4 0-4 1-6 0-3 4-8-1-13-3-16 4-28 0-35 1-38 0-36 9-22-7-1-6 14 8 30-4 29 1 45 3 27-3 17 9 22-5 11 1 7 1 4 0 1 1-3 0 9 1 1 1 0 0-1 1-1 0 7 1-3 1 2 0 1 1-3 0-2 1-1 1 2 0 3 1-2 0 1 1-3 0 4 1-4 1 4 0 3 1-2 0-1 1 4 1-3 0-2 1 4 0-2 1-1 1-1 0 6 1-3 0-2 1 2 1-5 0 8 1-4 0-4 1 3 1 0 0-2 1 4 0-2 1 4 0-6 1 5 1-4 0 2 1-2 0 3 1-2 1 5 0-1 1-5 0 4 1 1 1-3 0-2 1 6 0-3 1 0 1-1 0 3 1-4 0 1 1-2 1 0 0 1 1-2 0 4 1-6 0 4 1 2 1 2 0-5 1 3 0 0 1 1 1-3 0-2 1 3 0-3 1 2 1-1 0-4 1 7 0 0 1-2 1 2 0 1 1-1 0 3 1-6 1 2 0 0 1-3 0 6 1-4 0 2 1-2 1 2 0-3 1 0 0 0 1 1 1-3 0 5 1-6 0 9 1-4 1 1 0-2 1-1 0 1 1 2 1 1 0-4 1 1 0 3 1-5 1 4 0 1 1-1 0 3 1-3 0 1 1-2 1-5 0 4 1 5 0-2 1-1 1 0 0 1 1-2 0 1 1-7 1 6 0 1 1-1 0 3 1-4 1 1 0 3 1-1 0-5 1 1 1 1 0-2 1 5 0-2 1-1 0 1 1 1 1 0 0 0 1 0 0-1 1 2 1 0 0 2 1-4 0 2 1 1 1-3 0-1 1-2 0 7 1-5 1 2 0 0 1-1 0-1 1 5 1-5 0 0 1-2 0 4 1-4 0 4 1-2 1 3 0-4 1 3 0 1 1-6 1 2 0 0 1-1 0 6 1-4 1 0 0 3 1 1 0-3 1-3 1 2 0 4 1-5 0 2 1 2 1-7 0 7 1-3 0 0 1 3 0-2 1-4 1 5 0-4 1 3 0 3 1-3 1 2 0-3 1 3 0-4 1 0 1-1 0 2 1 0 0 2 1-4 1 3 0 1 1-1 0 1 1-2 1-2 0 5 1 0 0-6 1 5 0-3 1 2 1 0 0 2 1-2 0 0 1-2 1 4 0 0 1-1 0-2 1 0 1 6 0-2 1-6 0 4 1-3 1 3 0-1 1-1 0 1 1-4 1 4 0-1 1 2 0-3 1-1 0 0 1 2 1 2 0-2 1-4 0 3 1 1 1-2 0 4 1-2 0 3 1-2 1-1 0 0 1-5 0 8 1 0 1-2 0-3 1 1 0 2 1-2 0-1 1 5 1-6 0 4 1 4 0-6 1 2 1-1 0-1 1 1 0 1 1-3 1 2 0 3 1 0 0-3 1 0 1 2 0 1 1-2 0 0 1 2 1 2 0-4 1-2 0 2 1-1 0-1 1 1 1 2 0-1 1-2 0 4 1-1 1-2 0 1 1 0 0 2 1-1 1-2 0 3 1-6 0 3 1 3 1-4 0 1 1 0 0 3 1-3 1 1 0 1 1-1 0 3 1-5 0 4 1-2 1-2 0 1 1-1 0 4 1-6 1 3 0 2 1-2 0 0 1 5 1-6 0-1 1 5 0-5 1 5 1 1 0-5 1 5 0-4 1-2 1 0 0 1 1 0 0 1 1-4 0 5 1-3 1-2 0-6 1 1 0-6 4-5-5-11 9-11-2-15-1-9-2-11 1-4-1 7 3 8 0 19 1 7 1 16 0 7 1 7 0-2 1 11 1-2 0-2 1 5 0 1 1-4 0-2 1 2 1 1 0 0 1 5 0-4 1 0 1 1 0 2 1 1 0-5 1 2 1-1 0 5 1-7 0 3 1 5 1-4 0-2 1-1 0 5 1-3 1 1 0 1 1-4 0 7 1-4 0 0 1 4 1-1 0-6 1 5 0-3 1 2 1-2 0 0 1 0 0 0 1-2 1 2 0-4 1 4 0 3 1-1 1-1 0-1 1 0 0-2 1 2 1-3 0 4 1 1 0-1 1-2 0 7 1-10 1 6 0 2 1-4 0 0 1-1 1 4 0-1 1-1 0 3 1-3 1-5 0 1 1 3 0 2 1 1 1 2 0 0 1-4 0-2 1 0 1 0 0 4 1 0 0-3 1-2 0 5 1-3 1 4 0-3 1 1 0 1 1-1 1 1 0-1 1-3 0 2 1 0 1-1 0 2 1 1 0-2 1-3 1 3 0-3 1 2 0 1 1 0 1 2 0-6 1 7 0-2 1 1 0-1 1-3 1 5 0-5 1 0 0 1 1 1 1 0 0 2 1-1 0-3 1-4 1 6 0-1 1-4 0 5 1-2 1 0 0 4 1 0 0-8 1 5 1 1 0-1 1 0 0 5 1-3 0-1 1 0 1-4 0 5 1 0 0-2 1 0 1-1 0-2 1 7 0 0 1-1 1 0 0 0 1-1 0 2 1-1 1-1 0-6 1 4 0-1 1 3 1 0 0-10 1 5 0 2 1-4 0-1 1-8 1-2 0-4-6 1 10-2-1 1 1-2-3 1 4-2-1 5 1-3 1 9 0 6 1-1 0 1 1 4 1 2 0-5 1 5 0 2 1-2 1 0 0-1 1 3 0-3 1 6 0-4 1 0 1 2 0-3 1 2 0 1 1-4 1-3 0 3 1 0 0 5 1 1 1-2 0-3 1 0 0 0 1 0 1 2 0-2 1 3 0-3 1-1 1-2 0 3 1 0 0 1 1-1 0-2 1 6 1-3 0 2 1-1 0-1 1-4 1 6 0-4 1-2 0 10 1-11 1 6 0-3 1 3 0-1 1 1 1 2 0-3 1 2 0-2 1 0 1 1 0 0 1-2 0-1 1-1 0 5 1-3 1-4 0 5 1 2 0-4 1-3 1 1 0 4 1 0 0-1 1 0 1 2 0 5 1-8 0 5 1-6 1 3 0 0 1-2 0 4 1-1 1-4 0 3 1 0 0 0 1-2 0-2 1 3 1 1 0-3 1 4 0-5 1 8 1-5 0 1 1 0 0 0 1 0 1 3 0-4 1 2 0-6 1 4 1 2 0-6 1 3 0-2 1 4 0 1 1-3 1 1 0 1 1 1 0 4 1-8 1 3 0 3 1-6 0-1 1 2 1 3 0-2 1-2 0 2 1-2 1 3 0-1 1 1 0 2 1-1 1-2 0 1 1-2 0 1 1-6 0 2 1 1 1-5 0 5 1-8 0 0 1-10 3-5-5-5 2 2 3-6-4 0 3-1 4-4 3 8-8 6 9 2-1 3-2 11 1-5 0 7 1 2 1 2 0 3 1 1 0 5 1-2 0-2 1 1 1 1 0-5 1 2 0-2 1 5 1-3 0-1 1 0 0-2 1 2 1-7 0-3 1 1 0-5-5-12 12 5-1-10-1-3 0-5-2 2-2 2 6 6-4 5 2 3 3 3-1 5 1 7 1 0 0 6 1 0 0 2 1-1 1-1 0 7 1-4 0-2 1 1 1 0 0-1 1 3 0-4 1 1 1 1 0 3 1-3 0-2 1 2 1-2 0 3 1 3 0-2 1-2 0 1 1-1 1 0 0 4 1-8 0 3 1 1 1 1 0 0 1-4 0 5 1-5 1 8 0-7 1 3 0 0 1-2 1-3 0 7 1-2 0-2 1 3 1 2 0-4 1 0 0-1 1-2 0 0 1 8 1-3 0-2 1 0 0-8 1 7 1 0 0-4 1 8 0-4 1-1 1 0 0 2 1 0 0-2 1 2 1-1 0 5 1-5 0-2 1 4 1 0 0-1 1-1 0 5 1-1 0-3 1 1 1-1 0 2 1-5 0 4 1-3 1-2 0 3 1 0 0 0 1 3 1-5 0 3 1 2 0-4 1 2 1 1 0-2 1 2 0 0 1-4 1 4 0-5 1 3 0 0 1-3 0 5 1 3 1-5 0-1 1 1 0 2 1 2 1-3 0-1 1 0 0 2 1-1 1-1 0 0 1-3 0 6 1-2 1 4 0-4 1 1 0-1 1 3 1-4 0 0 1 3 0-2 1 1 0 0 1 0 1-9 0 3 1-7 0 2 1-3 1-2 1-9-5 1 2-11 1 1 8 3-6-5 2-1 3 4-4 4 5 7-1 0 1 6 0 7 1-1 1 1 0 1 1 11 0-8 1 4 0 3 1-5 1 2 0 1 1 2 0-6 1 9 1-5 0 1 1 1 0-3 1-5 1 7 0 0 1 2 0-3 1-1 1-3" fill="none" stroke="none" marker-start="url(#mx)" marker-mid="url(#mx)" marker-end="url(#mx)"/>
<path transform="scale(.1)" d="M353,2620l1 0 0 0 1 0 1 0 0 0 1 0 0 0 1 0 0 0 1 0 1 0 0 0 1 0 0 0 1 0 1 0 0 0 1 0 0 0 1 0 1 0 0 0 1 0 0 0 1 0 1 0 0 0 1 0 0 0 1 0 1 0 0 0 1 0 0 0 1 0 0 0 1 0 1 0 0 0 1 0 0 0 1 0 1 0 0 0 1 0 0 0 1 0 1 0 0 0 1 0 0 0 1 0 1 0 0 0 1 0 0 0 1 0 1 0 0 0 1 0 0-1 1 0 0 0 1 0 1 0 0 0 1 0 0 0 1-1 1 0 0 0 1-1 0 0 1-1 1 0 0-1 1-2 0-2 1-3 1-5 0-8 1-12 0-17 1-21 1-23 0-22 1-16 0-4 1 10 0 20 1 23 1 23 0 18 1 15 0 10 1 7 1 4 0 3 1 1 0 2 1 0 1 1 0 0 1 1 0 0 1 1 1 0 0 0 1 0 0 0 1 1 1 0 0 0 1 0 0 0 1 0 0 0 1 0 1 0 0 0 1 1 0 0 1 0 1 0 0 0 1 0 0 0 1 0 1 0 0 0 1 0 0 0 1 0 1 0 0 0 1 0 0 0 1 0 0 0 1 0 1 0 0 0 1 0 0 0 1 0 1 0 0 0 1 0 0 0 1 0 1 0 0 0 1 0 0 0 1 0 1 0 0 0 1 0 0 0 1 0 1 0 0 1 1 0 0 0 1 0 0 0 1 0 1 0 0 0 1 0 0 0 1 0 1 0 0 0 1 0 0 0 1 0 1 0 0 0 1 0 0 0 1 0 1 0 0 0 1 0 0 0 1 0 1 0 0 0 1 0 0 0 1 0 0 0 1 0 1 0 0 0 1 0 0 0 1 0 1 0 0 0 1 0 0 0 1 0 1 0 0 0 1 0 0 0 1 0 1 0 0 0 1 0 0 0 1 0 1 0 0 0 1 0 0 0 1 0 0 0 1 0 1 0 0 0 1 0 0 0 1 0 1 0 0 0 1 0 0 0 1 0 1 0 0 0 1 0 0 0 1 0 1 0 0 0 1 0 0 0 1 0 1 0 0 0 1 0 0 0 1 0 0 0 1 0 1 0 0 0 1 0 0 0 1 0 1 0 0 0 1 0 0 0 1 0 1 0 0 0 1 0 0 0 1 0 1 0 0 0 1 0 0 0 1 0 1 0 0 0 1 0 0 0 1 0 0 0 1 0 1 0 0 0 1 1 0 0 1 0 1 0 0 0 1 0 0 0 1 0 1 0 0 0 1 0 0 0 1 0 1 0 0 0 1 0 0 0 1 0 1 0 0 0 1 0 0 0 1 0 0 0 1 0 1 0 0 0 1 0 0 0 1 0 1 0 0 0 1 0 0 0 1 0 1 0 0 0 1 0 0 0 1 0 1 0 0 0 1 0 0 0 1 0 1 0 0 0 1 0 0 0 1 0 0 0 1 0 1 0 0 0 1 0 0 0 1 0 1 0 0 0 1 0 0 0 1 0 1 0 0 0 1 0 0 0 1 0 1 0 0 0 1 0 0 0 1 0 1 0 0 0 1 0 0 0 1 0 0 0 1 0 1 0 0 0 1 0 0 0 1 0 1 0 0 0 1 0 0-1 1 0 1 0 0 0 1 0 0 0 1 0 1 0 0 0 1 0 0 0 1 0 1 0 0 0 1 0 0 0 1 0 0 0 1 0 1 0 0 0 1 0 0 0 1 0 1 0 0 0 1 0 0 0 1 0 1 0 0 0 1 0 0 0 1 0 1 0 0 0 1 0 0 0 1 0 1 0 0 0 1 0 0 0 1 0 0-1 1 0 1 0 0 0 1 0 0 0 1 0 1 0 0 0 1 0 0 0 1-1 1 0 0 0 1 0 0 0 1 0 1-1 0 0 1 0 0 0 1-1 1 0 0 0 1-1 0 0 1-1 0 0 1-1 1-1 0-1 1-1 0-1 1-1 1-2 0-2 1-2 0-2 1-4 1-5 0-6 1-10 0-17 1-26 1-41 0-60 1-82 0-102 1-115 1-110 0-78 1-18 0 49 1 97 0 115 1 111 1 93 0 72 1 50 0 33 1 21 1 13 0 8 1 6 0 4 1 3 1 2 0 3 1 1 0 2 1 1 1 1 0 1 1 1 0 0 1 1 1 1 0 0 1 1 0 0 1 0 0 1 1 0 1 0 0 1 1 0 0 0 1 0 1 0 0 1 1 0 0 0 1 0 1 0 0 0 1 0 0 0 1 1 1 0 0 0 1 0 0 0 1 0 1 0 0 0 1 0 0 0 1 0 0 0 1 0 1 0 0 0 1 0 0 0 1 1 1 0 0 0 1 0 0 0 1 0 1 0 0 0 1 0 0 0 1 0 1 0 0 0 1 0 0 0 1 0 0 0 1 0 1 0 0 0 1 0 0 0 1 0 1 0 0 0 1 0 0 0 1 0 1 0 0 0 1 0 0 0 1 0 1 0 0 0 1 0 0 0 1 0 1 0 0 0 1 0 0 0 1 0 0 0 1 0 1 0 0 0 1 0 0 0 1 0 1 0 0 0 1 0 0 0 1 0 1 1 0 0 1 0 0 0 1 0 1 0 0 0 1 0 0 0 1 0 1 0 0 0 1 0 0 0 1 0 0 0 1 0 1 0 0 0 1 0 0 0 1 0 1 0 0 0 1 0 0 0 1 0 1 0 0 0 1 0 0 0 1 0 1 0 0 0 1 0 0 0 1 0 1 0 0 0 1 0 0 0 1 0 0 0 1 0 1 0 0 0 1 0 0 0 1 0 1 0 0 0 1 0 0 0 1 0 1 0 0 0 1 0 0 0 1 0 1 0 0 0 1 0 0 0 1 0 1 0 0 0 1 0 0 0 1 0 0 0 1 0 1 0 0 0 1 0 0 0 1 0 1 0 0 0 1 0 0 0 1 0 1 0 0 0 1 0 0 0 1 0 1 0 0 0 1 0 0 0 1 0 1 0 0 0 1 0 0 0 1 0 0 0 1 0 1 0 0 0 1 0 0 0 1 0 1 0 0 0 1 0 0 0 1 0 1 0 0 0 1 0 0 0 1 0 1 0 0 0 1 0 0 0 1 0 1 0 0 0 1 0 0 0 1 0 0 0 1 0 1 0 0 0 1 0 0 0 1 0 1-1 0 0 1 0 0 0 1 0 1 0 0 0 1 0 0 0 1 0 1 0 0 0 1 0 0 0 1 0 1 0 0 0 1 0 0-1 1 0 0 0 1 0 1 0 0 0 1 0 0-1 1 0 1 0 0-1 1 0 0 0 1-1 1-1 0 0 1-1 0-2 1-1 1-2 0-4 1-6 0-9 1-14 1-20 0-29 1-35 0-40 1-38 0-27 1-6 1 17 0 33 1 40 0 38 1 33 1 24 0 18 1 11 0 7 1 5 1 3 0 2 1 1 0 1 1 1 1 1 0 0 1 1 0 0 1 1 1 0 0 0 1 1 0 0 1 0 0 0 1 0 1 0 0 1 1 0 0 0 1 0 1 0 0 0 1 0 0 0 1 0 1 0 0 0 1 0 0 0 1 0 1 1 0 0 1 0 0 0 1 0 1 0 0 0 1 0 0 0 1 0 0 0 1 0 1 0 0 0 1 0 0 0 1 0 1 0 0 0 1 0 0 0 1 0 1 0 0 0 1 0 0 0 1 0 1 0 0 0 1 0 0 0 1 0 1 0 0 0 1 0 0 0 1 0 0 0 1 0 1 0 0 0 1 0 0 0 1 0 1 0 0 0 1 0 0 0 1 0 1 0 0 0 1 0 0 0 1 0 1 0 0 0 1 0 0 0 1 0 1 0 0 0 1 0 0 0 1 0 0 0 1 0 1 0 0 0 1 0 0 0 1 0 1 0 0 0 1 0 0 0 1 0 1 0 0 0 1 0 0 0 1 0 1 0 0 0 1 0 0 0 1 0 1 0 0 0 1 0 0 0 1 0 0 0 1 0 1 0 0 0 1 0 0 0 1 0 1 0 0 0 1 0 0 0 1 0 1 0 0 0 1 0 0 0 1 0 1 0 0 0 1 0 0 0 1 0 1 0 0 0 1 0 0 0 1 0 0 0 1 0 1 0 0 0 1 0 0 0 1 0 1 0 0 0 1 0 0 0 1 0 1 0 0 0 1 0 0 0 1 0 1 0 0 0 1 0 0 0 1 0 0 0 1 0 1 0 0 0 1 0 0 0 1 0 1 0 0 0 1 0 0 0 1 0 1 0 0 0 1 0 0 0 1 0 1 0 0 0 1 0 0 0 1 0 1 0 0 0 1 0 0 0 1 0 0 0 1 0 1 0 0 0 1 0 0-1 1 0 1 0 0 0 1 0 0 0 1 0 1 0 0 0 1 0 0-1 1 0 1 0 0 0 1-1 0 0 1 0 1-1 0 0 1-1 0-1 1-1 0-2 1-3 1-4 0-7 1-10 0-16 1-21 1-26 0-30 1-29 0-20 1-4 1 12 0 25 1 30 0 29 1 24 1 18 0 13 1 9 0 6 1 3 1 2 0 1 1 2 0 0 1 1 0 0 1 1 1 0 0 1 1 0 0 0 1 0 1 1 0 0 1 0 0 0 1 0 1 0 0 0 1 0 0 0 1 1 1 0 0 0 1 0 0 0 1 0 1 0 0 0 1 0 0 0 1 0 0 0 1 0 1 0 0 0 1 0 0 0 1 0 1 0 0 0 1 0 0 0 1 0 1 0 0 0 1 0 0 0 1 0 1 0 0 0 1 0 0 0 1 0 1 0 0 0 1 0 0 0 1 0 0 0 1 0 1 0 0 0 1 0 0 0 1 0 1 0 0 0 1 0 0 0 1 0 1 0 0 1 1 0 0 0 1 0 1 0 0 0 1 0 0 0 1 0 1 0 0 0 1 0 0 0 1 0 0 0 1 0 1 0 0 0 1 0 0 0 1 0 1 0 0 0 1 0 0 0 1 0 1 0 0 0 1 0 0 0 1 0 1 0 0 0 1 0 0 0 1 0 1 0 0 0 1 0 0 0 1 0 0 0 1 0 1 0 0 0 1 0 0 0 1 0 1 0 0 0 1 0 0 0 1 0 1 0 0 0 1 0 0 0 1 0 1 0 0 0 1 0 0 0 1 0 1 0 0 0 1 0 0 0 1 0 0 0 1 0 1 0 0 0 1 0 0 0 1 0 1 0 0 0 1 0 0 0 1 0 1 0 0 0 1 0 0 0 1 0 1 0 0 0 1 0 0 0 1 0 1 0 0 0 1 0 0 0 1 0 0 0 1 0 1 0 0 0 1 0 0 0 1 0 1 0 0 0 1 0 0 0 1 0 1 0 0 0 1 0 0 0 1 0 1-1 0 0 1 0 0-1 1-2 1-2 0-2 1-4 0-4 1-5 0-6 1-5 1-5 0-4 1-2 0-1 1 1 1 4 0 4 1 5 0 6 1 5 1 5 0 4 1 3 0 2 1 2 1 1 0 1 1 0 0 1 1 0 1 0 0 0 1 0 0 0 1-1 0 0 1 0 1-1 0-2 1-2 0-2 1-4 1-4 0-5 1-6 0-5 1-5 1-4 0-2 1-1 0 1 1 4 1 4 0 5 1 6 0 5 1 5 1 4 0 3 1 2 0 2 1 1 0 1 1 0 1 1 0 0 1 0 0 0 1 0 1 0 0 0 1 0 0 0 1 0 1 0 0 0 1 0 0 0 1 0 1 0 0 0 1 0 0 0 1 0 1 0 0 0 1 0 0 0 1 0 0 0 1 0 1 0 0 0 1 0 0 0 1 0 1 0 0 0 1 0 0 0 1 0 1 0 0 0 1 0 0 0 1 0 1 0 0 0 1 0 0 0 1 0 1 0 0 0 1 0 0 0 1 0 0 0 1 0 1 0 0 0 1 0 0 0 1 0 1 0 0 0 1 0 0 0 1 0 1 0 0 0 1 0 0 0 1 0 1 0 0 0 1 0 0 0 1 0 0 0 1 0 1 0 0 0 1 0 0 0 1 0 1 0 0 0 1 0 0 0 1 0 1 0 0 0 1 0 0 0 1 0 1 0 0 0 1 0 0 0 1 0 1 0 0 0 1 0 0 0 1 0 0 0 1 0 1 0 0 0 1 0 0 0 1 0 1 0 0 0 1 0 0 0 1 0 1 0 0 0 1 0 0 0 1 0 1 0 0 0 1-1 0 0 1 0 1 0 0 0 1 0 0 0 1 0 0 0 1 0 1 0 0 0 1 0 0 0 1 0 1 0 0 0 1 0 0 0 1 0 1 0 0 0 1 0 0 0 1 0 1 0 0 0 1 0 0 0 1 0 1-1 0 0 1 0 0 0 1 0 0 0 1 0 1-1 0 0 1 0 0 0 1-1 1 0 0-1 1 0 0-1 1-1 1-1 0-2 1-3 0-4 1-7 1-11 0-17 1-22 0-28 1-31 1-29 0-22 1-4 0 13 1 26 0 31 1 30 1 25 0 20 1 13 0 9 1 6 1 4 0 2 1 1 0 1 1 1 1 1 0 1 1 0 0 0 1 1 1 0 0 0 1 1 0 0 1 0 1 0 0 0 1 0 0 0 1 0 0 1 1 0 1 0 0 0 1 0 0 0 1 0 1 0 0 0 1 0 0 0 1 0 1 0 0 0 1 0 0 0 1 0 1 0 0 0 1 0 0 0 1 0 1 0 0 0 1 0 0 0 1 1 0 0 1 0 1 0 0 0 1 0 0 0 1 0 1 0 0 0 1 0 0 0 1 0 1 0 0 0 1 0 0 0 1 0 1 0 0 0 1 0 0 0 1 0 1 0 0 0 1 0 0 0 1 0 0 0 1 0 1 0 0 0 1 0 0 0 1 0 1 0 0 0 1 0 0 0 1 0 1 0 0 0 1 0 0 0 1 0 1 0 0 0 1 0 0 0 1 0 1 0 0 0 1 0 0 0 1 0 0 0 1 0 1 0 0 0 1 0 0 0 1 0 1 0 0 0 1 0 0 0 1 0 1 0 0 0 1 0 0 0 1 0 1 0 0 0 1 0 0 0 1 0 1 0 0 0 1 0 0 0 1 0 0 0 1 0 1 0 0 0 1 0 0 0 1 0 1 0 0 0 1 0 0 0 1 0 1 0 0 0 1 0 0 0 1 0 1 0 0 0 1 0 0 0 1 0 1 0 0 0 1 0 0 0 1 0 0 0 1 0 1 0 0 0 1 0 0 0 1 0 1 0 0 0 1 0 0 0 1 0 1 0 0 0 1 0 0 0 1 0 1 0 0 0 1 0 0 0 1 0 1 0 0 0 1 0 0 0 1 0 0 0 1 0 1 0 0 0 1 0 0 0 1 0 1 0 0 0 1 0 0 0 1 0 1 0 0 0 1 0 0 0 1 0 1 0 0 0 1 0 0 0 1 0 1 0 0 0 1 0 0 0 1 0 0 0 1 0 1 0 0 0 1 0 0 0 1 0 1 0 0 0 1 0 0 0 1 0 1 0 0 0 1 0 0 0 1 0 1 0 0 0 1 0 0 0 1 0 1 0 0 0 1 0 0 0 1 0 0 0 1 0 1 0 0 0 1 0 0 0 1 0 1 0 0 0 1 0 0 0 1 0 1 0 0 0 1 0 0 0 1 0 1 0 0 0 1 0 0 0 1 0 1 0 0 0 1 0 0 0 1 0 0 0 1 0 1 0 0 0 1 0 0 0 1 0 1 0 0 0 1 0 0 0 1 0 1 0 0 0 1 0 0 0 1 0 1 0 0 0 1 0 0 0 1 0 0 0 1 0 1 0 0 0 1 0 0 0 1 0 1 0 0 0 1 0 0 0 1 0 1 0 0 0 1 0 0 0 1 0 1 0 0 0 1 0 0 0 1 0 1 0 0 0 1 0 0 0 1 0 0 0 1 0 1 0 0 0 1 0 0 0 1 0 1 0 0 0 1 0 0 0 1 0 1 0 0 0 1 0 0 0 1 0 1 0 0 0 1 0 0 0 1 0 1 0 0 0 1 0 0 0 1 0 0 0 1 0 1 0 0 0 1 0 0 0 1 0 1-1 0 0 1 0 0 0 1 0 1 0 0 0 1 0 0 0 1 0 1 0 0 0 1 0 0 0 1-1 1 0 0 0 1 0 0 0 1-1 0 0 1-1 1-1 0-2 1-3 0-4 1-6 1-9 0-11 1-13 0-11 1-9 1-2 0 6 1 10 0 12 1 12 1 10 0 8 1 5 0 4 1 2 1 1 0 1 1 1 0 0 1 1 0 0 1 0 1 0 0 1 1 0 0 0 1 0 1 0 0 0 1 0 0 0 1 0 1 0 0 0 1 0 0 0 1 0 1 0 0 1 1 0 0 0 1 0 1 0 0 0 1 0 0 0 1 0 0 0 1 0 1 0 0 0 1 0 0 0 1 0 1 0 0 0 1 0 0 0 1 0 1 0 0 0 1 0 0 0 1 0 1 0 0 0 1 0 0 0 1 0 1 0 0 0 1 0 0 0 1 0 0 0 1 0 1 0 0 0 1 0 0 0 1 0 1 0 0 0 1 0 0 0 1 0 1 0 0 0 1 0 0 0 1 0 1 0 0 0 1 0 0 0 1 0 1 0 0 0 1 0 0 0 1 0 0 0 1 0 1 0 0 0 1 0 0 0 1 0 1 0 0 0 1 0 0 0 1 0 1 0 0 0 1 0 0 0 1 0 1 0 0 0 1 0 0 0 1 0 1 0 0 0 1 0 0 0 1 0 0 0 1 0 1 0 0 0 1 0 0 0 1 0 1 0 0 0 1 0 0 0 1 0 1 0 0 0 1 0 0 0 1 0 1 0 0 0 1 0 0 0 1 0 1 0 0 0 1 0 0 0 1 0 0 0 1 0 1 0 0 0 1 0 0 0 1 0 1 0 0 0 1 0 0 0 1 0 1 0 0 0 1 0 0 0 1 0 1 0 0 0 1 0 0-1 1 0 1-1 0-1 1-1 0-2 1-3 0-4 1-4 1-4 0-5 1-4 0-3 1-2 1 0 0 1 1 3 0 3 1 4 1 5 0 4 1 4 0 3 1 3 1 2 0 1 1 1 0 0 1 1 1 0 0 0 1 0 0 0 1 0 0 0 1 0 1 0 0 0 1 0 0 0 1 0 1 0 0 0 1 0 0 0 1 0 1 0 0 0 1 0 0 0 1 0 1 0 0 0 1 0 0 0 1 0 1 0 0 0 1 0 0 0 1 0 0 0 1 0 1 0 0 0 1 0 0 0 1 0 1 0 0 0 1 0 0 0 1 0 1 0 0 0 1 0 0 0 1 0 1 0 0 0 1 0 0 0 1 0 1 0 0 0 1 0 0 0 1 0 0 0 1 0 1 0 0 0 1 0 0 0 1 0 1 0 0 0 1 0 0 0 1 0 1 0 0 0 1 0 0 0 1 0 1 0 0 0 1 0 0 0 1 0 1 0 0 0 1 0 0 0 1 0 0 0 1 0 1 0 0 0 1 0 0 0 1 0 1 0 0 0 1 0 0 0 1 0 1 0 0 0 1 0 0 0 1 0 1 0 0 0 1 0 0 0 1 0 0 0 1 0 1 0 0 0 1 0 0 0 1 0 1 0 0 0 1 0 0 0 1 0 1 0 0 0 1 0 0 0 1 0 1 0 0 0 1 0 0 0 1 0 1 0 0 0 1 0 0-1 1 0 0-1 1-1 1-2 0-3 1-4 0-4 1-5 1-6 0-5 1-5 0-4 1-2 1-1 0 1 1 4 0 4 1 5 1 6 0 5 1 5 0 4 1 3 1 3 0 1 1 1 0 1 1 0 0 1 1 0 1 0 0 0 1 0 0 0 1 0 1-1 0 0 1-1 0-1 1-2 1-3 0-4 1-4 0-5 1-6 1-5 0-5 1-4 0-2 1-1 1 1 0 4 1 4 0 5 1 6 0 5 1 5 1 4 0 3 1 3 0 1 1 1 1 1 0 0 1 1 0 0 1 0 1 0 0 0 1 0 0 0 1 0 1 0 0 0 1 0 0 0 1 0 1 0 0 0 1 0 0 0 1 0 0 0 1 0 1 0 0 0 1 0 0 0 1 0 1 0 0 0 1 0 0 0 1 0 1 0 0 0 1 0 0 0 1 0 1 0 0 0 1 0 0 0 1 0 1 0 0 0 1 0 0 0 1 0 0 0 1 0 1 0 0 0 1 0 0 0 1 0 1 0 0 0 1 0 0 0 1 0 1 0 0 0 1 0 0 0 1 0 1 0 0 0 1 0 0 0 1 0 1 0 0 0 1 0 0 0 1 0 0 0 1 0 1 0 0 0 1 0 0 0 1 0 1 0 0 0 1 0 0 0 1 0 1 0 0 0 1 0 0 0 1 0 1 0 0 0 1 0 0 0 1 0 1 0 0 0 1 0 0 0 1 0 0 0 1 0 1 0 0 0 1 0 0 0 1 0 1 0 0 0 1 0 0 0 1 0 1 0 0 0 1 0 0 0 1 0 1 0 0 0 1 0 0 0 1 0 1 0 0 0 1 0 0 0 1-1 0 0 1-1 1-1 0-2 1-3 0-4 1-4 1-6 0-5 1-6 0-5 1-4 1-2 0-1 1 1 0 4 1 4 1 6 0 5 1 6 0 5 1 4 1 3 0 3 1 1 0 1 1 1 0 0 1 1 1 0 0 0 1 0 0 0 1 0 1 0 0 0 1 0 0 0 1 0 1 0 0 0 1 0 0 0 1 0 1 0" fill="none" stroke="#d07814" stroke-width="9"/>
<path transform="scale(.1)" d="M353,2620l12 0 12 0 12 1 11 0 12 0 12 0 12 0 12 1 12 0 11 0 12 0 12 0 12 0 12 1 12 0 12 0 11 0 12 0 12 0 12 0 12 0 12 0 12 0 11 0 12 1 12 0 12 0 12 0 12 0 11 0 12 0 12 0 12 0 12 0 12 0 12 0 11 0 12 0 12 0 12 0 12 0 12 0 12 0 11 0 12 0 12 0 12 1 12 0 12 0 12 0 11 0 12 0 12 0 12 0 12 0 12 0 11 0 12 0 12 0 12 0 12 0 12 0 12 0 11 0 12 0 12 0 12 0 12 0 12 0 11 0 12 0 12 0 12 0 12 0 12 0 12 0 11 0 12 0 12 0 12 0 12 0 12 0 12 0 11 0 12 0 12 0 12 0 12 0 12 0 12 0 11 0 12 0 12 0 12 0 12 0 12 0 11 0 12 0 12 0 12 0 12 0 12 0 12 0 11 0 12 0 12 0 12 0 12 0 12 0 11 0 12 0 12 0 12 0 12 0 12 0 12 0 11 0 12 0 12 0 12 0" fill="none" stroke="#2a6a8a" stroke-width="7"/>
<line x1="40.51" y1="271.6" x2="40.51" y2="275.1" stroke="#cf8af5" stroke-width="1.15"/>
<line x1="62.55" y1="271.6" x2="62.55" y2="275.1" stroke="#cf8af5" stroke-width="1.15"/>
<line x1="80.09" y1="271.6" x2="80.09" y2="275.1" stroke="#cf8af5" stroke-width="1.15"/>
<line x1="94.55" y1="271.6" x2="94.55" y2="275.1" stroke="#cf8af5" stroke-width="1.15"/>
<line x1="95.5" y1="271.6" x2="95.5" y2="275.1" stroke="#cf8af5" stroke-width="1.15"/>
<line x1="108.3" y1="271.6" x2="108.3" y2="275.1" stroke="#cf8af5" stroke-width="1.15"/>
<line x1="120.86" y1="271.6" x2="120.86" y2="275.1" stroke="#cf8af5" stroke-width="1.15"/>
<line x1="143.85" y1="271.6" x2="143.85" y2="275.1" stroke="#cf8af5" stroke-width="1.15"/>
<line x1="154.75" y1="271.6" x2="154.75" y2="275.1" stroke="#cf8af5" stroke-width="1.15"/>
<line x1="164.7" y1="271.6" x2="164.7" y2="275.1" stroke="#cf8af5" stroke-width="1.15"/>
<line x1="165.89" y1="271.6" x2="165.89" y2="275.1" stroke="#cf8af5" stroke-width="1.15"/>
<line x1="175.6" y1="271.6" x2="175.6" y2="275.1" stroke="#cf8af5" stroke-width="1.15"/>
<path transform="scale(.1)" d="M353,2780l2-1 2 2 2-4 2 2 1 0 2 0 2 0 2-1 2 0 2 0 2 2 2 0 2-1 2-1 1 1 2 0 2 1 2-1 2-1 2 2 2-1 2-1 0 2 1-1 0-1 1 2 0-1 1-1 0 1 1 1 0-1 0 0 1 0 0-1 1 1 0 0 1-1 0 0 1-2 0-2 1-9 0-7 1-1 0 7 1 16 0 15 1 6 0-2 1-8 0-7 0-4 1 1 0-2 1 1 0-1 1 1 0-1 1 1 0-2 1 1 0 0 1-2 0 4 1-4 0 1 1 1 0 0 1 0 0-1 0 1 2-1 2 3 2-2 2 0 2-1 2 1 2 0 2-1 2 1 1-1 2 2 2 0 2-1 2 0 2 1 2-1 2-1 2 2 1-2 2 1 2-2 2 3 2-1 2 0 2 1 2-2 2 0 2 2 1 2 2-3 2 0 2 0 2 1 2-1 2 1 2-3 2 1 2 1 1 0 2 0 2 1 2-2 2 2 2 0 2-3 2 3 2-2 1 0 2 1 2 0 2 0 2 0 2 0 2-1 2 1 2 1 2-1 1-1 2 2 2 0 2-2 2 0 2 2 2 1 2-3 2 1 1 1 2 0 2 1 2-3 2 1 2 1 2-2 2 1 2 1 2-2 1 2 2 1 2-3 2 1 2 0 2 0 2 1 2-1 2-1 2 2 1-2 2 0 2 1 2 1 2-2 2 0 2 1 2 1 2-1 1 2 2-2 2 1 2-1 2-1 2 2 2-1 2 0 2 0 0 1 1-2 0 1 1-1 0 1 0 0 1-1 0 2 1 0 0-1 1 0 0 0 1 0 0 0 1-1 0 0 1-1 0-4 1-11 0-17 1-19 0-8 1 14 0 34 0 32 1 16 0-2 1-14 0-9 1-7 0 0 1-4 0 0 1 1 0 1 1 0 0-2 1 2 0-2 1 2 0-1 1 0 0 0 1 1 0 0 0-1 1 0 0 0 1 1 2-2 2 2 2 0 1-1 2 1 2-1 2-1 2 1 2 1 2 0 2-1 2 0 2 0 1 0 2-1 2 1 2 1 2 0 2-2 2 1 2 0 2 0 1-1 2 1 2 0 2 0 2 1 2 0 2-2 2 0 2 0 2 0 1 0 2 1 2 0 2 0 2 1 2-1 2 0 2 2 2-2 2 0 1 1 2-2 2 0 2 1 2 1 2-1 2-2 2 2 2-1 1 0 2 1 2-1 2 2 2-1 2 1 2-1 2 0 2 2 2-2 1-1 2 1 2 0 2 0 2-1 2 1 2-1 2 2 2 0 1-2 2 1 2 1 2-2 2 0 2 2 2-1 2 1 2 0 2 0 0-1 1-1 0 3 0-3 1 1 0 0 1 0 0 1 1-2 0 2 1-2 0 1 1 1 0-1 1-1 0 1 1 1 0-2 1-4 0-10 1-19 0-21 0-8 1 11 0 26 1 25 0 13 1-1 0-4 1-3 0-3 1-1 0 1 1 0 0-2 1 0 0 2 1 0 0 0 1-1 0 0 0 0 1-1 0 0 1 2 0-2 1 1 0 0 1 0 0 0 2 0 2-1 2 2 2-2 2 1 2-2 2 2 1 2 2-3 2 0 2 1 2-1 2 3 2-2 2 0 2 0 1-1 2 1 2 1 2-1 2 3 2-3 2 0 2 0 2 0 2 0 1 0 2-1 2 1 2 1 2 0 2-2 2 2 2 0 2-2 2 2 1 0 2-2 2 0 2 0 2 0 2 2 2-1 2 0 2 0 1-1 2 2 2-1 2 0 2-1 2 2 2-1 2 0 2-1 2 1 1 1 2-1 2-2 2 1 2 2 2 0 2 0 2-1 2-1 1 2 1 1 0-3 1 0 0 3 1-2 0-1 1 1 0-1 1 2 0 1 1-2 0-1 1 1 0-1 1 1 0 1 1 0 0-1 0-3 1-8 0-10 1-12 0-5 1 14 0 25 1 23 0 15 1-5 0-13 1-12 0-5 1-4 0 0 1 2 0-2 1 0 0 1 1-2 0 1 0 0 1 0 0 1 1-2 0 0 1 2 0 0 1-1 0 0 1-2 0 2 2 0 2 0 2-1 2 0 2 2 2-1 1-1 2 2 2 1 2-3 2 1 2-1 2 1 2 0 2 1 2-1 1-1 2 0 2 1 2-1 2 3 2 0 2-2 2 0 2 0 1 0 2 1 2 0 2-1 2-1 2 0 2 2 2-1 2 0 2 2 1-2 2 1 2-3 2 1 2 1 2-2 2 2 2-1 2 1 2 0 1 0 2 1 2-1 2 1 2 0 2-2 2 1 2-1 2 0 1 2 2 0 2 0 2-1 2-1 2 2 2-2 2 1 2-1 2 0 1 1 2 1 2-1 2 0 2 2 2-3 2 0 2 0 2 0 1 0 2 2 2 0 2-2 2 2 2-1 2 2 2-2 2 2 2-2 1-1 2 2 2-2 2 2 2 0 2-3 2 1 2 4 2-4 2 2 1-1 2 0 2-1 2 1 2 0 2 0 2 0 2 0 2 0 1-1 2 1 2-1 2 2 2-2 2 1 2-1 2 2 2-2 2 1 1 1 2-2 2 2 2-1 2 0 2 0 2 0 2 1 2 0 2-2 1 1 2 0 2 0 1 0 0 0 1 1 0-1 1 0 0 1 1-1 0 0 0-2 1 2 0 0 1 0 0 0 1 0 0 0 1 1 0-1 1-1 0-1 1-2 0-5 1-4 0-1 1 6 0 10 1 12 0 4 0 0 1-9 0-4 1-4 0 0 1-1 0 0 1 1 0-1 1 0 0-1 1 2 0-2 1 1 0 0 1 0 0 0 1 2 0-2 0-1 1 2 0-1 1 1 2-1 2 0 2 2 1-1 2 0 2-1 2 0 2-1 2 1 2 1 2-1 2 0 2-1 1 1 2 0 2 2 2-1 2 0 2-1 2 2 2-2 2 0 2 0 1 0 2 0 2 2 2-2 2 0 2 1 2-1 2 0 2 0 1 0 2 0 2 0 2-1 2 1 2 2 2-1 2-2 2 2 2 0 1 0 2 0 2 0 2-2 2 1 2-1 2 0 2 1 2-1 1 0 2 1 2 1 2-1 2-1 2 1 2 1 2-1 2 0 2 0 1 0 2 0 2 0 2 1 2 1 2-2 2 0 2-1 2 2 2-1 1-2 2 3 2 0 2-2 2 0 2 1 2 1 2-2 2 2 1-1 2-1 2 0 2 1 2-1 2 0 2 1 2 0 2 0 2 0 1 0 2 1 2-2 2 1 2 0 2 1 2-2 2 0 2 3 1-1 2 0 2-1 2 0 2 1 2-1 2 0 2 1 2-1 2 1 0-1 1-1 0 0 0 1 1 0 0 1 1-1 0 1 1-1 0 1 1-1 0-1 1 1 0-1 1 0 0 1 1 1 0-3 1 0 0-4 1-3 0-1 0 3 1 4 0 6 1 3 0 1 1-3 0-3 1 0 0-1 1 1 0-2 1 2 0-1 1 1 0 0 1-2 0 1 1 1 0-2 0 0 1 2 0-1 1-1 0 0 1 1 0 0 1 1 2-2 2 2 1-1 2 0 2 0 2 2 2-3 2 1 2 0 2 0 2 1 2-1 1-1 2 1 2-1 2 3 2-2 2 0 2 0 2 1 2-1 1 0 2 0 2 0 2-1 2 2 2-1 2 1 2-2 2 2 2-2 1 1 2-1 2 1 2 0 2 0 2-1 2 0 2 1 2 0 2-1 1 1 2 0 2 0 2 1 2-1 2-1 2 1 2 0 2 0 1 0 2 1 2-2 2 3 2-1 2-2 2 0 2 0 2 1 2-1 1 0 2 2 2 0 2-1 2 1 2-1 2 0 2 0 2 1 2-1 1-1 2 1 2 0 2 0 2 0 2-1 2 2 2-1 2 1 1-2 2 1 2 0 2 0 2-1 2 1 2 1 2-2 2 0 2 2 1 0 2 0 2-1 2 0 2 1 2-1 2 0 2 1 2-1 1 0 2-1 2 2 2-1 2 0 2 0 2 1 2 0 2-1 2 1 1-1 2-1 2 1 2 0 2 0 2 1 2-2 2 2 2-1 2 0 1 1 2-1 2 1 2-2 2 0 2 3 2-3 2 1 2 0 1-2 2 2 2 0 2 0 2 1 2-3 2 4 2-3 2 1 2 0 1 1 2-1 2 0 2 0 2 2 2-1 2 0 2-2 2 2 1-1 2 0 2 1 2-1 2 1 2 0 2 0 2-1 2 0 2-1 1 1 2 0 2 0 2 2 2-3 2 2 2 0 2 0 2-2 2 1 1 0 2-1 2 0 2 2 2-1" fill="none" stroke="#ff7f14" stroke-width="12"/>
</g>
<rect x="35.3" y="171.35" width="142.2" height="114.1" fill="none" stroke="#454545" stroke-width="0.9"/>
<line x1="35.3" y1="285.45" x2="35.3" y2="287.85" stroke="#454545" stroke-width="0.8"/>
<text x="35.3" y="294.35" font-size="6.7" font-weight="bold" text-anchor="middle" fill="#000">20</text>
<line x1="47.15" y1="285.45" x2="47.15" y2="286.85" stroke="#454545" stroke-width="0.8"/>
<line x1="59" y1="285.45" x2="59" y2="287.85" stroke="#454545" stroke-width="0.8"/>
<text x="59" y="294.35" font-size="6.7" font-weight="bold" text-anchor="middle" fill="#000">30</text>
<line x1="70.85" y1="285.45" x2="70.85" y2="286.85" stroke="#454545" stroke-width="0.8"/>
<line x1="82.7" y1="285.45" x2="82.7" y2="287.85" stroke="#454545" stroke-width="0.8"/>
<text x="82.7" y="294.35" font-size="6.7" font-weight="bold" text-anchor="middle" fill="#000">40</text>
<line x1="94.55" y1="285.45" x2="94.55" y2="286.85" stroke="#454545" stroke-width="0.8"/>
<line x1="106.4" y1="285.45" x2="106.4" y2="287.85" stroke="#454545" stroke-width="0.8"/>
<text x="106.4" y="294.35" font-size="6.7" font-weight="bold" text-anchor="middle" fill="#000">50</text>
<line x1="118.25" y1="285.45" x2="118.25" y2="286.85" stroke="#454545" stroke-width="0.8"/>
<line x1="130.1" y1="285.45" x2="130.1" y2="287.85" stroke="#454545" stroke-width="0.8"/>
<text x="130.1" y="294.35" font-size="6.7" font-weight="bold" text-anchor="middle" fill="#000">60</text>
<line x1="141.95" y1="285.45" x2="141.95" y2="286.85" stroke="#454545" stroke-width="0.8"/>
<line x1="153.8" y1="285.45" x2="153.8" y2="287.85" stroke="#454545" stroke-width="0.8"/>
<text x="153.8" y="294.35" font-size="6.7" font-weight="bold" text-anchor="middle" fill="#000">70</text>
<line x1="165.65" y1="285.45" x2="165.65" y2="286.85" stroke="#454545" stroke-width="0.8"/>
<line x1="177.5" y1="285.45" x2="177.5" y2="287.85" stroke="#454545" stroke-width="0.8"/>
<text x="177.5" y="294.35" font-size="6.7" font-weight="bold" text-anchor="middle" fill="#000">80</text>
<text x="106.7" y="307.75" font-size="9.9" font-weight="bold" text-anchor="middle" fill="#000">2 Theta (degree)</text>
<text x="35.7" y="176.55" font-size="6.1" font-weight="bold" text-anchor="start" fill="#000">BB0.75T</text>
<path d="M142.6,173.75l5.2,4.4m0,-4.4l-5.2,4.4" stroke="#30b4f0" stroke-width="0.9" fill="none"/>
<text x="153.2" y="177.95" font-size="6.7" font-weight="bold" text-anchor="start" fill="#000">y_obs</text>
<line x1="137.2" y1="183.95" x2="151.8" y2="183.95" stroke="#e0a858" stroke-width="1.2"/>
<text x="153.2" y="185.95" font-size="6.7" font-weight="bold" text-anchor="start" fill="#000">y_calc</text>
<line x1="137.2" y1="191.75" x2="151.8" y2="191.75" stroke="#9a9a9a" stroke-width="1.2"/>
<text x="153.2" y="193.75" font-size="6.7" font-weight="bold" text-anchor="start" fill="#000">y_bkg</text>
<line x1="137.2" y1="199.45" x2="151.8" y2="199.45" stroke="#ffb070" stroke-width="1.3"/>
<text x="153.2" y="201.45" font-size="6.7" font-weight="bold" text-anchor="start" fill="#000">Diff</text>
<line x1="145.2" y1="205.95" x2="145.2" y2="210.75" stroke="#c58cf0" stroke-width="0.8"/>
<text x="153.2" y="210.35" font-size="6.7" font-weight="bold">BaTiO<tspan font-size="4.4" dy="1.4">3</tspan></text>
<text x="137.3" y="219.75" font-size="6.8" font-weight="bold">R<tspan font-size="4.6" dy="1.5">wp</tspan><tspan dy="-1.5">=12.054 %</tspan></text>
<text x="137.3" y="229.75" font-size="6.9" font-weight="bold">X<tspan font-size="4.2" dy="-2.4">2</tspan><tspan dy="2.4">=1.10</tspan></text>
<text transform="translate(25.9 224.85) rotate(-90) scale(0.945 1)" font-size="10.2" font-weight="bold" text-anchor="middle">Intensity (a.u.)</text>
<text x="4.5" y="170.75" font-size="13" font-weight="normal" text-anchor="start" fill="#000">(d)</text>
<clipPath id="ce"><rect x="218.4" y="171.35" width="142.1" height="114.1"/></clipPath>
<g clip-path="url(#ce)">
<path transform="scale(.1)" d="M2184,2601l1-4 1 2 0 3 1 0 0 3 1-5 1 0 0 1 1-4 0-1 1 2 1 0 0 1 1 2 0-2 1-1 0 0 1-3 1 5 0-3 1-2 0 6 1 4 1-2 0-1 1-4 0 0 1-4 1 2 0 5 1-2 0 2 1 0 1-4 0 0 1 8 0-6 1 1 1 0 0-3 1 4 0-4 1 3 0 0 1 5 1-7 0-1 1 2 0 3 1-1 1-1 0-2 1 1 0-1 1 3 1 1 0 1 1 0 0-6 1 7 1-2 0 1 1-2 0 0 1-1 0 0 1 3 1-5 0-2 1 2 0-1 1 1 1 2 0 0 1-10 0 2 1-1 1-2 0 2 0-14 2-8 4-17-1-23-1-20-1-31-8-16 7-10 5 1 1 14 5 21-3 28-3 23-2 23 1 11 7 5-3 10 1 4 0 5 1 0 1 1 0 1 1 2 0-6 1 3 1 3 0-4 1 5 0 0 1 2 1 0 0-3 1 0 0 2 1-2 0 3 1-2 1-1 0 1 1 2 0-2 1-3 1 9 0-7 1 1 0 3 1 2 1-5 0 3 1-2 0 1 1 2 1-4 0-1 1 3 0-4 1 5 1 1 0-2 1 1 0 0 1 3 0-3 1-3 1 5 0 0 1-1 0 0 1 0 1 1 0-4 1 2 0-2 1 1 1 5 0-2 1-3 0 2 1 0 1-1 0 0 1-2 0 3 1 1 1-3 0 5 1-6 0 0 1 1 0 3 1-3 1-1 0 5 1-3 0-3 1 2 1 2 0-1 1 4 0-3 1 0 1-2 0 0 1 3 0 0 1 0 1-3 0 8 1-7 0 3 1-3 0 0 1 7 1-11 0 4 1 0 0 2 1 1 1-5 0 3 1 3 0 3 1-8 1 6 0-2 1-3 0 1 1 0 1 1 0-2 1 3 0-1 1-2 1 0 0 2 1-2 0 1 1 0 0-1 1 1 1-4 0 4 1-2 0 0 1 3 1 1 0-2 1 2 0 3 1-4 1-2 0 3 1-2 0 2 1-1 1 0 0 0 1 5 0-4 1-4 1 3 0-1 1 6 0-3 1-5 0 3 1 4 1-3 0 4 1-6 0 3 1 1 1-2 0-3 1 1 0 5 1-2 1-2 0-3 1 2 0 3 1 2 1-1 0-7 1 3 0-4 1 5 0 0 1 1 1-2 0 0 1 2 0 3 1-1 1-2 0-5 1 2 0 5 1-4 1 2 0 0 1 1 0 1 1-5 1 4 0 0 1-2 0-2 1 4 1-3 0 1 1 0 0 6 1-8 0 6 1-1 1-2 0 1 1 1 0-5 1 3 1-2 0 2 1 1 0 2 1-2 1-5 0 4 1-2 0 2 1 0 1 3 0-4 1-3 0 3 1 1 1-3 0 3 1 2 0 0 1-4 0 2 1 0 1 3 0-6 1 6 0 0 1 0 1-1 0-1 1-3 0 5 1 0 1-1 0-3 1 0 0 4 1-2 1-2 0 3 1 5 0-7 1 3 0-2 1-3 1 6 0-5 1 2 0-2 1 4 1 2 0-4 1 1 0 1 1-4 1 2 0 2 1 0 0 0 1 2 1-1 0-7 1 1 0 3 1 0 1 1 0 2 1-4 0 1 1 0 0-1 1 4 1-2 0 1 1-1 0 0 1 1 1-2 0 1 1-4 0 7 1-3 1 1 0-2 1 1 0-2 1 2 1-2 0 1 1-1 0 4 1-2 1 6 0-5 1-1 0-4 1 2 0 1 1-2 1 2 0-2 1 0 0 1 1-1 1 0 0 2 1 0 0 0 1-1 1 3 0-4 1 3 0-2 1-2 1-1 0 4 1 0 0-3 1 4 0-3 1 2 1 1 0-1 1-3 0 0 1 5 1-2 0 1 1-1 0-2 1-2 1-4 0 4 1-1 0-4 1 5 1-3 0-1 1 0 0-1 1-4 1 2 0-4 1 1 0-4-2-4 7 0-6-4 2-4 2-14 1-5 3-29 2-35-8-47 4-79 3-101 5-114-2-118-1-98-3-58 6 16-5 79 7 100 5 127-12 114 6 90-3 55 12 44-11 33 0 21 3 15 4 1-7 9 1 5 10-1-4 3 0 1 1-1 0 5 1 2 1 1 0 3 1-3 0 3 1-2 1 8 0-7 1 8 0-2 1-1 1-1 0 1 1-2 0 2 1-1 0 5 1-1 1 0 0 2 1-3 0 0 1-3 1 0 0 7 1-6 0 4 1-2 1-2 0 4 1 0 0-1 1 3 1-3 0 1 1 0 0 1 1-1 1 2 0-3 1-2 0-2 1 4 0 4 1-5 1 0 0 2 1-3 0 2 1 2 1 0 0-3 1 4 0-4 1 0 1 2 0 1 1-1 0 2 1-4 1 2 0 6 1-4 0 0 1 1 1-2 0-3 1 2 0 1 1 1 0-1 1-2 1-1 0 2 1-1 0 1 1 1 1-1 0 3 1-1 0 3 1-4 1 1 0-2 1 4 0-3 1 0 1 0 0 1 1-2 0 2 1-1 0 1 1 4 1-7 0 3 1 3 0-6 1 0 1 2 0-3 1 0 0 3 1 3 1-3 0 1 1 0 0-2 1-1 1 2 0 0 1-1 0 1 1 3 1-1 0-2 1 2 0 2 1-3 0-2 1 1 1-1 0 3 1 2 0-3 1-1 1-1 0 6 1-6 0 4 1 2 1-5 0 0 1 2 0 0 1-2 1 1 0 0 1-1 0 3 1-3 1 1 0-1 1 4 0-1 1-1 0-2 1 1 1-3 0 3 1 0 0-2 1 3 1 3 0-2 1-2 0 0 1-2 1 3 0-3 1 3 0-1 1-2 1 3 0-1 1 2 0-4 1 4 0-1 1 1 1-1 0-3 1 2 0 3 1-5 1 5 0-3 1 4 0-3 1-1 1 2 0 1 1-4 0 2 1-5 1 4 0 4 1-3 0-2 1 1 1 0 0 5 1-3 0 0 1 2 0-3 1-3 1 2 0 0 1 0 0 1 1-2 1-2 0 3 1 2 0 0 1 0 1-1 0 1 1 2 0-4 1 0 1-1 0-2 1 5 0-1 1-1 0 3 1-5 1 1 0 1 1-1 0 1 1-2 1 9 0-4 1-2 0-2 1 1 1 4 0-5 1-2 0 2 1 1 1-2 0 1 1 2 0-3 1 2 1-1 0 2 1-1 0-1 1-2 0 5 1-3 1 3 0-1 1-1 0-6 1 4 1-2 0 2 1 1 0-1 1 0 1 1 0-3 1 3 0-5 1-1 1 6 0-6 1-1 0-4 1 0 1 4 0-10 4-7 4-4-9-23 3-25 0-37 4-43 1-40-5-40 3-19 7 9-6 26 7 50-2 35-4 29 2 37 2 17 4 25-2 6-2 6 1 5 1-2 0 7 1 2 0-2 1 3 0 4 1-5 1 0 0 1 1 0 0 0 1 1 1-4 0 3 1 2 0 3 1-3 1-1 0-2 1 1 0 2 1 2 1-4 0 2 1 4 0-1 1 0 1 0 0-1 1-2 0 2 1 4 0-6 1 0 1 1 0 1 1 5 0-6 1 0 1-3 0 2 1 3 0 1 1-1 1-4 0 2 1 5 0-3 1 3 1-4 0 2 1-3 0-1 1 1 1 2 0-1 1 1 0-3 1 4 0-3 1 4 1-5 0 6 1-3 0 1 1-1 1 0 0-4 1 4 0-2 1 2 1 0 0-1 1 1 0 2 1 2 1-6 0 6 1-4 0-2 1-3 0 3 1 2 1-1 0-1 1 2 0 3 1-6 1 0 0 1 1 1 0-1 1 1 1 1 0-1 1 2 0-2 1 2 1-3 0 3 1 1 0 1 1-3 1-3 0 4 1-3 0 3 1-5 0 1 1 6 1-4 0 4 1-1 0-2 1 4 1-6 0 5 1-1 0-5 1 1 1 2 0 1 1-2 0 0 1 3 1-4 0 2 1 1 0-4 1 6 1-3 0-3 1 4 0-2 1-1 0 2 1-2 1 0 0 4 1-2 0 1 1 0 1-3 0 2 1-1 0-1 1 3 1 2 0-1 1-5 0 3 1 2 1 1 0-3 1 5 0-10 1 4 0 1 1-1 1 6 0-8 1 2 0 0 1 1 1-1 0-1 1 3 0 0 1-2 1 2 0-4 1 3 0 1 1-4 1 3 0 0 1-2 0 2 1-1 1 1 0-3 1 0 0 0 1 5 0 0 1 0 1-3 0-4 1 2 0 1 1 1 1 2 0-3 1 2 0 2 1 0 1-2 0 0 1 0 0 2 1-2 1 1 0-3 1 0 0 1 1 2 1-5 0 4 1 1 0-3 1-4 0 6 1 1 1-3 0 0 1-6 0 8 1-2 1-5 0 1 1 0 0 0 1 3 1-2 0-1 1-1 0 1 1-8 1-7 0-10-4-7 7-24 8-24-5-30-1-27 5-23-3-12 1-3-3 24-2 22 5 29 1 36-5 18 14 18-9 14 1 7 0 1 1 0 0 3 1 3 1-1 0 2 1-1 0 2 1 0 1 0 0 0 1 6 0-5 1 2 0 2 1-1 1-2 0 4 1-2 0 3 1-1 1-1 0-2 1 1 0-2 1 0 1-1 0 2 1 1 0 2 1-4 1 4 0-5 1 0 0 0 1-1 1 3 0 0 1 0 0 0 1 1 0-3 1 5 1-4 0 2 1-1 0 6 1-5 1 3 0-3 1 2 0 0 1 0 1-4 0 1 1 2 0-2 1 0 1 3 0 2 1-4 0-4 1 2 0 4 1-6 1 7 0 1 1-5 0 2 1-1 1-2 0-2 1 3 0 5 1-4 1-2 0 5 1-3 0 2 1-2 1 3 0-3 1-2 0 4 1-2 1-1 0 2 1 0 0 1 1-2 0 3 1-2 1 1 0 0 1-1 0 1 1 1 1-2 0 2 1-2 0-1 1 3 1-1 0-2 1 1 0-2 1 0 1 3 0 1 1-1 0 0 1-5 1 8 0-4 1 0 0 1 1-2 0-2 1 1 1 4 0-1 1 0 0-4 1 4 1-6 0 9 1-1 0-4 1-1 1-3 0 10 1-5 0 0 1 2 1-2 0 3 1-7 0 2 1 2 0-1 1 0 1 3 0-2 1 2 0-3 1 1 1-1 0 2 1-2 0 0 1 1 1 3 0-5 1 1 0-1 1 2 1 0 0-3 1 4 0 0 1-2 1 0 0 2 1 1 0-1 1-4 0-2 1 10 1-2 0-4 1 0 0 2 1-5 1 4 0 2 1-1 0-1 1 2 1-1 0 0 1-4 0 5 1-8 1 5 0 5 1-2 0-1 1-1 1-1 0 2 1-2 0-9 1 4 0-6 1 1 1-4 0-2 0-2-5-11 4 1 3 0 5-5-6 8 8-2-5 7 2 1 0 10 1-1 0 3 1 5 1 1 0-1 1 2 0-3 1 5 0-3 1 5 1 3 0-7 1-1 0 7 1-5 1 1 0-2 1 0 0-2 1-2 1 2 0-6 1 0 0-4 1-2 1-6 2-5 2-3 1 1-8-2 2-1 2 5 2 3-1 1 3 4 0 7 1 0 1 6 0-3 1 7 0 1 1 0 1-1 0 1 1-2 0 2 1 0 1-3 0 5 1 1 0-4 1 4 1-7 0 4 1 4 0-4 1 2 1 2 0-2 1-2 0 1 1-2 0 3 1-3 1-3 0 9 1-7 0 3 1-2 1 2 0-3 1 3 0 4 1-2 1-4 0 2 1-4 0 6 1 1 1-4 0 3 1 0 0-2 1 1 0 0 1-1 1-1 0-3 1 6 0-4 1 3 1-2 0 3 1-4 0 2 1-1 1 0 0 0 1 2 0-3 1 0 1-1 0 0 1 4 0-1 1-1 1 0 0 5 1 0 0-8 1 3 0 0 1 1 1-1 0 3 1-1 0-1 1 0 1-2 0 2 1-1 0 0 1-3 1 4 0 0 1 0 0 2 1-5 1 2 0-2 1 6 0-3 1-5 0 4 1 3 1-6 0 0 1 2 0 1 1 1 1 0 0-2 1-2 0 7 1-2 1-2 0-1 1 1 0 1 1-5 1 5 0-1 1 5 0-6 1 1 1-3 0 4 1 0 0-2 1-1 0 6 1-6 1 1 0-2 1 6 0-4 1 2 1-1 0 0 1 0 0 5 1-3 1 1 0-3 1 2 0-4 1 4 1-3 0 2 1 1 0-3 1-1 1-1 0 2 1-2 0 4 1-1 0-3 1 2 1 2 0-3 1 1 0-3 1 3 1-3 0 5 1-3 0 1 1 0 1 2 0-6 1 2 0 2 1-5 1 5 0-2 1-2 0 0 1 1 0-1 1-2 1 0 0 0 1-6 0-1-4-6 3-4 4-17-2-23 2-21-3-29 1-34 2-26 5-17-2 10-2 17 2 27 8 34-1 22-2 32 1 12-6 9 5 11 1 6 0-3 1 8 0 0 1 1 1 1 0-3 1 3 0 3 1-3 1 2 0-1 1 4 0-4 1 3 1-3 0-4 1 6 0-3 1 2 1 4 0-6 1 5 0 0 1-3 1-1 0 1 1 5 0-7 1 3 0-1 1 2 1-1 0 2 1-2 0 3 1-3 1 2 0 2 1-2 0-3 1 2 1 3 0 0 1-5 0 4 1-2 1 1 0-6 1 7 0-1 1-1 0 0 1-1 1 1 0-1 1 2 0-1 1-2 1 1 0 0 1 0 0 2 1-1 1-1 0 0 1 1 0 2 1-1 1 3 0-8 1 2 0 3 1-6 1 4 0-2 1 0 0 7 1-6 0-1 1 7 1-7 0 4 1 0 0-5 1 2 1 5 0-4 1 6 0-6 1 1 1-2 0 1 1 5 0-6 1 3 1-3 0 0 1 5 0-1 1 1 1-1 0-4 1 3 0-1 1-2 0 5 1-5 1 6 0-3 1 0 0 4 1 0 1-6 0 1 1 4 0 1 1-5 1-1 0 5 1-1 0-4 1 3 1 4 0-6 1 1 0-3 1 2 0 2 1-2 1-2 0 6 1-5 0 2 1 3 1-5 0 3 1 1 0-3 1 0 1-1 0 1 1-3 0 7 1-1 1-1 0-2 1 1 0-1 1 1 1 2 0-5 1 2 0 1 1-2 0 3 1-1 1 1 0-1 1-3 0 2 1 1 1 3 0-4 1-3 0 3 1-2 1 3 0 1 1-2 0 2 1-2 1 0 0-1 1 1 0-2 1 3 1 3 0-6 1 2 0-1 1 6 0-3 1-2 1 1 0 1 1-2 0-2 1-1 1 1 0 5 1-4 0 3 1-4 1 4 0-4 1 7 0-2 1-3 1 0 0 0 1 0 0-1 1 5 0-6 1 3 1-1 0 1 1 0 0 1 1 0 1-4 0 3 1 0 0 4 1-7 1 0 0-1 1 5 0-3 1 5 1-4 0 1 1-1 0 4 1 1 1-4 0-1 1 2 0-1 1 3 0-5 1 1 1 3 0-2 1-1 0 4 1-3 1-1 0 3 1-1 0 1 1-2 1-1 0 6 1-7 0 4 1-1 1-4 0 2 1 6 0-7 1 3 1 2 0 0 1-3 0 0 1-4 0 2 1 1 1 3 0-4 1 0 0 0 1 0 1-2 0 2 1-1 0 1 1 3 1-4 0-1 1 6 0-2 1 0 1 1 0 0 1-5 0 0 1 6 0-1 1-2 1-2 0 4 1 3 0-7 1 0 1 5 0 1 1 0 0-4 1 4 1-4 0 2 1 1 0-5 1 2 1 4 0-1 1-2 0 1 1 1 1-3 0-2 1 2 0 6 1-6 0 3 1-2 1-2 0 4 1-1 0 3 1-5 1-1 0 2 1-4 0 7 1-1 1-3 0 3 1-3 0-2 1 0 1-1 0 7 1-4 0 0 1 0 1-4 0 8 1-4 0 3 1 3 0-4 1-2 1 0 0 2 1-4 0 2 1 0 1 4 0-5 1 5 0-3 1-1 1 0 0 2 1-2 0-2 1 3 1 2 0-3 1-3 0-2 1 1 0 9 1-8 1 1 0-2 1 7 0-6 1-1 1 2 0 2 1-2 0 2 1-4 1-3 0 1 1-5 0-1 0-11 4-4-5-12-1-17 2-12 7-14 2-2-12-3 5 8-2 18-2 12 8 13 3 11 0 8 0 7 1 0 0 6 1-3 1 3 0 2 1 2 0-4 1 1 1 5 0-5 1 6 0-2 1 0 1-2 0-4 1-1 0 5 1 2 1 1 0 1 1-4 0 1 1 1 0-3 1 0 1 2 0-5 1 5 0 1 1-2 1 1 0 3 1-6 0 8 1-4 1 1 0-4 1 4 0-1 1 0 1 2 0 1 1-1 0 0 1-5 0 7 1 0 1-7 0 4 1 1 0-3 1-1 1 5 0-2 1-1 0-1 1-1 1 6 0-1 1-4 0 2 1-2 1 3 0-5 1 3 0-4 1 2 1 0 0 4 1-2 0 0 1-2 0 6 1-6 1 4 0-5 1 2 0 0 1-1 1 1 0 2 1-1 0-1 1 1 1 4 0-7 1 1 0 2 1 2 1 0 0-4 1-2 0 2 1 3 0-2 1 2 1 2 0-4 1 0 0 3 1-4 1 3 0-1 1-1 0 0 1 2 1-6 0 8 1-2 0 1 1-1 1 1 0-4 1 5 0-1 1-1 1 0 0-4 1 2 0-2 1 3 0-3 1 3 1 4 0-1 1-5 0 3 1 1 1-2 0 0 1 0 0-2 1 2 1 1 0-1 1 1 0 3 1-3 1-5 0 3 1-3 0 1 1 5 1-2 0-2 1 1 0-1 1 0 0 2 1 0 1 3 0 0 1-3 0 2 1-3 1 0 0 5 1 1 0-11 1 3 1 7 0-10 1 5 0-3 1 3 1 0 0-1 1-1 0 0 1-6 0-1 1-2 1 0 0-1 1-5 0 3 1-7 1 5 0 2 1 3 0 1 1 1 1 7 0 1 1-1 0 2 1 2 1-2 0-2 1 6 0-1 1-3 1 2 0-1 1-2 0 3 1-3 0 1 1 1 1 3 0-7 1 4 0 0 1 3 1 1 0-6 1 5 0-3 1-3 1 4 0-2 1 0 0-2 1 0 1 5 0-5 1 2 0-1 1 1 1 2 0 1 1-1 0 1 1-5 0 1 1-2 1 4 0-2 1 2 0 3 1-5 1-3 0 9 1 1 0-5 1 2 1-2 0 1 1-4 0 5 1-6 1 7 0-1 1 1 0-1 1-1 0-5 1 5 1 1 0 0 1-3 0 2 1 0 1-1 0 2 1-5 0 6 1-5 1 3 0-2 1 2 0 1 1-3 1 5 0-7 1-1 0 1 1 3 1 0 0 2 1-1 0-2 1 4 0-4 1-1 1 0 0 5 1 1 0-1 1-7 1 3 0-2 1 4 0-1 1 2 1-6 0 3 1 4 0-1 1 0 1-3 0 2 1-3 0 7 1-6 1-3 0 4 1 1 0-3 1-1 0 1 1-2 1 4 0-1 1-3 0 3 1 2 1-2 0-2 1 1 0 3 1-3 1 5 0-3 1 4 0-5 1 1 1-3 0-1 1 2 0 0 1 0 0 4 1 0 1-5 0-4 1 5 0 1 1-2 1-7 0 2 1-4 0-4 1-5-2 0 1-5 3-1 1-1 0-2 3 3-3-3-1 10 3 3 1 4 1 1 0 1 1 4 0 5 1 0 0-2 1-2 1 5 0 0 1 0 0 1 1 0 1-2 0 2 1 2 0 1 1-2 1-1 0-3 1 2 0-1 1-7 1 0 0-6 1-2 0-3 5-3-2-1-1-1 1-4 0-5 6 3-7 6 3 5 1 0 0 7 1 5 0-2 1 5 1 0 0 8 1-8 0 5 1-2 1 0 0 4 1-2 0-2 1 6 1-1 0-6 1 6 0-1 1-1 0-2 1 0 1 1 0 2 1 0 0 1 1 1 1 0 0-3 1-2 0 1 1 1 1-1 0-2 1 3 0-1 1-1 1 3 0-1 1 1 0 1 1-3 1 2 0 1 1 2 0-5 1 2 0-2 1 1 1-3 0-2 1 5 0-4 1 5 1-2 0 6 1-5 0-2 1 1 1 0 0-2 1 3 0 4 1-5 1 1 0-2 1 1 0-1 1 1 1-2 0-1 1 3 0 0 1-1 0 3 1-6 1 4 0 1 1-3 0 4 1 3 1-7 0 2 1 4 0-4 1 0 1 0 0 3 1-4 0 2 1-2 1 3 0-5 1 3 0 2 1-1 0-2 1 2 1 1 0-4 1 5 0-3 1-2 1-1 0 2 1 3 0-2 1-1 1 6 0-1 1-6 0 1 1 4 1-7 0 8 1-3 0-3 1 4 1-5 0 7 1-8 0 4 1 1 0 0 1-1 1 4 0-3 1-5 0 1 1 4 1-4 0 8 1-8 0 1 1 3 1 1 0 0 1-2 0-1 1-2 1-4 0 2 1-4 0-2 1-2 1-4 0-3 9-5-5-1-8-5 6 5 1-4-4 8 5 3 1 1 0 5 1 8 1-2 0 1 1 0 0 5 1 0 1 2 0-2 1 1 0-1 1 0 1-1 0-2 1 4 0-1 1-2 0 3 1 1 1 2 0-2 1-2 0 5 1-5 1 1 0 4 1-3" fill="none" stroke="none" marker-start="url(#mx)" marker-mid="url(#mx)" marker-end="url(#mx)"/>
<path transform="scale(.1)" d="M2184,2595l1 0 1 0 0 0 1 0 0 0 1 0 1 0 0 0 1 0 0 0 1 0 1 0 0 0 1 1 0 0 1 0 0 0 1 0 1 0 0 0 1 0 0 0 1 0 1 0 0 0 1 0 0 0 1 0 1 0 0 0 1 0 0 0 1 0 1 0 0 0 1 0 0 0 1 0 1 0 0 0 1 0 0 0 1 0 0 0 1 1 1 0 0 0 1 0 0 0 1 0 1 0 0 0 1 0 0 0 1 0 1 0 0 0 1 0 0 0 1-1 1 0 0 0 1 0 0 0 1 0 0 0 1 0 1 0 0 0 1-1 0 0 1 0 1-1 0 0 1-1 0-1 1-1 1-2 0-4 1-5 0-9 1-12 1-17 0-19 1-20 0-18 1-9 1 2 0 13 1 19 0 21 1 18 0 15 1 11 1 8 0 4 1 3 0 2 1 2 1 0 0 1 1 1 0 0 1 0 1 1 0 0 1 0 0 1 1 0 1 0 0 0 1 0 0 0 1 0 0 1 1 0 1 0 0 0 1 0 0 0 1 0 1 0 0 0 1 0 0 0 1 0 1 0 0 0 1 1 0 0 1 0 1 0 0 0 1 0 0 0 1 0 1 0 0 0 1 0 0 0 1 0 0 0 1 0 1 0 0 0 1 0 0 0 1 0 1 0 0 0 1 0 0 1 1 0 1 0 0 0 1 0 0 0 1 0 1 0 0 0 1 0 0 0 1 0 1 0 0 0 1 0 0 0 1 0 0 0 1 0 1 0 0 0 1 0 0 0 1 0 1 0 0 0 1 0 0 0 1 0 1 0 0 1 1 0 0 0 1 0 1 0 0 0 1 0 0 0 1 0 0 0 1 0 1 0 0 0 1 0 0 0 1 0 1 0 0 0 1 0 0 0 1 0 1 0 0 0 1 0 0 0 1 0 1 0 0 0 1 0 0 0 1 0 1 0 0 0 1 1 0 0 1 0 0 0 1 0 1 0 0 0 1 0 0 0 1 0 1 0 0 0 1 0 0 0 1 0 1 0 0 0 1 0 0 0 1 0 1 0 0 0 1 0 0 0 1 0 1 0 0 0 1 0 0 0 1 0 0 0 1 0 1 0 0 0 1 0 0 0 1 0 1 0 0 0 1 0 0 1 1 0 1 0 0 0 1 0 0 0 1 0 1 0 0 0 1 0 0 0 1 0 0 0 1 0 1 0 0 0 1 0 0 0 1 0 1 0 0 0 1 0 0 0 1 0 1 0 0 0 1 0 0 0 1 0 1 0 0 0 1 0 0 0 1 0 1 0 0 0 1 0 0 0 1 0 0 0 1 0 1 0 0 0 1 0 0 0 1 1 1 0 0 0 1 0 0 0 1 0 1 0 0 0 1 0 0 0 1 0 1 0 0 0 1 0 0 0 1 0 1 0 0 0 1 0 0 0 1 0 0 0 1 0 1 0 0 0 1 0 0 0 1 0 1 0 0 0 1 0 0 0 1 0 1 0 0 0 1 0 0 0 1 0 1 0 0 0 1 0 0 0 1 0 0 0 1 0 1 0 0 0 1 0 0 0 1 0 1 0 0 0 1 0 0 0 1 0 1 0 0 0 1 0 0 0 1 0 1 0 0 0 1 0 0 0 1 0 1 0 0 0 1 0 0 0 1 0 0 0 1 0 1 0 0 0 1 0 0 0 1 0 1 0 0 0 1 0 0 0 1 0 1 0 0 0 1 0 0 0 1 0 1 0 0 0 1 0 0 0 1 0 1 0 0 0 1 0 0 0 1 0 0 0 1 0 1 0 0 0 1 0 0 0 1 0 1 0 0 0 1 0 0 0 1 0 1 0 0 0 1 0 0 0 1 0 1 0 0 0 1 0 0 0 1-1 0 0 1 0 1 0 0 0 1 0 0 0 1 0 1-1 0 0 1 0 0 0 1-1 1 0 0 0 1 0 0-1 1 0 1-1 0 0 1-1 0-1 1-1 1-1 0-1 1-1 0-2 1-2 0-3 1-3 1-5 0-7 1-10 0-18 1-27 1-42 0-60 1-79 0-94 1-99 1-84 0-46 1 11 0 64 1 93 1 99 0 89 1 71 0 53 1 36 1 23 0 15 1 9 0 5 1 5 0 3 1 2 1 2 0 2 1 1 0 1 1 1 1 1 0 1 1 0 0 1 1 1 1 0 0 0 1 1 0 0 1 0 1 1 0 0 1 0 0 0 1 1 0 0 1 0 1 0 0 0 1 0 0 1 1 0 1 0 0 0 1 0 0 0 1 0 1 0 0 0 1 0 0 1 1 0 1 0 0 0 1 0 0 0 1 0 1 0 0 0 1 0 0 0 1 0 0 0 1 0 1 0 0 0 1 0 0 0 1 0 1 0 0 0 1 0 0 1 1 0 1 0 0 0 1 0 0 0 1 0 1 0 0 0 1 0 0 0 1 0 1 0 0 0 1 0 0 0 1 0 0 0 1 0 1 0 0 0 1 0 0 0 1 0 1 0 0 0 1 0 0 0 1 0 1 0 0 0 1 0 0 0 1 0 1 0 0 0 1 0 0 0 1 0 0 0 1 0 1 0 0 0 1 0 0 0 1 0 1 0 0 1 1 0 0 0 1 0 1 0 0 0 1 0 0 0 1 0 1 0 0 0 1 0 0 0 1 0 1 0 0 0 1 0 0 0 1 0 0 0 1 0 1 0 0 0 1 0 0 0 1 0 1 0 0 0 1 0 0 0 1 0 1 0 0 0 1 0 0 0 1 0 1 0 0 0 1 0 0 0 1 0 1 0 0 0 1 0 0 0 1 0 0 0 1 0 1 0 0 0 1 0 0 0 1 0 1 0 0 0 1 0 0 0 1 0 1 0 0 0 1 0 0 0 1 0 1 0 0 0 1 0 0 0 1 0 0 0 1 0 1 0 0 0 1 0 0 0 1 0 1 0 0 0 1 0 0 0 1 0 1 0 0 0 1 0 0 0 1 0 1 0 0 0 1 0 0 0 1 0 1 0 0 0 1 0 0 0 1 0 0 0 1 0 1 0 0 0 1 0 0 0 1 0 1 0 0 0 1 0 0 0 1 0 1 0 0 0 1 0 0 0 1 0 1 0 0 0 1 0 0 0 1 0 0 0 1 0 1 0 0 0 1 0 0 0 1 0 1 0 0 0 1 0 0 0 1 0 1 0 0 0 1 0 0 0 1 0 1 0 0 0 1 0 0 0 1 0 1 0 0 0 1 0 0 0 1 0 0 0 1 0 1 0 0 0 1-1 0 0 1 0 1 0 0 0 1 0 0 0 1-1 1 0 0 0 1-1 0 0 1 0 1-1 0-1 1-1 0-1 1-1 1-3 0-3 1-6 0-10 1-14 0-20 1-27 1-32 0-34 1-28 0-16 1 4 1 22 0 31 1 34 0 30 1 24 1 18 0 13 1 8 0 4 1 4 1 2 0 1 1 1 0 1 1 0 0 1 1 0 1 1 0 0 1 0 0 1 1 0 1 0 0 0 1 1 0 0 1 0 1 0 0 0 1 0 0 0 1 0 1 0 0 0 1 1 0 0 1 0 1 0 0 0 1 0 0 0 1 0 0 0 1 0 1 0 0 0 1 0 0 0 1 0 1 0 0 0 1 0 0 0 1 0 1 0 0 0 1 0 0 0 1 0 1 0 0 0 1 0 0 0 1 0 1 0 0 0 1 0 0 0 1 0 0 0 1 0 1 0 0 0 1 1 0 0 1 0 1 0 0 0 1 0 0 0 1 0 1 0 0 0 1 0 0 0 1 0 1 0 0 0 1 0 0 0 1 0 0 0 1 0 1 0 0 0 1 0 0 0 1 0 1 0 0 0 1 0 0 0 1 0 1 0 0 0 1 0 0 0 1 0 1 0 0 0 1 0 0 0 1 0 1 0 0 0 1 0 0 0 1 0 0 0 1 0 1 0 0 0 1 0 0 0 1 0 1 0 0 0 1 0 0 0 1 0 1 0 0 0 1 0 0 0 1 0 1 0 0 0 1 0 0 0 1 0 1 0 0 0 1 0 0 0 1 0 0 0 1 0 1 0 0 0 1 0 0 0 1 0 1 0 0 0 1 0 0 0 1 0 1 0 0 0 1 0 0 0 1 0 1 0 0 0 1 0 0 0 1 0 0 0 1 0 1 0 0 0 1 0 0 0 1 0 1 0 0 0 1 0 0 0 1 0 1 0 0 0 1 0 0 0 1 0 1 0 0 0 1 0 0 0 1 0 1 0 0 0 1 0 0 0 1 0 0 0 1 0 1 0 0 0 1 0 0 0 1 0 1 0 0 0 1 0 0 0 1 0 1 0 0 0 1 0 0 0 1 0 1 0 0 0 1 0 0-1 1 0 1 0 0 0 1 0 0 0 1 0 0 0 1 0 1 0 0 0 1-1 0 0 1 0 1 0 0-1 1 0 0 0 1-1 1-1 0-1 1-1 0-2 1-2 1-5 0-7 1-11 0-16 1-20 0-25 1-25 1-22 0-12 1 3 0 16 1 25 1 25 0 23 1 19 0 14 1 9 1 6 0 4 1 2 0 2 1 1 1 1 0 0 1 1 0 0 1 1 1 0 0 0 1 0 0 1 1 0 0 0 1 0 1 0 0 0 1 0 0 0 1 1 1 0 0 0 1 0 0 0 1 0 1 0 0 0 1 0 0 0 1 0 1 0 0 0 1 0 0 0 1 0 1 0 0 0 1 0 0 0 1 0 0 0 1 0 1 0 0 0 1 0 0 0 1 0 1 0 0 0 1 0 0 0 1 0 1 0 0 1 1 0 0 0 1 0 1 0 0 0 1 0 0 0 1 0 0 0 1 0 1 0 0 0 1 0 0 0 1 0 1 0 0 0 1 0 0 0 1 0 1 0 0 0 1 0 0 0 1 0 1 0 0 0 1 0 0 0 1 0 1 0 0 0 1 0 0 0 1 0 0 0 1 0 1 0 0 0 1 0 0 0 1 0 1 0 0 0 1 0 0 0 1 0 1 0 0 0 1 0 0 0 1 0 1 0 0 0 1 0 0 0 1 0 1 0 0 0 1 0 0 0 1 0 0 0 1 0 1 0 0 0 1 0 0 0 1 0 1 0 0 0 1 0 0 0 1 0 1 0 0 0 1 0 0 0 1 0 1 0 0 0 1 0 0 0 1 0 0 0 1 0 1 0 0 0 1 0 0 0 1 0 1 0 0 0 1 0 0 0 1 0 1 0 0 0 1 0 0 0 1 0 1 0 0 0 1 0 0 0 1 0 1 0 0 0 1 0 0 0 1 0 0 0 1 0 1 0 0 0 1 0 0 0 1 0 1 0 0 0 1 0 0 0 1 0 1 0 0 0 1 0 0 0 1 0 1 0 0 0 1 0 0 0 1 0 1-1 0 0 1-1 0-2 1-1 0-3 1-3 1-3 0-3 1-3 0-3 1-2 1-1 0 1 1 1 0 2 1 3 1 3 0 4 1 3 0 2 1 2 1 2 0 1 1 1 0 0 1 1 0 0 1 0 1 0 0 0 1 0 0 0 1 0 1 0 0 0 1-1 0 0 1-1 1-2 0-1 1-3 0-2 1-4 1-3 0-3 1-3 0-2 1 0 1 0 0 1 1 2 0 3 1 3 0 4 1 3 1 2 0 2 1 2 0 1 1 1 1 1 0 0 1 0 0 0 1 0 1 0 0 0 1 0 0 0 1 0 1 0 0 0 1 0 0 0 1 0 1 0 0 0 1 0 0 0 1 0 0 0 1 0 1 0 0 0 1 0 0 0 1 0 1 0 0 0 1 0 0 0 1 0 1 0 0 0 1 0 0 0 1 0 1 0 0 0 1 0 0 0 1 0 0 0 1 0 1 0 0 0 1 0 0 0 1 0 1 0 0 0 1 0 0 0 1 0 1 0 0 0 1 0 0 0 1 0 1 0 0 0 1 0 0 0 1 0 1 0 0 0 1 0 0 0 1 0 0 0 1 0 1 0 0 0 1 0 0 0 1 0 1 0 0 0 1 0 0 0 1 0 1 0 0 0 1 0 0 0 1 0 1 0 0 0 1 0 0 0 1 0 0 0 1 0 1 0 0 0 1 0 0 0 1 0 1 0 0 0 1 0 0 0 1 0 1 0 0 0 1 0 0 0 1 0 1 0 0 0 1 0 0 0 1 0 1 0 0 0 1 0 0 0 1 0 0 0 1 0 1 0 0 0 1 0 0 0 1 0 1 0 0 0 1 0 0 0 1 0 1 0 0 0 1 0 0 0 1 0 1 0 0 0 1 0 0 0 1 0 1 0 0 0 1 0 0 0 1 0 0 0 1 0 1 0 0 0 1 0 0-1 1 0 1 0 0 0 1 0 0 0 1 0 1 0 0 0 1 0 0-1 1 0 1 0 0 0 1-1 0 0 1-1 0 0 1-1 1-1 0-1 1-2 0-3 1-4 1-8 0-11 1-16 0-20 1-25 1-27 0-22 1-12 0 3 1 17 1 24 0 27 1 23 0 19 1 14 1 10 0 6 1 4 0 2 1 2 0 1 1 1 1 0 0 1 1 0 0 0 1 1 1 0 0 0 1 0 0 1 1 0 1 0 0 0 1 0 0 0 1 0 1 0 0 0 1 1 0 0 1 0 1 0 0 0 1 0 0 0 1 0 0 0 1 0 1 0 0 0 1 0 0 0 1 0 1 0 0 0 1 0 0 0 1 0 1 0 0 0 1 0 0 0 1 0 1 0 0 0 1 0 0 0 1 0 0 0 1 0 1 0 0 0 1 0 0 0 1 0 1 0 0 0 1 0 0 0 1 0 1 0 0 0 1 0 0 0 1 0 1 0 0 0 1 0 0 0 1 0 1 0 0 0 1 0 0 0 1 0 0 0 1 0 1 0 0 0 1 0 0 0 1 1 1 0 0 0 1 0 0 0 1 0 1 0 0 0 1 0 0 0 1 0 1 0 0 0 1 0 0 0 1 0 1 0 0 0 1 0 0 0 1 0 0 0 1 0 1 0 0 0 1 0 0 0 1 0 1 0 0 0 1 0 0 0 1 0 1 0 0 0 1 0 0 0 1 0 1 0 0 0 1 0 0 0 1 0 0 0 1 0 1 0 0 0 1 0 0 0 1 0 1 0 0 0 1 0 0 0 1 0 1 0 0 0 1 0 0 0 1 0 1 0 0 0 1 0 0 0 1 0 1 0 0 0 1 0 0 0 1 0 0 0 1 0 1 0 0 0 1 0 0 0 1 0 1 0 0 0 1 0 0 0 1 0 1 0 0 0 1 0 0 0 1 0 1 0 0 0 1 0 0 0 1 0 1 0 0 0 1 0 0 0 1 0 0 0 1 0 1 0 0 0 1 0 0 0 1 0 1 0 0 0 1 0 0 0 1 0 1 0 0 0 1 0 0 0 1 0 1 0 0 0 1 0 0 0 1 0 0 0 1 0 1 0 0 0 1 0 0 0 1 0 1 0 0 0 1 0 0 0 1 0 1 0 0 0 1 0 0 0 1 0 1 0 0 0 1 0 0 0 1 0 1 0 0 0 1 0 0 0 1 0 0 0 1 0 1 0 0 0 1 0 0 0 1 0 1 0 0 0 1 0 0 0 1 0 1 0 0 0 1 0 0 0 1 0 1 0 0 0 1 0 0 0 1 0 1 0 0 0 1 0 0 0 1 0 0 0 1 0 1 0 0 0 1 0 0 0 1 0 1 0 0 0 1 0 0 0 1 0 1 0 0 0 1 0 0 0 1 0 1 0 0 0 1 0 0 0 1 0 0 0 1 0 1 0 0 0 1 0 0 0 1 0 1 0 0 0 1 0 0 0 1 0 1 0 0 0 1 0 0 0 1 0 1 0 0 0 1 0 0 0 1 0 1 0 0 0 1 0 0 0 1 0 0 0 1 0 1 0 0 0 1 0 0 0 1 0 1 0 0 0 1 0 0 0 1 0 1 0 0 0 1 0 0 0 1 0 1 0 0 0 1 0 0 0 1 0 1 0 0 0 1 0 0 0 1 0 0 0 1 0 1 0 0 0 1 0 0-1 1 0 1 0 0 0 1 0 0 0 1 0 1 0 0 0 1 0 0 0 1 0 1 0 0 0 1 0 0 0 1 0 0 0 1 0 1 0 0 0 1-1 0 0 1 0 1 0 0 0 1-1 0 0 1-1 1 0 0-2 1-2 0-3 1-5 1-8 0-9 1-12 0-12 1-10 1-6 0 2 1 8 0 11 1 12 0 11 1 8 1 7 0 4 1 3 0 2 1 1 1 1 0 0 1 1 0 0 1 0 1 0 0 0 1 1 0 0 1 0 1 0 0 0 1 0 0 0 1 0 1 0 0 0 1 0 0 0 1 0 0 0 1 0 1 0 0 0 1 0 0 0 1 1 1 0 0 0 1 0 0 0 1 0 1 0 0 0 1 0 0 0 1 0 1 0 0 0 1 0 0 0 1 0 0 0 1 0 1 0 0 0 1 0 0 0 1 0 1 0 0 0 1 0 0 0 1 0 1 0 0 0 1 0 0 0 1 0 1 0 0 0 1 0 0 0 1 0 1 0 0 0 1 0 0 0 1 0 0 0 1 0 1 0 0 0 1 0 0 0 1 0 1 0 0 0 1 0 0 0 1 0 1 0 0 0 1 0 0 0 1 0 1 0 0 0 1 0 0 0 1 0 0 0 1 0 1 0 0 0 1 0 0 0 1 0 1 0 0 0 1 0 0 0 1 0 1 0 0 0 1 0 0 0 1 0 1 0 0 0 1 0 0 0 1 0 1 0 0 0 1 0 0 0 1 0 0 0 1 0 1 0 0 0 1 0 0 0 1 0 1 0 0 0 1 0 0 0 1 0 1 0 0 0 1 0 0 0 1 0 1 0 0 0 1 0 0 0 1 0 1 0 0 0 1 0 0 0 1 0 0 0 1 0 1 0 0 0 1 0 0 0 1 0 1 0 0 0 1 0 0 0 1 0 1 0 0 0 1 0 0-1 1 0 1 0 0-1 1-1 0-1 1-1 0-2 1-2 1-1 0-2 1-1 0 0 1 0 1 1 0 1 1 1 0 2 1 2 1 1 0 1 1 1 0 1 1 1 1 0 0 1 1 0 0 0 1 0 1 0 0 0 1 0 0 0 1 0 0 0 1 0 1 0 0 0 1 0 0 0 1 0 1 0 0 0 1 0 0 0 1 0 1 0 0 0 1 0 0 0 1 0 1 0 0 0 1 0 0 0 1 0 1 0 0 0 1 0 0 0 1 0 0 0 1 0 1 0 0 0 1 0 0 0 1 0 1 0 0 0 1 0 0 0 1 0 1 0 0 0 1 0 0 0 1 0 1 0 0 0 1 0 0 0 1 0 0 0 1 0 1 0 0 0 1 0 0 0 1 0 1 0 0 0 1 0 0 0 1 0 1 0 0 0 1 0 0 0 1 0 1 0 0 0 1 0 0 0 1 0 1 0 0 0 1 0 0 0 1 0 0 0 1 0 1 0 0 0 1 0 0 0 1 0 1 0 0 0 1 0 0 0 1 0 1 0 0 0 1 0 0 0 1 0 1 0 0 0 1 0 0 0 1 0 1 0 0 0 1 0 0 0 1 0 0 0 1 0 1 0 0 0 1 0 0 0 1 0 1 0 0 0 1 0 0 0 1 0 1 0 0 0 1 0 0 0 1 0 1 0 0 0 1 0 0 0 1 0 0 0 1 0 1-1 0 0 1-1 0-1 1-1 1-2 0-2 1-3 0-3 1-4 1-3 0-2 1-2 0-1 1 0 1 1 0 2 1 3 0 4 1 3 1 3 0 3 1 2 0 2 1 1 0 1 1 0 1 1 0 0 1 0 0 0 1 0 1 0 0 0 1 0 0 0 1-1 1 0 0-1 1-1 0-1 1-2 1-2 0-3 1-3 0-4 1-3 1-2 0-2 1-1 0 0 1 1 0 2 1 3 1 4 0 3 1 3 0 3 1 2 1 2 0 1 1 1 0 0 1 1 1 0 0 0 1 0 0 0 1 0 1 0 0 0 1 0 0 0 1 0 0 0 1 0 1 0 0 0 1 0 0 0 1 0 1 0 0 0 1 0 0 0 1 0 1 0 0 0 1 0 0 0 1 0 1 0 0 0 1 0 0 0 1 0 1 0 0 0 1 0 0 0 1 0 0 0 1 0 1 0 0 0 1 0 0 0 1 0 1 0 0 0 1 0 0 0 1 0 1 0 0 0 1 0 0 0 1 0 1 0 0 0 1 0 0 0 1 0 1 0 0 0 1 0 0 0 1 0 0 0 1 0 1 0 0 0 1 0 0 0 1 0 1 0 0 0 1 0 0 0 1 0 1 0 0 0 1 0 0 0 1 0 1 0 0 0 1 0 0 0 1 0 0 0 1 0 1 0 0 0 1 0 0 0 1 0 1 0 0 0 1 0 0 0 1 0 1 0 0 0 1 0 0 0 1 0 1 0 0 0 1 0 0 0 1 0 1 0 0 0 1 0 0 0 1 0 0 0 1 0 1 0 0 0 1 0 0 0 1 0 1 0 0 0 1 0 0 0 1 0 1 0 0-1 1 0 0 0 1-1 1-1 0-2 1-2 0-3 1-2 1-3 0-3 1-2 0-2 1-1 0 0 1 1 1 2 0 3 1 3 0 3 1 2 1 3 0 2 1 1 0 1 1 1 1 0 0 1 1 0 0 0 1 0 1 0 0 0 1 0 0 0 1 0 0 0 1 0 1 0 0 0 1 0 0 0 1 0 1 0 0 0 1 0" fill="none" stroke="#d07814" stroke-width="9"/>
<path transform="scale(.1)" d="M2184,2595l12 1 12 1 12 1 11 0 12 1 12 1 12 0 12 1 12 1 11 0 12 1 12 0 12 1 12 0 12 0 11 1 12 0 12 1 12 0 12 0 12 1 12 0 11 0 12 1 12 0 12 0 12 0 12 1 11 0 12 0 12 0 12 0 12 1 12 0 11 0 12 0 12 0 12 0 12 0 12 1 12 0 11 0 12 0 12 0 12 0 12 0 12 0 11 0 12 0 12 1 12 0 12 0 12 0 11 0 12 0 12 0 12 0 12 0 12 0 11 0 12 0 12 0 12 0 12 0 12 0 12 0 11 0 12 0 12 0 12 0 12 0 12 1 11 0 12 0 12 0 12 0 12 0 12 0 11 0 12 0 12 0 12 0 12 0 12 0 12 0 11 0 12 0 12 0 12 0 12 0 12 0 11 0 12 0 12 0 12 0 12 0 12 0 11 0 12 0 12 0 12 0 12 0 12 0 12 0 11 0 12 0 12 0 12 0 12 0 12 0 11 0 12 0 12 0 12 0 12 0 12 0 11 0 12 0 12 0 12 0" fill="none" stroke="#2a6a8a" stroke-width="7"/>
<line x1="223.61" y1="271.8" x2="223.61" y2="275.2" stroke="#cf8af5" stroke-width="1.15"/>
<line x1="245.64" y1="271.8" x2="245.64" y2="275.2" stroke="#cf8af5" stroke-width="1.15"/>
<line x1="263.16" y1="271.8" x2="263.16" y2="275.2" stroke="#cf8af5" stroke-width="1.15"/>
<line x1="277.61" y1="271.8" x2="277.61" y2="275.2" stroke="#cf8af5" stroke-width="1.15"/>
<line x1="278.56" y1="271.8" x2="278.56" y2="275.2" stroke="#cf8af5" stroke-width="1.15"/>
<line x1="291.34" y1="271.8" x2="291.34" y2="275.2" stroke="#cf8af5" stroke-width="1.15"/>
<line x1="303.9" y1="271.8" x2="303.9" y2="275.2" stroke="#cf8af5" stroke-width="1.15"/>
<line x1="326.87" y1="271.8" x2="326.87" y2="275.2" stroke="#cf8af5" stroke-width="1.15"/>
<line x1="337.76" y1="271.8" x2="337.76" y2="275.2" stroke="#cf8af5" stroke-width="1.15"/>
<line x1="347.71" y1="271.8" x2="347.71" y2="275.2" stroke="#cf8af5" stroke-width="1.15"/>
<line x1="348.9" y1="271.8" x2="348.9" y2="275.2" stroke="#cf8af5" stroke-width="1.15"/>
<line x1="358.61" y1="271.8" x2="358.61" y2="275.2" stroke="#cf8af5" stroke-width="1.15"/>
<path transform="scale(.1)" d="M2184,2776l2 0 2 1 2-1 2 0 1 1 2-1 2 0 2-1 2 2 2 0 2-1 2 0 2-1 2 1 1 0 2 0 2 0 2-1 2 2 2-1 2 0 2 0 0 0 1-1 0 0 1 1 0 1 1 0 0 0 0 0 1-1 0 0 1 0 0 0 1 0 0-1 1 1 0 0 1-2 0-3 1-4 0-3 1-4 0 6 1 7 0 9 1 5 0-1 0-3 1-4 0-3 1-1 0 0 1 2 0-1 1 1 0-2 1 0 0 1 1 0 0-1 1 2 0-1 1 0 0 0 1 0 0 0 0 0 1 1 0-2 2 1 2 0 2 0 2 0 2-1 2 2 2 0 2-3 1 1 2 2 2 0 2-3 2 2 2 1 2 0 2-1 2 1 2-1 1-1 2 2 2-2 2 2 2-1 2 0 2 0 2 0 2-1 1 1 2-1 2 2 2-1 2-2 2 3 2-1 2 1 2 0 2-1 1 0 2 0 2 0 2 0 2-1 2 0 2 1 2 1 2-1 1-1 2 2 2 0 2 0 2-2 2 1 2 1 2-3 2 1 2 3 1-3 2 0 2 1 2 0 2 1 2-1 2-1 2 1 2-2 1 2 2 1 2 0 2-2 2 1 2-1 2 2 2-2 2 1 2 0 1 1 2-2 2 1 2-1 2 2 2-2 2 1 2 0 2 1 1-1 2 0 2 0 2-1 2 2 2 0 2-1 2 0 2-1 2 0 1 1 2 0 2 0 2-1 2 1 2-1 2 2 2-1 2 1 1-2 1 1 0 2 1-2 0 1 1-2 0 1 1-1 0 1 1-1 0 4 1-4 0 2 1-1 0 1 1-1 0 0 1-2 0-7 0-16 1-30 0-33 1-12 0 21 1 49 0 44 1 22 0 0 1-12 0-13 1-8 0-3 1-2 0 1 1 2 0-1 1 1 0-1 0 0 1 0 0 0 1 1 0-2 1 2 0-1 1 0 0 0 1 2 0 0 1-2 2 1 1-1 2-1 2 2 2-2 2 1 2 0 2-2 2 1 2 2 2-1 1 0 2 0 2 0 2 1 2-1 2-2 2 2 2 1 2-3 1 2 2 0 2 1 2-2 2 0 2 1 2-1 2 2 2 0 2-1 1 1 2 0 2 0 2-1 2 1 2-1 2-1 2 1 2 0 1 0 2 2 2-4 2 1 2 0 2 1 2 1 2 0 2 0 2-2 1 1 2 0 2-2 2 2 2 0 2 1 2-1 2-1 2 2 1-1 2 0 2-2 2 1 2 2 2-1 2 0 2-1 2 1 2 1 1-3 2 3 2-2 2 2 2-1 2 0 2-1 2 2 2 0 1 0 2 0 2 0 1-1 0 0 1 0 0-1 1 1 0-1 1 0 0 1 1 1 0-1 0-1 1 2 0-1 1 0 0 0 1-1 0 2 1-2 0-2 1-10 0-18 1-19 0-8 1 13 0 21 1 23 0 12 1 1 0-5 0-3 1-3 0-2 1 2 0-1 1 0 0-1 1 2 0 0 1-1 0 0 1-1 0 3 1-2 0 0 1 0 0-2 1 1 0 0 0 1 1 2 2-1 2-1 2-1 2 2 1-2 2 0 2 1 2 0 2 0 2-1 2 1 2 0 2-2 1 3 2-1 2 0 2 0 2-1 2 1 2 1 2-1 2-1 2 1 1 0 2 0 2 0 2 1 2-1 2 1 2-1 2-2 2 2 1 0 2 2 2-3 2 1 2 0 2-1 2 1 2-1 2 3 2-3 1 0 2 1 2-1 2 1 2 0 2 1 2-1 2 0 2 0 1-1 2 1 2-1 2 1 2 1 2 0 2 0 2-1 2 0 2 1 1-2 2 2 2-1 2 0 1 1 0 0 1-2 0 1 0 0 1-1 0 0 1 1 0-1 1 3 0 0 1-1 0-2 1 1 0-1 1 1 0-1 1 0 0-1 1-5 0-10 1-8 0-5 0 10 1 19 0 19 1 12 0-3 1-10 0-10 1-4 0-3 1-1 0 2 1-1 0 1 1-1 0 0 1-1 0 1 1 0 0-1 0 2 1 0 0-1 1 0 0 0 1 0 0 0 1-2 2 3 2 0 1-1 2-1 2 1 2 1 2 0 2-1 2 2 2-1 2-1 2 1 1-1 2 0 2-1 2 0 2 2 2-1 2 0 2-1 2 1 1 0 2 1 2-2 2 1 2 1 2-1 2 0 2 0 2 0 2 0 1 1 2-2 2 0 2 2 2 0 2-1 2-1 2 1 2 0 1 1 2 0 2-2 2 1 2 1 2-1 2 1 2 0 2 0 2 0 1 0 2-2 2 0 2 1 2 0 2 1 2-1 2-1 2 1 1-1 2 0 2 1 2 0 2 1 2-1 2 0 2 0 2 0 1 0 2-2 2 3 2 1 2-1 2-2 2 2 2-1 2 1 2-1 1-1 2 0 2 2 2 0 2-2 2 1 2 2 2-2 2 0 1 1 2-2 2 1 2-1 2 1 2 0 2-1 2 1 2 1 2-1 1 0 2-1 2 1 2 1 2-1 2 1 2-2 2 0 2 1 1 0 2-1 2 1 2 0 2 0 2 0 2-1 2 2 2-1 2-1 1-1 2 2 2-1 2 0 2 2 2-2 2 1 2-1 2 2 0-1 1 1 0-1 0 0 1 0 0 0 1 0 0 0 1 0 0-1 1 1 0 1 1-1 0 0 1 1 0-1 1-1 0 0 1-1 0-3 1-7 0-9 0 0 1 8 0 18 1 17 0 8 1-2 0-11 1-9 0-5 1-2 0-1 1 0 0-1 1 2 0-1 1-1 0 2 1-1 0 0 0 0 1 0 0 0 1 0 0 1 1-1 0-1 1 2 0 0 2-1 2 0 2 0 2 0 2-1 2 0 2 2 1-2 2 0 2 1 2-2 2 1 2 2 2-1 2 0 2 2 1-1 2 0 2-1 2 0 2 1 2-1 2 0 2 0 2 1 2-1 1 0 2 0 2 0 2 0 2 0 2 1 2-2 2-1 2 1 1 1 2 0 2-1 2 1 2 0 2-1 2 2 2-1 2 0 2 0 1 0 2 1 2-3 2 3 2 0 2-1 2 2 2-2 2 0 1 0 2 1 2-2 2 0 2 0 2 2 2-1 2-2 2 3 2 0 1 0 2-2 2 1 2 1 2 0 2-2 2 2 2 0 2-1 1 0 2 0 2 0 2-1 2 1 2 1 2 0 2-1 2 2 2-2 1 0 2 1 2-1 2 0 2 2 2 0 2-3 2 2 2-1 1 1 2-1 2 2 2-3 2 1 2 0 2 0 2 0 2 1 2 0 1-2 2 2 2-1 2-1 2 0 2 1 2 1 0-1 1 0 0-1 1-1 0 3 1 1 0-3 1 0 0 2 1 0 0 0 0 0 1-2 0 1 1 0 0 1 1-2 0-2 1 1 0-5 1-3 0-2 1 3 0 8 1 5 0 3 1 0 0-3 1-3 0 1 0-2 1-1 0 0 1 1 0-2 1 3 0-1 1 1 0-1 1 0 0-1 1 1 0-2 1 3 0-1 1 0 0 2 1-3 0 2 2 0 2-1 2 0 2 1 1-3 2 3 2-2 2 2 2-1 2-1 2 1 2-1 2-1 2 1 1 1 2-2 2 1 2 2 2 0 2 0 2 1 2-2 2 1 1-2 2 1 2-2 2 1 2 1 2 1 2-2 2 2 2 0 2-1 1 0 2 0 2 0 2 1 2-2 2 1 2-1 2 1 2 0 1-1 2 2 2 0 2 0 2 0 2 0 2 0 2-1 2-1 2 0 1 0 2 1 2 0 2 0 2-1 2 1 2 1 2-2 2 1 1 0 2-1 2 1 2 0 2 0 2 1 2-1 2 1 2 0 2-1 1-2 2 1 2 0 2 0 2 2 2-1 2 0 2 0 2-2 1 2 2-1 2 2 2-1 2 0 2-1 2 1 2 0 2 0 2 2 1-1 2 0 2 0 2-2 2 1 2 0 2 1 2-1 2 0 1 0 2-1 2 1 2-1 2 2 2-2 2 0 2 2 2-1 2 1 1-1 2 1 2 0 2-1 2 0 2 0 2 0 2-1 2 0 1 1 2 0 2 0 2 1 2-1 2 0 2 1 2 1 2-3 2 1 1 1 2-1 2 1 2 0 2 0 2 0 2-1 2 1 2 0 1-1 2 0 2 0 2-1 2 1 2 1 2-1 2 1 2-1 2 1 1-2 2 1 2 1 2 0 2-2 2 0 2 0 2 1 2-1 1 3 2-3 2 1 2 0 2-1 2 1 2 1 2-1 2-1 2 2 1 0 2-1 2-2 2 2 2 0" fill="none" stroke="#ff7f14" stroke-width="12"/>
</g>
<rect x="218.4" y="171.35" width="142.1" height="114.1" fill="none" stroke="#454545" stroke-width="0.9"/>
<line x1="218.4" y1="285.45" x2="218.4" y2="287.85" stroke="#454545" stroke-width="0.8"/>
<text x="218.4" y="294.35" font-size="6.7" font-weight="bold" text-anchor="middle" fill="#000">20</text>
<line x1="230.24" y1="285.45" x2="230.24" y2="286.85" stroke="#454545" stroke-width="0.8"/>
<line x1="242.08" y1="285.45" x2="242.08" y2="287.85" stroke="#454545" stroke-width="0.8"/>
<text x="242.08" y="294.35" font-size="6.7" font-weight="bold" text-anchor="middle" fill="#000">30</text>
<line x1="253.93" y1="285.45" x2="253.93" y2="286.85" stroke="#454545" stroke-width="0.8"/>
<line x1="265.77" y1="285.45" x2="265.77" y2="287.85" stroke="#454545" stroke-width="0.8"/>
<text x="265.77" y="294.35" font-size="6.7" font-weight="bold" text-anchor="middle" fill="#000">40</text>
<line x1="277.61" y1="285.45" x2="277.61" y2="286.85" stroke="#454545" stroke-width="0.8"/>
<line x1="289.45" y1="285.45" x2="289.45" y2="287.85" stroke="#454545" stroke-width="0.8"/>
<text x="289.45" y="294.35" font-size="6.7" font-weight="bold" text-anchor="middle" fill="#000">50</text>
<line x1="301.29" y1="285.45" x2="301.29" y2="286.85" stroke="#454545" stroke-width="0.8"/>
<line x1="313.13" y1="285.45" x2="313.13" y2="287.85" stroke="#454545" stroke-width="0.8"/>
<text x="313.13" y="294.35" font-size="6.7" font-weight="bold" text-anchor="middle" fill="#000">60</text>
<line x1="324.98" y1="285.45" x2="324.98" y2="286.85" stroke="#454545" stroke-width="0.8"/>
<line x1="336.82" y1="285.45" x2="336.82" y2="287.85" stroke="#454545" stroke-width="0.8"/>
<text x="336.82" y="294.35" font-size="6.7" font-weight="bold" text-anchor="middle" fill="#000">70</text>
<line x1="348.66" y1="285.45" x2="348.66" y2="286.85" stroke="#454545" stroke-width="0.8"/>
<line x1="360.5" y1="285.45" x2="360.5" y2="287.85" stroke="#454545" stroke-width="0.8"/>
<text x="360.5" y="294.35" font-size="6.7" font-weight="bold" text-anchor="middle" fill="#000">80</text>
<text x="289.75" y="307.75" font-size="9.9" font-weight="bold" text-anchor="middle" fill="#000">2 Theta (degree)</text>
<text x="218.8" y="176.55" font-size="6.1" font-weight="bold" text-anchor="start" fill="#000">BB1T</text>
<path d="M325.6,173.75l5.2,4.4m0,-4.4l-5.2,4.4" stroke="#30b4f0" stroke-width="0.9" fill="none"/>
<text x="336.2" y="177.95" font-size="6.7" font-weight="bold" text-anchor="start" fill="#000">y_obs</text>
<line x1="320.2" y1="183.95" x2="334.8" y2="183.95" stroke="#e0a858" stroke-width="1.2"/>
<text x="336.2" y="185.95" font-size="6.7" font-weight="bold" text-anchor="start" fill="#000">y_calc</text>
<line x1="320.2" y1="191.75" x2="334.8" y2="191.75" stroke="#9a9a9a" stroke-width="1.2"/>
<text x="336.2" y="193.75" font-size="6.7" font-weight="bold" text-anchor="start" fill="#000">y_bkg</text>
<line x1="320.2" y1="199.45" x2="334.8" y2="199.45" stroke="#ffb070" stroke-width="1.3"/>
<text x="336.2" y="201.45" font-size="6.7" font-weight="bold" text-anchor="start" fill="#000">Diff</text>
<line x1="328.2" y1="205.95" x2="328.2" y2="210.75" stroke="#c58cf0" stroke-width="0.8"/>
<text x="336.2" y="210.35" font-size="6.7" font-weight="bold">BaTiO<tspan font-size="4.4" dy="1.4">3</tspan></text>
<text x="320" y="219.75" font-size="6.8" font-weight="bold">R<tspan font-size="4.6" dy="1.5">wp</tspan><tspan dy="-1.5">=11.927 %</tspan></text>
<text x="320" y="229.75" font-size="6.9" font-weight="bold">X<tspan font-size="4.2" dy="-2.4">2</tspan><tspan dy="2.4">=1.13</tspan></text>
<text transform="translate(209 224.85) rotate(-90) scale(0.945 1)" font-size="10.2" font-weight="bold" text-anchor="middle">Intensity (a.u.)</text>
<text x="187.6" y="170.75" font-size="13" font-weight="normal" text-anchor="start" fill="#000">(e)</text>
<rect x="402.3" y="171" width="141.3" height="114.1" fill="none" stroke="#7c7c7c" stroke-width="0.9"/>
<line x1="402.3" y1="285.1" x2="403.9" y2="285.1" stroke="#7c7c7c" stroke-width="0.7"/>
<line x1="402.3" y1="275.59" x2="403.3" y2="275.59" stroke="#7c7c7c" stroke-width="0.7"/>
<text x="399.7" y="287" font-size="5.5" font-weight="bold" text-anchor="end" fill="#000">0.001</text>
<line x1="402.3" y1="266.08" x2="403.9" y2="266.08" stroke="#7c7c7c" stroke-width="0.7"/>
<line x1="402.3" y1="256.58" x2="403.3" y2="256.58" stroke="#7c7c7c" stroke-width="0.7"/>
<text x="399.7" y="267.98" font-size="5.5" font-weight="bold" text-anchor="end" fill="#000">0.002</text>
<line x1="402.3" y1="247.07" x2="403.9" y2="247.07" stroke="#7c7c7c" stroke-width="0.7"/>
<line x1="402.3" y1="237.56" x2="403.3" y2="237.56" stroke="#7c7c7c" stroke-width="0.7"/>
<text x="399.7" y="248.97" font-size="5.5" font-weight="bold" text-anchor="end" fill="#000">0.003</text>
<line x1="402.3" y1="228.05" x2="403.9" y2="228.05" stroke="#7c7c7c" stroke-width="0.7"/>
<line x1="402.3" y1="218.54" x2="403.3" y2="218.54" stroke="#7c7c7c" stroke-width="0.7"/>
<text x="399.7" y="229.95" font-size="5.5" font-weight="bold" text-anchor="end" fill="#000">0.004</text>
<line x1="402.3" y1="209.03" x2="403.9" y2="209.03" stroke="#7c7c7c" stroke-width="0.7"/>
<line x1="402.3" y1="199.53" x2="403.3" y2="199.53" stroke="#7c7c7c" stroke-width="0.7"/>
<text x="399.7" y="210.93" font-size="5.5" font-weight="bold" text-anchor="end" fill="#000">0.005</text>
<line x1="402.3" y1="190.02" x2="403.9" y2="190.02" stroke="#7c7c7c" stroke-width="0.7"/>
<line x1="402.3" y1="180.51" x2="403.3" y2="180.51" stroke="#7c7c7c" stroke-width="0.7"/>
<text x="399.7" y="191.92" font-size="5.5" font-weight="bold" text-anchor="end" fill="#000">0.006</text>
<line x1="402.3" y1="171" x2="403.9" y2="171" stroke="#7c7c7c" stroke-width="0.7"/>
<text x="399.7" y="172.9" font-size="5.5" font-weight="bold" text-anchor="end" fill="#000">0.007</text>
<line x1="410.7" y1="285.1" x2="410.7" y2="283.5" stroke="#7c7c7c" stroke-width="0.7"/>
<line x1="419" y1="285.1" x2="419" y2="284.1" stroke="#7c7c7c" stroke-width="0.7"/>
<text x="410.7" y="292.5" font-size="5.5" font-weight="bold" text-anchor="middle" fill="#000">0.8</text>
<line x1="427.3" y1="285.1" x2="427.3" y2="283.5" stroke="#7c7c7c" stroke-width="0.7"/>
<line x1="435.6" y1="285.1" x2="435.6" y2="284.1" stroke="#7c7c7c" stroke-width="0.7"/>
<text x="427.3" y="292.5" font-size="5.5" font-weight="bold" text-anchor="middle" fill="#000">1.0</text>
<line x1="443.9" y1="285.1" x2="443.9" y2="283.5" stroke="#7c7c7c" stroke-width="0.7"/>
<line x1="452.2" y1="285.1" x2="452.2" y2="284.1" stroke="#7c7c7c" stroke-width="0.7"/>
<text x="443.9" y="292.5" font-size="5.5" font-weight="bold" text-anchor="middle" fill="#000">1.2</text>
<line x1="460.5" y1="285.1" x2="460.5" y2="283.5" stroke="#7c7c7c" stroke-width="0.7"/>
<line x1="468.8" y1="285.1" x2="468.8" y2="284.1" stroke="#7c7c7c" stroke-width="0.7"/>
<text x="460.5" y="292.5" font-size="5.5" font-weight="bold" text-anchor="middle" fill="#000">1.4</text>
<line x1="477.1" y1="285.1" x2="477.1" y2="283.5" stroke="#7c7c7c" stroke-width="0.7"/>
<line x1="485.4" y1="285.1" x2="485.4" y2="284.1" stroke="#7c7c7c" stroke-width="0.7"/>
<text x="477.1" y="292.5" font-size="5.5" font-weight="bold" text-anchor="middle" fill="#000">1.6</text>
<line x1="493.7" y1="285.1" x2="493.7" y2="283.5" stroke="#7c7c7c" stroke-width="0.7"/>
<line x1="502" y1="285.1" x2="502" y2="284.1" stroke="#7c7c7c" stroke-width="0.7"/>
<text x="493.7" y="292.5" font-size="5.5" font-weight="bold" text-anchor="middle" fill="#000">1.8</text>
<line x1="510.3" y1="285.1" x2="510.3" y2="283.5" stroke="#7c7c7c" stroke-width="0.7"/>
<line x1="518.6" y1="285.1" x2="518.6" y2="284.1" stroke="#7c7c7c" stroke-width="0.7"/>
<text x="510.3" y="292.5" font-size="5.5" font-weight="bold" text-anchor="middle" fill="#000">2.0</text>
<line x1="526.9" y1="285.1" x2="526.9" y2="283.5" stroke="#7c7c7c" stroke-width="0.7"/>
<line x1="535.2" y1="285.1" x2="535.2" y2="284.1" stroke="#7c7c7c" stroke-width="0.7"/>
<text x="526.9" y="292.5" font-size="5.5" font-weight="bold" text-anchor="middle" fill="#000">2.2</text>
<line x1="543.5" y1="285.1" x2="543.5" y2="283.5" stroke="#7c7c7c" stroke-width="0.7"/>
<text x="543.5" y="292.5" font-size="5.5" font-weight="bold" text-anchor="middle" fill="#000">2.4</text>
<clipPath id="cf"><rect x="402.3" y="171.0" width="141.3" height="114.1"/></clipPath>
<g clip-path="url(#cf)">
<line x1="407.38" y1="263.23" x2="543.5" y2="225.01" stroke="#555555" stroke-width="0.8"/>
<line x1="407.38" y1="250.87" x2="543.5" y2="198" stroke="#4a4aff" stroke-width="0.8"/>
<line x1="407.38" y1="260.38" x2="543.5" y2="196.67" stroke="#ff4a4a" stroke-width="0.8"/>
<line x1="407.38" y1="268.94" x2="543.5" y2="200.67" stroke="#ff4aff" stroke-width="0.8"/>
<rect x="405.88" y="256.98" width="3" height="3" fill="#000"/>
<path d="M407.38,235.66l1.8,3.3h-3.6z" fill="#0000ff"/>
<circle cx="407.38" cy="242.5" r="1.7" fill="#ff0000"/>
<path d="M407.38,254.68l1.8,3.3h-3.6z" fill="#0000ff"/>
<circle cx="407.38" cy="259.05" r="1.7" fill="#ff0000"/>
<path d="M407.38,266.08l1.8,-3.3h-3.6z" fill="#ff00ff"/>
<rect x="433.27" y="258.12" width="3" height="3" fill="#000"/>
<circle cx="434.77" cy="253.72" r="1.7" fill="#ff0000"/>
<path d="M434.77,254.68l1.8,3.3h-3.6z" fill="#0000ff"/>
<path d="M434.77,263.42l1.8,-3.3h-3.6z" fill="#ff00ff"/>
<path d="M434.77,283.2l1.8,3.3h-3.6z" fill="#0000ff"/>
<rect x="453.19" y="252.03" width="3" height="3" fill="#000"/>
<path d="M454.69,233.76l1.8,3.3h-3.6z" fill="#0000ff"/>
<path d="M454.69,240.41l1.8,3.3h-3.6z" fill="#0000ff"/>
<circle cx="454.69" cy="247.07" r="1.7" fill="#ff0000"/>
<path d="M454.69,253.15l1.8,-3.3h-3.6z" fill="#ff00ff"/>
<rect x="471.45" y="240.81" width="3" height="3" fill="#000"/>
<path d="M472.95,232.43l1.8,3.3h-3.6z" fill="#0000ff"/>
<circle cx="472.95" cy="241.36" r="1.7" fill="#ff0000"/>
<path d="M472.95,224.25l1.8,-3.3h-3.6z" fill="#ff00ff"/>
<path d="M487.06,209.99l1.8,3.3h-3.6z" fill="#0000ff"/>
<rect x="499.67" y="232.25" width="3" height="3" fill="#000"/>
<circle cx="501.17" cy="206.18" r="1.7" fill="#ff0000"/>
<path d="M501.17,221.01l1.8,-3.3h-3.6z" fill="#ff00ff"/>
<path d="M501.17,287l1.8,-3.3h-3.6z" fill="#ff00ff"/>
<rect x="522.91" y="233.4" width="3" height="3" fill="#000"/>
<circle cx="524.41" cy="195.72" r="1.7" fill="#ff0000"/>
<path d="M524.41,200.48l1.8,3.3h-3.6z" fill="#0000ff"/>
<path d="M524.41,208.46l1.8,-3.3h-3.6z" fill="#ff00ff"/>
</g>
<line x1="409" y1="185.8" x2="419.2" y2="185.8" stroke="#8a8a8a" stroke-width="0.9"/>
<text x="420.6" y="187.7" font-size="5.45" font-weight="bold" text-anchor="start" fill="#000">linear fit of BB0.25T</text>
<line x1="409" y1="193.3" x2="419.2" y2="193.3" stroke="#7070f0" stroke-width="0.9"/>
<text x="420.6" y="195.2" font-size="5.45" font-weight="bold" text-anchor="start" fill="#000">linear fit of BB0.5T</text>
<line x1="409" y1="201" x2="419.2" y2="201" stroke="#f05a5a" stroke-width="0.9"/>
<text x="420.6" y="202.9" font-size="5.45" font-weight="bold" text-anchor="start" fill="#000">linear fit of BB0.75T</text>
<line x1="409" y1="208.4" x2="419.2" y2="208.4" stroke="#f070f0" stroke-width="0.9"/>
<text x="420.6" y="210.3" font-size="5.45" font-weight="bold" text-anchor="start" fill="#000">linear fit of BB1T</text>
<text x="382" y="227" font-size="9.0" font-weight="bold" text-anchor="middle" fill="#000" transform="rotate(-90 382 227)">βcosθ</text>
<text x="473" y="306" font-size="9.2" font-weight="bold" text-anchor="middle" fill="#000">4sinθ</text>
<text x="371" y="171.8" font-size="13" font-weight="normal" text-anchor="start" fill="#000">(f)</text>
<defs>
<linearGradient id="gc" x1="0" y1="0" x2="0" y2="1"><stop offset="0" stop-color="#08eaea"/><stop offset="0.31" stop-color="#08eaea"/><stop offset="0.37" stop-color="#66dcd6"/><stop offset="0.52" stop-color="#b4c4b8"/><stop offset="0.66" stop-color="#f8aa88"/><stop offset="1" stop-color="#ff8410"/></linearGradient>
<linearGradient id="gm" x1="0" y1="0" x2="0" y2="1"><stop offset="0" stop-color="#ff00ff"/><stop offset="0.30" stop-color="#ff14f4"/><stop offset="0.60" stop-color="#ff5cbc"/><stop offset="0.85" stop-color="#ff7870"/><stop offset="1" stop-color="#ff8830"/></linearGradient>
<linearGradient id="gy" x1="0" y1="0" x2="0" y2="1"><stop offset="0" stop-color="#ffff00"/><stop offset="0.28" stop-color="#ffff00"/><stop offset="0.60" stop-color="#ffc800"/><stop offset="1" stop-color="#ff8800"/></linearGradient>
<linearGradient id="go" x1="0" y1="0" x2="0" y2="1"><stop offset="0" stop-color="#808000"/><stop offset="0.18" stop-color="#848000"/><stop offset="0.50" stop-color="#b87a00"/><stop offset="0.75" stop-color="#f28200"/><stop offset="1" stop-color="#ff8400"/></linearGradient>
</defs>
<rect x="42.5" y="362.8" width="21.3" height="85.6" fill="url(#gc)" stroke="#555" stroke-width="0.5"/>
<text x="53.15" y="361.2" font-size="5.5" font-weight="bold" text-anchor="middle" fill="#000">67.51099</text>
<line x1="53.15" y1="448.4" x2="53.15" y2="450.2" stroke="#7c7c7c" stroke-width="0.7"/>
<rect x="78" y="369.96" width="21.3" height="78.44" fill="url(#gm)" stroke="#555" stroke-width="0.5"/>
<text x="88.65" y="368.36" font-size="5.5" font-weight="bold" text-anchor="middle" fill="#000">64.371733</text>
<line x1="88.65" y1="448.4" x2="88.65" y2="450.2" stroke="#7c7c7c" stroke-width="0.7"/>
<rect x="113.5" y="358.48" width="21.3" height="89.92" fill="url(#gy)" stroke="#555" stroke-width="0.5"/>
<text x="124.15" y="356.88" font-size="5.5" font-weight="bold" text-anchor="middle" fill="#000">69.404628</text>
<line x1="124.15" y1="448.4" x2="124.15" y2="450.2" stroke="#7c7c7c" stroke-width="0.7"/>
<rect x="149" y="349.42" width="21.3" height="98.98" fill="url(#go)" stroke="#555" stroke-width="0.5"/>
<text x="159.65" y="347.82" font-size="5.5" font-weight="bold" text-anchor="middle" fill="#000">73.375142</text>
<line x1="159.65" y1="448.4" x2="159.65" y2="450.2" stroke="#7c7c7c" stroke-width="0.7"/>
<rect x="35.4" y="334.3" width="142" height="114.1" fill="none" stroke="#7c7c7c" stroke-width="0.9"/>
<line x1="35.4" y1="448.4" x2="37.4" y2="448.4" stroke="#7c7c7c" stroke-width="0.7"/>
<text x="32.8" y="450.3" font-size="5.6" font-weight="bold" text-anchor="end" fill="#000">30</text>
<line x1="35.4" y1="425.58" x2="37.4" y2="425.58" stroke="#7c7c7c" stroke-width="0.7"/>
<text x="32.8" y="427.48" font-size="5.6" font-weight="bold" text-anchor="end" fill="#000">40</text>
<line x1="35.4" y1="402.76" x2="37.4" y2="402.76" stroke="#7c7c7c" stroke-width="0.7"/>
<text x="32.8" y="404.66" font-size="5.6" font-weight="bold" text-anchor="end" fill="#000">50</text>
<line x1="35.4" y1="379.94" x2="37.4" y2="379.94" stroke="#7c7c7c" stroke-width="0.7"/>
<text x="32.8" y="381.84" font-size="5.6" font-weight="bold" text-anchor="end" fill="#000">60</text>
<line x1="35.4" y1="357.12" x2="37.4" y2="357.12" stroke="#7c7c7c" stroke-width="0.7"/>
<text x="32.8" y="359.02" font-size="5.6" font-weight="bold" text-anchor="end" fill="#000">70</text>
<line x1="35.4" y1="334.3" x2="37.4" y2="334.3" stroke="#7c7c7c" stroke-width="0.7"/>
<text x="32.8" y="336.2" font-size="5.6" font-weight="bold" text-anchor="end" fill="#000">80</text>
<line x1="35.4" y1="436.99" x2="36.6" y2="436.99" stroke="#7c7c7c" stroke-width="0.7"/>
<line x1="35.4" y1="414.17" x2="36.6" y2="414.17" stroke="#7c7c7c" stroke-width="0.7"/>
<line x1="35.4" y1="391.35" x2="36.6" y2="391.35" stroke="#7c7c7c" stroke-width="0.7"/>
<line x1="35.4" y1="368.53" x2="36.6" y2="368.53" stroke="#7c7c7c" stroke-width="0.7"/>
<line x1="35.4" y1="345.71" x2="36.6" y2="345.71" stroke="#7c7c7c" stroke-width="0.7"/>
<text x="53.15" y="455.8" font-size="5.8" font-weight="bold" text-anchor="middle" fill="#000">BB0.25T</text>
<text x="88.65" y="455.8" font-size="5.8" font-weight="bold" text-anchor="middle" fill="#000">BB0.5T</text>
<text x="124.15" y="455.8" font-size="5.8" font-weight="bold" text-anchor="middle" fill="#000">BB0.75T</text>
<text x="159.65" y="455.8" font-size="5.8" font-weight="bold" text-anchor="middle" fill="#000">BB1T</text>
<text x="107.7" y="467.9" font-size="8.9" font-weight="bold" text-anchor="middle" fill="#000">Samples</text>
<text x="24.4" y="387.6" font-size="9.5" font-weight="bold" text-anchor="middle" transform="rotate(-90 24.4 387.6)">Crystallite size (nm)</text>
<text x="3.4" y="333" font-size="13" font-weight="normal" text-anchor="start" fill="#000">(g)</text>
<rect x="225.57" y="372.62" width="21.22" height="75.78" fill="url(#gc)" stroke="#555" stroke-width="0.5"/>
<text x="236.19" y="371.02" font-size="5.5" font-weight="bold" text-anchor="middle" fill="#000">2.229947</text>
<line x1="236.19" y1="448.4" x2="236.19" y2="450.2" stroke="#7c7c7c" stroke-width="0.7"/>
<rect x="260.95" y="356.97" width="21.22" height="91.43" fill="url(#gm)" stroke="#555" stroke-width="0.5"/>
<text x="271.56" y="355.37" font-size="5.5" font-weight="bold" text-anchor="middle" fill="#000">2.38064</text>
<line x1="271.56" y1="448.4" x2="271.56" y2="450.2" stroke="#7c7c7c" stroke-width="0.7"/>
<rect x="296.32" y="345.59" width="21.22" height="102.81" fill="url(#gy)" stroke="#555" stroke-width="0.5"/>
<text x="306.94" y="343.99" font-size="5.5" font-weight="bold" text-anchor="middle" fill="#000">2.490296</text>
<line x1="306.94" y1="448.4" x2="306.94" y2="450.2" stroke="#7c7c7c" stroke-width="0.7"/>
<rect x="331.7" y="354.35" width="21.22" height="94.05" fill="url(#go)" stroke="#555" stroke-width="0.5"/>
<text x="342.31" y="352.75" font-size="5.5" font-weight="bold" text-anchor="middle" fill="#000">2.405956</text>
<line x1="342.31" y1="448.4" x2="342.31" y2="450.2" stroke="#7c7c7c" stroke-width="0.7"/>
<rect x="218.5" y="334.2" width="141.5" height="114.2" fill="none" stroke="#7c7c7c" stroke-width="0.9"/>
<line x1="218.5" y1="438.02" x2="220.5" y2="438.02" stroke="#7c7c7c" stroke-width="0.7"/>
<text x="215.9" y="439.92" font-size="5.6" font-weight="bold" text-anchor="end" fill="#000">1.6</text>
<line x1="218.5" y1="417.25" x2="220.5" y2="417.25" stroke="#7c7c7c" stroke-width="0.7"/>
<text x="215.9" y="419.15" font-size="5.6" font-weight="bold" text-anchor="end" fill="#000">1.8</text>
<line x1="218.5" y1="396.49" x2="220.5" y2="396.49" stroke="#7c7c7c" stroke-width="0.7"/>
<text x="215.9" y="398.39" font-size="5.6" font-weight="bold" text-anchor="end" fill="#000">2.0</text>
<line x1="218.5" y1="375.73" x2="220.5" y2="375.73" stroke="#7c7c7c" stroke-width="0.7"/>
<text x="215.9" y="377.63" font-size="5.6" font-weight="bold" text-anchor="end" fill="#000">2.2</text>
<line x1="218.5" y1="354.96" x2="220.5" y2="354.96" stroke="#7c7c7c" stroke-width="0.7"/>
<text x="215.9" y="356.86" font-size="5.6" font-weight="bold" text-anchor="end" fill="#000">2.4</text>
<line x1="218.5" y1="334.2" x2="220.5" y2="334.2" stroke="#7c7c7c" stroke-width="0.7"/>
<text x="215.9" y="336.1" font-size="5.6" font-weight="bold" text-anchor="end" fill="#000">2.6</text>
<line x1="218.5" y1="427.64" x2="219.7" y2="427.64" stroke="#7c7c7c" stroke-width="0.7"/>
<line x1="218.5" y1="406.87" x2="219.7" y2="406.87" stroke="#7c7c7c" stroke-width="0.7"/>
<line x1="218.5" y1="386.11" x2="219.7" y2="386.11" stroke="#7c7c7c" stroke-width="0.7"/>
<line x1="218.5" y1="365.35" x2="219.7" y2="365.35" stroke="#7c7c7c" stroke-width="0.7"/>
<line x1="218.5" y1="344.58" x2="219.7" y2="344.58" stroke="#7c7c7c" stroke-width="0.7"/>
<text x="236.19" y="455.8" font-size="5.8" font-weight="bold" text-anchor="middle" fill="#000">BB0.25T</text>
<text x="271.56" y="455.8" font-size="5.8" font-weight="bold" text-anchor="middle" fill="#000">BB0.5T</text>
<text x="306.94" y="455.8" font-size="5.8" font-weight="bold" text-anchor="middle" fill="#000">BB0.75T</text>
<text x="342.31" y="455.8" font-size="5.8" font-weight="bold" text-anchor="middle" fill="#000">BB1T</text>
<text x="294.8" y="466.6" font-size="8.9" font-weight="bold" text-anchor="middle" fill="#000">Samples</text>
<text x="204.0" y="384.8" font-size="10" font-weight="bold" text-anchor="middle" transform="rotate(-90 204 384.8)">ε*10<tspan font-size="6.6" dy="-3.8">-3</tspan></text>
<text x="188" y="333" font-size="13" font-weight="normal" text-anchor="start" fill="#000">(h)</text>
<rect x="409.4" y="399.1" width="21" height="49.3" fill="url(#gc)" stroke="#555" stroke-width="0.5"/>
<text x="419.9" y="397.5" font-size="5.5" font-weight="bold" text-anchor="middle" fill="#000">0.6096</text>
<line x1="419.9" y1="448.4" x2="419.9" y2="450.2" stroke="#7c7c7c" stroke-width="0.7"/>
<rect x="444.4" y="373.59" width="21" height="74.81" fill="url(#gm)" stroke="#555" stroke-width="0.5"/>
<text x="454.9" y="371.99" font-size="5.5" font-weight="bold" text-anchor="middle" fill="#000">0.821587</text>
<line x1="454.9" y1="448.4" x2="454.9" y2="450.2" stroke="#7c7c7c" stroke-width="0.7"/>
<rect x="479.4" y="360.46" width="21" height="87.94" fill="url(#gy)" stroke="#555" stroke-width="0.5"/>
<text x="489.9" y="358.86" font-size="5.5" font-weight="bold" text-anchor="middle" fill="#000">0.930614</text>
<line x1="489.9" y1="448.4" x2="489.9" y2="450.2" stroke="#7c7c7c" stroke-width="0.7"/>
<rect x="514.4" y="346.33" width="21" height="102.07" fill="url(#go)" stroke="#555" stroke-width="0.5"/>
<text x="524.9" y="344.73" font-size="5.5" font-weight="bold" text-anchor="middle" fill="#000">1.048083</text>
<line x1="524.9" y1="448.4" x2="524.9" y2="450.2" stroke="#7c7c7c" stroke-width="0.7"/>
<rect x="402.4" y="334.3" width="140" height="114.1" fill="none" stroke="#7c7c7c" stroke-width="0.9"/>
<line x1="402.4" y1="448.4" x2="404.4" y2="448.4" stroke="#7c7c7c" stroke-width="0.7"/>
<text x="399.8" y="450.3" font-size="5.6" font-weight="bold" text-anchor="end" fill="#000">0.2</text>
<line x1="402.4" y1="424.33" x2="404.4" y2="424.33" stroke="#7c7c7c" stroke-width="0.7"/>
<text x="399.8" y="426.23" font-size="5.6" font-weight="bold" text-anchor="end" fill="#000">0.4</text>
<line x1="402.4" y1="400.26" x2="404.4" y2="400.26" stroke="#7c7c7c" stroke-width="0.7"/>
<text x="399.8" y="402.16" font-size="5.6" font-weight="bold" text-anchor="end" fill="#000">0.6</text>
<line x1="402.4" y1="376.18" x2="404.4" y2="376.18" stroke="#7c7c7c" stroke-width="0.7"/>
<text x="399.8" y="378.08" font-size="5.6" font-weight="bold" text-anchor="end" fill="#000">0.8</text>
<line x1="402.4" y1="352.11" x2="404.4" y2="352.11" stroke="#7c7c7c" stroke-width="0.7"/>
<text x="399.8" y="354.01" font-size="5.6" font-weight="bold" text-anchor="end" fill="#000">1.0</text>
<line x1="402.4" y1="436.36" x2="403.6" y2="436.36" stroke="#7c7c7c" stroke-width="0.7"/>
<line x1="402.4" y1="412.29" x2="403.6" y2="412.29" stroke="#7c7c7c" stroke-width="0.7"/>
<line x1="402.4" y1="388.22" x2="403.6" y2="388.22" stroke="#7c7c7c" stroke-width="0.7"/>
<line x1="402.4" y1="364.15" x2="403.6" y2="364.15" stroke="#7c7c7c" stroke-width="0.7"/>
<line x1="402.4" y1="340.08" x2="403.6" y2="340.08" stroke="#7c7c7c" stroke-width="0.7"/>
<text x="419.9" y="455.8" font-size="5.8" font-weight="bold" text-anchor="middle" fill="#000">BB0.25T</text>
<text x="454.9" y="455.8" font-size="5.8" font-weight="bold" text-anchor="middle" fill="#000">BB0.5T</text>
<text x="489.9" y="455.8" font-size="5.8" font-weight="bold" text-anchor="middle" fill="#000">BB0.75T</text>
<text x="524.9" y="455.8" font-size="5.8" font-weight="bold" text-anchor="middle" fill="#000">BB1T</text>
<text x="475" y="466.6" font-size="8.9" font-weight="bold" text-anchor="middle" fill="#000">Samples</text>
<text x="390.6" y="388.3" font-size="8.5" font-weight="bold" text-anchor="middle" transform="rotate(-90 390.6 388.3)">Dislocation density (nm<tspan font-size="5.8" dy="-3.3">-2</tspan><tspan dy="3.3">)</tspan></text>
<text x="371" y="333" font-size="13" font-weight="normal" text-anchor="start" fill="#000">(i)</text>
</svg>
</body></html>
